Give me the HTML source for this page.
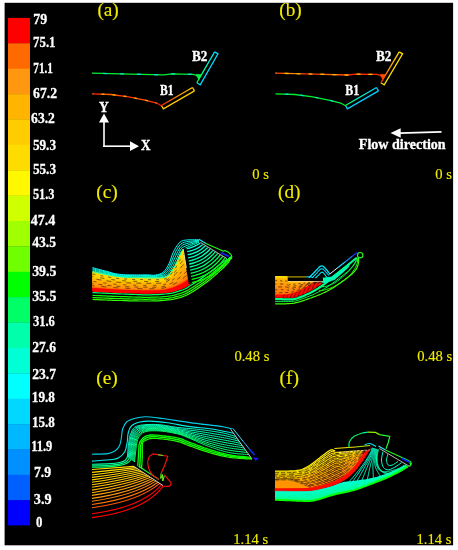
<!DOCTYPE html>
<html><head><meta charset="utf-8"><title>Figure</title>
<style>
html,body{margin:0;padding:0;background:#fff;}
body{width:458px;height:550px;overflow:hidden;}
svg{display:block;}
text{font-family:"Liberation Serif",serif;}
.w{fill:#fff;font-weight:bold;stroke:#fff;stroke-width:0.3px;}
.y{fill:#f0ec00;stroke:#f0ec00;stroke-width:0.15px;}
</style></head><body>
<svg width="458" height="550" viewBox="0 0 458 550">
<rect x="0" y="0" width="458" height="550" fill="#fff"/>
<rect x="4.6" y="2.8" width="448.5" height="542.5" fill="#000"/>

<g id="colorbar">
<rect x="8" y="17.9" width="22" height="25.7" fill="#ff0000"/>
<rect x="8" y="43.3" width="22" height="25.7" fill="#ff6a00"/>
<rect x="8" y="68.7" width="22" height="25.7" fill="#ff9810"/>
<rect x="8" y="94.1" width="22" height="25.7" fill="#ffb400"/>
<rect x="8" y="119.4" width="22" height="25.7" fill="#ffcc00"/>
<rect x="8" y="144.8" width="22" height="25.7" fill="#ffdc00"/>
<rect x="8" y="170.2" width="22" height="25.7" fill="#fff800"/>
<rect x="8" y="195.6" width="22" height="25.7" fill="#d0ff00"/>
<rect x="8" y="221.0" width="22" height="25.7" fill="#a0ff00"/>
<rect x="8" y="246.4" width="22" height="25.7" fill="#70ff00"/>
<rect x="8" y="271.8" width="22" height="25.7" fill="#00ff00"/>
<rect x="8" y="297.1" width="22" height="25.7" fill="#00ff66"/>
<rect x="8" y="322.5" width="22" height="25.7" fill="#00ffaa"/>
<rect x="8" y="347.9" width="22" height="25.7" fill="#00ffd5"/>
<rect x="8" y="373.3" width="22" height="25.7" fill="#00ffff"/>
<rect x="8" y="398.7" width="22" height="25.7" fill="#00d8ff"/>
<rect x="8" y="424.1" width="22" height="25.7" fill="#00b8ff"/>
<rect x="8" y="449.4" width="22" height="25.7" fill="#0090ff"/>
<rect x="8" y="474.8" width="22" height="25.7" fill="#0060ff"/>
<rect x="8" y="500.2" width="22" height="25.2" fill="#0000ff"/>
</g>
<g id="cblabels">
<text class="w" font-size="15" x="33.3" y="24.2" textLength="13.9" lengthAdjust="spacingAndGlyphs">79</text>
<text class="w" font-size="15" x="33.1" y="46.9" textLength="22.4" lengthAdjust="spacingAndGlyphs">75.1</text>
<text class="w" font-size="15" x="33.3" y="73.3" textLength="19.6" lengthAdjust="spacingAndGlyphs">71.1</text>
<text class="w" font-size="15" x="33.1" y="98.4" textLength="24.0" lengthAdjust="spacingAndGlyphs">67.2</text>
<text class="w" font-size="15" x="31.1" y="123.1" textLength="23.8" lengthAdjust="spacingAndGlyphs">63.2</text>
<text class="w" font-size="15" x="32.9" y="150.1" textLength="23.1" lengthAdjust="spacingAndGlyphs">59.3</text>
<text class="w" font-size="15" x="32.9" y="174.3" textLength="23.1" lengthAdjust="spacingAndGlyphs">55.3</text>
<text class="w" font-size="15" x="32.9" y="199.4" textLength="21.5" lengthAdjust="spacingAndGlyphs">51.3</text>
<text class="w" font-size="15" x="30.7" y="225.4" textLength="24.6" lengthAdjust="spacingAndGlyphs">47.4</text>
<text class="w" font-size="15" x="32.2" y="246.8" textLength="23.8" lengthAdjust="spacingAndGlyphs">43.5</text>
<text class="w" font-size="15" x="32.2" y="275.8" textLength="24.2" lengthAdjust="spacingAndGlyphs">39.5</text>
<text class="w" font-size="15" x="32.2" y="300.7" textLength="24.2" lengthAdjust="spacingAndGlyphs">35.5</text>
<text class="w" font-size="15" x="32.9" y="325.8" textLength="22.0" lengthAdjust="spacingAndGlyphs">31.6</text>
<text class="w" font-size="15" x="32.2" y="352.2" textLength="23.8" lengthAdjust="spacingAndGlyphs">27.6</text>
<text class="w" font-size="15" x="32.2" y="379.2" textLength="23.8" lengthAdjust="spacingAndGlyphs">23.7</text>
<text class="w" font-size="15" x="31.8" y="402.1" textLength="23.1" lengthAdjust="spacingAndGlyphs">19.8</text>
<text class="w" font-size="15" x="32.0" y="427.2" textLength="22.9" lengthAdjust="spacingAndGlyphs">15.8</text>
<text class="w" font-size="15" x="31.2" y="451.3" textLength="21.1" lengthAdjust="spacingAndGlyphs">11.9</text>
<text class="w" font-size="15" x="33.9" y="477.2" textLength="17.3" lengthAdjust="spacingAndGlyphs">7.9</text>
<text class="w" font-size="15" x="33.8" y="504.2" textLength="17.8" lengthAdjust="spacingAndGlyphs">3.9</text>
<text class="w" font-size="15" x="36.0" y="527.2" textLength="6.4" lengthAdjust="spacingAndGlyphs">0</text>
</g>
<g id="panel-labels">
<text class="y" font-size="18.5" x="97.4" y="15.7" textLength="21.4" lengthAdjust="spacingAndGlyphs">(a)</text>
<text class="y" font-size="18.5" x="279.3" y="16.4" textLength="22.4" lengthAdjust="spacingAndGlyphs">(b)</text>
<text class="y" font-size="18.5" x="96.3" y="197.7" textLength="21.5" lengthAdjust="spacingAndGlyphs">(c)</text>
<text class="y" font-size="18.5" x="278.0" y="197.7" textLength="22.4" lengthAdjust="spacingAndGlyphs">(d)</text>
<text class="y" font-size="18.5" x="96.3" y="384" textLength="21.5" lengthAdjust="spacingAndGlyphs">(e)</text>
<text class="y" font-size="18.5" x="279.6" y="384" textLength="19.5" lengthAdjust="spacingAndGlyphs">(f)</text>
</g><g id="times">
<text class="y" font-size="15.5" transform="translate(252.3,179) scale(0.945,1)">0 s</text>
<text class="y" font-size="15.5" transform="translate(435.2,179) scale(0.945,1)">0 s</text>
<text class="y" font-size="15.5" transform="translate(234.4,361) scale(0.945,1)">0.48 s</text>
<text class="y" font-size="15.5" transform="translate(417.3,360.8) scale(0.945,1)">0.48 s</text>
<text class="y" font-size="15.5" transform="translate(233.2,544.3) scale(0.945,1)">1.14 s</text>
<text class="y" font-size="15.5" transform="translate(416.5,544.3) scale(0.945,1)">1.14 s</text>
</g><g id="annot">
<text class="w" font-size="14" x="98.9" y="112.4" textLength="9.8" lengthAdjust="spacingAndGlyphs">Y</text>
<text class="w" font-size="14" x="141.1" y="150.3" textLength="9.5" lengthAdjust="spacingAndGlyphs">X</text>
<text class="w" font-size="14" x="358.8" y="148.9" textLength="86.9" lengthAdjust="spacingAndGlyphs">Flow direction</text>
<text class="w" font-size="14" x="160.1" y="95.4" textLength="13.6" lengthAdjust="spacingAndGlyphs">B1</text>
<text class="w" font-size="14" x="192.0" y="61.4" textLength="15.4" lengthAdjust="spacingAndGlyphs">B2</text>
<text class="w" font-size="14" x="345.2" y="94.8" textLength="13.9" lengthAdjust="spacingAndGlyphs">B1</text>
<text class="w" font-size="14" x="376.0" y="61.4" textLength="15.4" lengthAdjust="spacingAndGlyphs">B2</text>
</g>
<g id="axes" fill="#fff" stroke="none">
<rect x="103.2" y="120" width="1.6" height="27"/>
<rect x="103.2" y="145.4" width="30" height="1.6"/>
<polygon points="104,113.5 99,122.5 109,122.5"/>
<polygon points="139,146.2 130,141.3 130,151.1"/>
</g>
<g id="flow" fill="#fff">
<polygon points="400,132.3 441.5,131.1 441.5,132.7 400,133.9"/>
<polygon points="390.5,133 400.7,128.3 400.7,137.7"/>
</g>

<defs>
<linearGradient id="gA1" gradientUnits="userSpaceOnUse" x1="161" y1="106" x2="193" y2="88"><stop offset="0" stop-color="#ff2000"/><stop offset="0.5" stop-color="#ff9000"/><stop offset="1" stop-color="#ffcc00"/></linearGradient>
<linearGradient id="gA2" gradientUnits="userSpaceOnUse" x1="197" y1="83" x2="215" y2="52"><stop offset="0" stop-color="#00ff40"/><stop offset="0.45" stop-color="#00ffaa"/><stop offset="1" stop-color="#00e0ff"/></linearGradient>
<linearGradient id="gA3" gradientUnits="userSpaceOnUse" x1="92" y1="0" x2="162" y2="0"><stop offset="0" stop-color="#ff1000"/><stop offset="0.3" stop-color="#ff7000"/><stop offset="0.45" stop-color="#ff2000"/><stop offset="0.7" stop-color="#ff5000"/><stop offset="1" stop-color="#ff1000"/></linearGradient>
<linearGradient id="gB1" gradientUnits="userSpaceOnUse" x1="345" y1="106" x2="377" y2="88"><stop offset="0" stop-color="#00ff40"/><stop offset="0.4" stop-color="#00ffcc"/><stop offset="1" stop-color="#00ccff"/></linearGradient>
<linearGradient id="gB2" gradientUnits="userSpaceOnUse" x1="381" y1="83" x2="399" y2="52"><stop offset="0" stop-color="#ff2000"/><stop offset="0.4" stop-color="#ff9000"/><stop offset="1" stop-color="#ffdd00"/></linearGradient>
<linearGradient id="gB3" gradientUnits="userSpaceOnUse" x1="275" y1="0" x2="384" y2="0"><stop offset="0" stop-color="#ff2000"/><stop offset="0.15" stop-color="#ff9000"/><stop offset="0.3" stop-color="#ff2000"/><stop offset="0.55" stop-color="#ff7000"/><stop offset="0.7" stop-color="#ff2000"/><stop offset="1" stop-color="#ff3000"/></linearGradient>
</defs>
<g id="pa" fill="none" stroke-width="1.3" stroke-linejoin="miter">
<path d="M92,73.2 L130,74.1 L164,74.9 L172,73.9 L193,74.3 Q196.5,74.8 198.4,77" stroke="#00f030"/>
<path d="M196.3,74.3 L201.3,74.6 L198.7,79.6 Z" fill="#00f040" stroke="#00f040" stroke-width="0.6"/>
<path d="M92.5,93.8 L111,94.5 L128.7,96.8 L146,100.3 L156.6,103 L161.5,105.8" stroke="url(#gA3)"/>
<path d="M194.5,90.9 L163.4,108.9 L161.4,105.5" stroke="#ffcc00"/>
<path d="M161.4,105.5 L192.5,87.5" stroke="url(#gA1)"/>
<path d="M192.5,87.5 L194.5,90.9" stroke="#ffcc00"/>
<path d="M214.6,51.9 L218,53.85 L200.2,84.75 L196.8,82.8" stroke="#00d8ff"/>
<path d="M196.8,82.8 L214.6,51.9" stroke="url(#gA2)"/>
<path d="M92,73.2 L130,74.1 L164,74.9 L172,73.9 L193,74.3" stroke="#00e8c8" stroke-dasharray="4,13" stroke-dashoffset="6"/>
<path d="M92.5,93.8 L111,94.5 L128.7,96.8 L146,100.3 L156.6,103" stroke="#ffa800" stroke-dasharray="3,8" stroke-dashoffset="2"/>
</g>
<g id="pb" fill="none" stroke-width="1.3" stroke-linejoin="miter">
<path d="M275.5,73.2 L314,74.1 L348,75 L356,74.2 L377,74.4 Q380.5,74.9 382.4,77" stroke="url(#gB3)"/>
<path d="M380.3,74.3 L385.3,74.6 L382.7,79.6 Z" fill="#ff4800" stroke="#ff4800" stroke-width="0.6"/>
<path d="M275.5,93.8 L295,94.5 L312.7,96.8 L330,100.3 L340.6,103 L345.5,105.8" stroke="#00f030"/>
<path d="M378.5,90.9 L347.4,108.9 L345.4,105.5" stroke="#00d0ff"/>
<path d="M345.4,105.5 L376.5,87.5" stroke="url(#gB1)"/>
<path d="M376.5,87.5 L378.5,90.9" stroke="#00d0ff"/>
<path d="M399.2,51.9 L402.6,53.85 L384.2,84.75 L380.8,82.8" stroke="#ffe000"/>
<path d="M380.8,82.8 L399.2,51.9" stroke="url(#gB2)"/>
<path d="M275.5,73.2 L314,74.1 L348,75 L356,74.2 L377,74.4" stroke="#ffc000" stroke-dasharray="4,8" stroke-dashoffset="3"/>
<path d="M275.5,93.8 L295,94.5 L312.7,96.8 L330,100.3 L340.6,103" stroke="#00e8c8" stroke-dasharray="3,12" stroke-dashoffset="5"/>
</g>

<g id="pc" fill="none" stroke-linecap="butt" stroke-linejoin="round">
<path d="M92.5,271.8 L94.3,272.1 L96.1,272.5 L97.8,272.9 L99.6,273.2 L101.4,273.6 L103.2,274.0 L105.0,274.3 L106.8,274.7 L108.5,275.0 L110.3,275.3 L112.1,275.7 L113.9,275.9 L115.7,276.2 L117.5,276.5 L119.3,276.7 L121.1,276.9 L122.9,277.1 L124.8,277.2 L126.6,277.3 L128.4,277.4 L130.2,277.5 L132.0,277.5 L133.8,277.6 L135.7,277.6 L137.5,277.7 L139.3,277.7 L141.1,277.7 L142.9,277.7 L144.8,277.8 L146.6,277.8 L148.4,277.8 L150.2,277.8 L152.0,277.9 L153.8,277.9 L155.7,277.9 L157.5,277.9 L159.3,277.9 L161.1,277.8 L162.9,277.6 L164.7,277.3 L166.4,276.7 L168.0,275.8 L169.4,274.6 L170.6,273.3 L171.6,271.7 L172.5,270.2 L173.5,268.6 L174.4,267.1 L175.3,265.5 L176.1,263.9 L176.9,262.2 L177.7,260.6 L178.4,258.9 L179.0,257.2 L179.7,255.5 L180.6,253.9 L181.5,252.4 L182.5,250.8 L183.5,249.3" stroke="#ffe400" stroke-width="1.4" />
<path d="M92.5,272.2 L94.3,272.6 L96.1,272.9 L97.8,273.3 L99.6,273.7 L101.4,274.0 L103.2,274.4 L105.0,274.7 L106.7,275.1 L108.5,275.4 L110.3,275.7 L112.1,276.0 L113.9,276.3 L115.7,276.6 L117.5,276.8 L119.3,277.1 L121.1,277.3 L122.9,277.4 L124.7,277.5 L126.5,277.7 L128.3,277.8 L130.2,277.8 L132.0,277.9 L133.8,277.9 L135.6,278.0 L137.4,278.0 L139.2,278.0 L141.0,278.1 L142.9,278.1 L144.7,278.1 L146.5,278.1 L148.3,278.2 L150.1,278.2 L151.9,278.2 L153.8,278.2 L155.6,278.3 L157.4,278.3 L159.2,278.2 L161.0,278.1 L162.8,278.0 L164.6,277.6 L166.3,277.0 L167.9,276.1 L169.3,275.1 L170.5,273.7 L171.5,272.2 L172.5,270.7 L173.4,269.2 L174.4,267.6 L175.3,266.0 L176.1,264.5 L177.0,262.9 L177.7,261.2 L178.4,259.6 L179.1,257.9 L179.8,256.2 L180.7,254.7 L181.7,253.1 L182.7,251.6 L183.6,250.1" stroke="#ffe200" stroke-width="1.4" />
<path d="M92.5,272.7 L94.3,273.0 L96.1,273.4 L97.8,273.7 L99.6,274.1 L101.4,274.4 L103.2,274.8 L104.9,275.1 L106.7,275.4 L108.5,275.8 L110.3,276.1 L112.1,276.4 L113.9,276.7 L115.7,277.0 L117.5,277.2 L119.3,277.4 L121.1,277.6 L122.9,277.8 L124.7,277.9 L126.5,278.0 L128.3,278.1 L130.1,278.2 L131.9,278.2 L133.7,278.3 L135.5,278.3 L137.3,278.4 L139.2,278.4 L141.0,278.4 L142.8,278.4 L144.6,278.4 L146.4,278.5 L148.2,278.5 L150.0,278.5 L151.8,278.6 L153.7,278.6 L155.5,278.6 L157.3,278.6 L159.1,278.6 L160.9,278.5 L162.7,278.3 L164.5,278.0 L166.2,277.4 L167.8,276.5 L169.2,275.5 L170.4,274.1 L171.4,272.6 L172.4,271.2 L173.4,269.7 L174.3,268.2 L175.3,266.6 L176.1,265.1 L177.0,263.5 L177.8,261.9 L178.5,260.2 L179.2,258.6 L179.9,257.0 L180.8,255.4 L181.8,253.9 L182.8,252.4 L183.8,250.9" stroke="#ffdf00" stroke-width="1.4" />
<path d="M92.5,273.1 L94.3,273.4 L96.1,273.8 L97.8,274.1 L99.6,274.5 L101.4,274.8 L103.2,275.2 L104.9,275.5 L106.7,275.8 L108.5,276.2 L110.3,276.5 L112.1,276.8 L113.8,277.0 L115.6,277.3 L117.4,277.6 L119.2,277.8 L121.0,278.0 L122.8,278.1 L124.6,278.2 L126.4,278.3 L128.2,278.4 L130.0,278.5 L131.9,278.6 L133.7,278.6 L135.5,278.7 L137.3,278.7 L139.1,278.7 L140.9,278.8 L142.7,278.8 L144.5,278.8 L146.3,278.8 L148.1,278.8 L149.9,278.9 L151.8,278.9 L153.6,278.9 L155.4,278.9 L157.2,278.9 L159.0,278.9 L160.8,278.8 L162.6,278.6 L164.4,278.3 L166.1,277.8 L167.7,276.9 L169.1,275.9 L170.3,274.6 L171.3,273.1 L172.3,271.7 L173.3,270.2 L174.3,268.7 L175.2,267.2 L176.1,265.7 L177.0,264.1 L177.8,262.5 L178.5,260.9 L179.3,259.3 L180.0,257.7 L180.9,256.1 L181.9,254.6 L182.9,253.1 L183.9,251.6" stroke="#ffdd00" stroke-width="1.4" />
<path d="M92.5,273.5 L94.3,273.9 L96.0,274.2 L97.8,274.5 L99.6,274.9 L101.4,275.2 L103.1,275.6 L104.9,275.9 L106.7,276.2 L108.5,276.5 L110.2,276.8 L112.0,277.1 L113.8,277.4 L115.6,277.7 L117.4,277.9 L119.2,278.1 L121.0,278.3 L122.8,278.5 L124.6,278.6 L126.4,278.7 L128.2,278.8 L130.0,278.9 L131.8,278.9 L133.6,279.0 L135.4,279.0 L137.2,279.0 L139.0,279.1 L140.8,279.1 L142.6,279.1 L144.4,279.1 L146.2,279.2 L148.0,279.2 L149.9,279.2 L151.7,279.3 L153.5,279.3 L155.3,279.3 L157.1,279.3 L158.9,279.2 L160.7,279.2 L162.5,279.0 L164.3,278.7 L166.0,278.1 L167.5,277.3 L169.0,276.3 L170.2,275.0 L171.2,273.6 L172.3,272.1 L173.3,270.7 L174.3,269.2 L175.2,267.8 L176.1,266.3 L177.0,264.7 L177.8,263.2 L178.6,261.6 L179.4,260.0 L180.2,258.4 L181.1,256.9 L182.0,255.4 L183.1,253.9 L184.1,252.4" stroke="#ffdb00" stroke-width="1.4" />
<path d="M92.5,274.0 L94.3,274.3 L96.0,274.6 L97.8,275.0 L99.6,275.3 L101.4,275.6 L103.1,276.0 L104.9,276.3 L106.7,276.6 L108.4,276.9 L110.2,277.2 L112.0,277.5 L113.8,277.8 L115.6,278.0 L117.4,278.3 L119.1,278.5 L120.9,278.7 L122.7,278.8 L124.5,278.9 L126.3,279.0 L128.1,279.1 L129.9,279.2 L131.7,279.3 L133.5,279.3 L135.3,279.4 L137.1,279.4 L138.9,279.4 L140.7,279.4 L142.6,279.5 L144.4,279.5 L146.2,279.5 L148.0,279.5 L149.8,279.6 L151.6,279.6 L153.4,279.6 L155.2,279.6 L157.0,279.6 L158.8,279.6 L160.6,279.5 L162.4,279.3 L164.1,279.0 L165.9,278.5 L167.4,277.7 L168.9,276.7 L170.1,275.4 L171.2,274.0 L172.2,272.6 L173.3,271.2 L174.3,269.8 L175.2,268.3 L176.1,266.9 L177.0,265.3 L177.9,263.8 L178.7,262.3 L179.4,260.7 L180.3,259.1 L181.2,257.6 L182.2,256.1 L183.2,254.7 L184.2,253.2" stroke="#ffda00" stroke-width="1.4" />
<path d="M92.5,274.4 L94.3,274.7 L96.0,275.1 L97.8,275.4 L99.6,275.7 L101.3,276.0 L103.1,276.4 L104.9,276.7 L106.7,277.0 L108.4,277.3 L110.2,277.6 L112.0,277.9 L113.8,278.1 L115.5,278.4 L117.3,278.6 L119.1,278.8 L120.9,279.0 L122.7,279.2 L124.5,279.3 L126.3,279.4 L128.1,279.5 L129.9,279.5 L131.7,279.6 L133.5,279.7 L135.3,279.7 L137.1,279.7 L138.9,279.8 L140.7,279.8 L142.5,279.8 L144.3,279.8 L146.1,279.9 L147.9,279.9 L149.7,279.9 L151.5,279.9 L153.3,280.0 L155.1,280.0 L156.9,280.0 L158.7,279.9 L160.5,279.8 L162.3,279.7 L164.0,279.4 L165.7,278.9 L167.3,278.0 L168.8,277.1 L170.0,275.9 L171.1,274.5 L172.2,273.1 L173.2,271.7 L174.2,270.3 L175.2,268.9 L176.2,267.5 L177.1,266.0 L177.9,264.5 L178.7,262.9 L179.5,261.4 L180.4,259.9 L181.3,258.4 L182.3,256.9 L183.3,255.4 L184.4,254.0" stroke="#ffd800" stroke-width="1.4" />
<path d="M92.5,274.9 L94.3,275.2 L96.0,275.5 L97.8,275.8 L99.6,276.1 L101.3,276.4 L103.1,276.8 L104.9,277.1 L106.6,277.4 L108.4,277.7 L110.2,278.0 L111.9,278.2 L113.7,278.5 L115.5,278.8 L117.3,279.0 L119.1,279.2 L120.9,279.3 L122.6,279.5 L124.4,279.6 L126.2,279.7 L128.0,279.8 L129.8,279.9 L131.6,279.9 L133.4,280.0 L135.2,280.0 L137.0,280.1 L138.8,280.1 L140.6,280.1 L142.4,280.2 L144.2,280.2 L146.0,280.2 L147.8,280.2 L149.6,280.3 L151.4,280.3 L153.2,280.3 L155.0,280.3 L156.8,280.3 L158.6,280.3 L160.4,280.2 L162.2,280.0 L163.9,279.7 L165.6,279.2 L167.2,278.4 L168.7,277.5 L169.9,276.3 L171.0,274.9 L172.1,273.6 L173.2,272.3 L174.2,270.9 L175.2,269.5 L176.2,268.0 L177.1,266.6 L178.0,265.1 L178.8,263.6 L179.6,262.1 L180.5,260.6 L181.4,259.1 L182.4,257.7 L183.5,256.2 L184.5,254.8" stroke="#ffd700" stroke-width="1.4" />
<path d="M92.5,275.3 L94.3,275.6 L96.0,275.9 L97.8,276.2 L99.6,276.5 L101.3,276.9 L103.1,277.2 L104.8,277.5 L106.6,277.8 L108.4,278.1 L110.1,278.3 L111.9,278.6 L113.7,278.9 L115.5,279.1 L117.2,279.3 L119.0,279.5 L120.8,279.7 L122.6,279.8 L124.4,280.0 L126.2,280.1 L128.0,280.2 L129.8,280.2 L131.6,280.3 L133.4,280.3 L135.1,280.4 L136.9,280.4 L138.7,280.5 L140.5,280.5 L142.3,280.5 L144.1,280.5 L145.9,280.5 L147.7,280.6 L149.5,280.6 L151.3,280.6 L153.1,280.6 L154.9,280.7 L156.7,280.6 L158.5,280.6 L160.3,280.5 L162.0,280.4 L163.8,280.1 L165.5,279.6 L167.1,278.8 L168.6,277.9 L169.8,276.7 L170.9,275.4 L172.0,274.1 L173.1,272.8 L174.2,271.4 L175.2,270.1 L176.2,268.6 L177.1,267.2 L178.0,265.8 L178.9,264.3 L179.7,262.8 L180.6,261.3 L181.5,259.8 L182.6,258.4 L183.6,257.0 L184.6,255.5" stroke="#ffd500" stroke-width="1.4" />
<path d="M92.5,275.7 L94.3,276.0 L96.0,276.3 L97.8,276.6 L99.5,276.9 L101.3,277.3 L103.1,277.6 L104.8,277.9 L106.6,278.2 L108.4,278.4 L110.1,278.7 L111.9,279.0 L113.7,279.2 L115.4,279.5 L117.2,279.7 L119.0,279.9 L120.8,280.0 L122.6,280.2 L124.3,280.3 L126.1,280.4 L127.9,280.5 L129.7,280.6 L131.5,280.6 L133.3,280.7 L135.1,280.7 L136.9,280.8 L138.7,280.8 L140.5,280.8 L142.2,280.8 L144.0,280.9 L145.8,280.9 L147.6,280.9 L149.4,280.9 L151.2,281.0 L153.0,281.0 L154.8,281.0 L156.6,281.0 L158.4,281.0 L160.1,280.9 L161.9,280.7 L163.7,280.4 L165.4,280.0 L167.0,279.2 L168.5,278.3 L169.8,277.1 L170.8,275.9 L172.0,274.6 L173.1,273.3 L174.1,272.0 L175.2,270.6 L176.2,269.2 L177.1,267.8 L178.1,266.4 L178.9,265.0 L179.8,263.5 L180.7,262.0 L181.6,260.6 L182.7,259.2 L183.7,257.7 L184.8,256.3" stroke="#ffd400" stroke-width="1.4" />
<path d="M92.5,276.2 L94.3,276.5 L96.0,276.8 L97.8,277.1 L99.5,277.4 L101.3,277.7 L103.1,278.0 L104.8,278.3 L106.6,278.5 L108.3,278.8 L110.1,279.1 L111.9,279.4 L113.6,279.6 L115.4,279.8 L117.2,280.0 L119.0,280.2 L120.7,280.4 L122.5,280.5 L124.3,280.7 L126.1,280.8 L127.9,280.8 L129.7,280.9 L131.4,281.0 L133.2,281.0 L135.0,281.1 L136.8,281.1 L138.6,281.1 L140.4,281.2 L142.2,281.2 L144.0,281.2 L145.7,281.2 L147.5,281.3 L149.3,281.3 L151.1,281.3 L152.9,281.3 L154.7,281.3 L156.5,281.3 L158.3,281.3 L160.0,281.2 L161.8,281.1 L163.6,280.8 L165.3,280.3 L166.9,279.6 L168.4,278.7 L169.7,277.6 L170.8,276.3 L171.9,275.1 L173.0,273.8 L174.1,272.5 L175.2,271.2 L176.2,269.8 L177.2,268.5 L178.1,267.1 L179.0,265.6 L179.8,264.2 L180.8,262.7 L181.8,261.3 L182.8,259.9 L183.9,258.5 L184.9,257.1" stroke="#ffd300" stroke-width="1.4" />
<path d="M92.5,276.6 L94.3,276.9 L96.0,277.2 L97.8,277.5 L99.5,277.8 L101.3,278.1 L103.0,278.4 L104.8,278.6 L106.6,278.9 L108.3,279.2 L110.1,279.5 L111.8,279.7 L113.6,280.0 L115.4,280.2 L117.1,280.4 L118.9,280.6 L120.7,280.7 L122.5,280.9 L124.3,281.0 L126.0,281.1 L127.8,281.2 L129.6,281.3 L131.4,281.3 L133.2,281.4 L135.0,281.4 L136.7,281.5 L138.5,281.5 L140.3,281.5 L142.1,281.5 L143.9,281.6 L145.7,281.6 L147.4,281.6 L149.2,281.6 L151.0,281.7 L152.8,281.7 L154.6,281.7 L156.4,281.7 L158.1,281.6 L159.9,281.6 L161.7,281.4 L163.5,281.1 L165.2,280.7 L166.8,280.0 L168.3,279.1 L169.6,278.0 L170.7,276.8 L171.8,275.6 L173.0,274.3 L174.1,273.1 L175.1,271.8 L176.2,270.4 L177.2,269.1 L178.1,267.7 L179.0,266.3 L179.9,264.9 L180.9,263.5 L181.9,262.1 L182.9,260.7 L184.0,259.3 L185.1,257.9" stroke="#ffd100" stroke-width="1.4" />
<path d="M92.5,277.0 L94.3,277.3 L96.0,277.6 L97.8,277.9 L99.5,278.2 L101.3,278.5 L103.0,278.8 L104.8,279.0 L106.5,279.3 L108.3,279.6 L110.1,279.8 L111.8,280.1 L113.6,280.3 L115.3,280.6 L117.1,280.8 L118.9,280.9 L120.7,281.1 L122.4,281.2 L124.2,281.3 L126.0,281.4 L127.8,281.5 L129.5,281.6 L131.3,281.7 L133.1,281.7 L134.9,281.8 L136.7,281.8 L138.5,281.8 L140.2,281.9 L142.0,281.9 L143.8,281.9 L145.6,281.9 L147.4,282.0 L149.1,282.0 L150.9,282.0 L152.7,282.0 L154.5,282.0 L156.3,282.0 L158.0,282.0 L159.8,281.9 L161.6,281.8 L163.4,281.5 L165.1,281.0 L166.7,280.3 L168.2,279.5 L169.5,278.4 L170.6,277.3 L171.8,276.1 L172.9,274.9 L174.0,273.6 L175.1,272.3 L176.2,271.0 L177.2,269.7 L178.2,268.4 L179.1,267.0 L180.0,265.6 L181.0,264.2 L182.0,262.8 L183.1,261.4 L184.1,260.1 L185.2,258.7" stroke="#ffce00" stroke-width="1.4" />
<path d="M92.5,277.5 L94.3,277.7 L96.0,278.0 L97.8,278.3 L99.5,278.6 L101.3,278.9 L103.0,279.2 L104.8,279.4 L106.5,279.7 L108.3,280.0 L110.0,280.2 L111.8,280.5 L113.6,280.7 L115.3,280.9 L117.1,281.1 L118.8,281.3 L120.6,281.4 L122.4,281.6 L124.2,281.7 L125.9,281.8 L127.7,281.9 L129.5,281.9 L131.3,282.0 L133.0,282.1 L134.8,282.1 L136.6,282.1 L138.4,282.2 L140.2,282.2 L141.9,282.2 L143.7,282.2 L145.5,282.3 L147.3,282.3 L149.0,282.3 L150.8,282.3 L152.6,282.4 L154.4,282.4 L156.2,282.4 L157.9,282.3 L159.7,282.2 L161.5,282.1 L163.2,281.8 L164.9,281.4 L166.5,280.7 L168.1,279.9 L169.4,278.9 L170.5,277.7 L171.7,276.6 L172.9,275.4 L174.0,274.2 L175.1,272.9 L176.2,271.6 L177.2,270.3 L178.2,269.0 L179.2,267.6 L180.1,266.3 L181.1,264.9 L182.1,263.6 L183.2,262.2 L184.3,260.8 L185.4,259.4" stroke="#ffcb00" stroke-width="1.4" />
<path d="M92.5,277.9 L94.3,278.2 L96.0,278.4 L97.8,278.7 L99.5,279.0 L101.2,279.3 L103.0,279.6 L104.7,279.8 L106.5,280.1 L108.3,280.3 L110.0,280.6 L111.8,280.8 L113.5,281.1 L115.3,281.3 L117.0,281.5 L118.8,281.6 L120.6,281.8 L122.3,281.9 L124.1,282.0 L125.9,282.1 L127.7,282.2 L129.4,282.3 L131.2,282.4 L133.0,282.4 L134.8,282.4 L136.5,282.5 L138.3,282.5 L140.1,282.5 L141.9,282.6 L143.6,282.6 L145.4,282.6 L147.2,282.6 L149.0,282.7 L150.7,282.7 L152.5,282.7 L154.3,282.7 L156.1,282.7 L157.8,282.7 L159.6,282.6 L161.4,282.4 L163.1,282.2 L164.8,281.8 L166.4,281.1 L167.9,280.3 L169.3,279.3 L170.5,278.2 L171.7,277.0 L172.8,275.9 L174.0,274.7 L175.1,273.5 L176.2,272.2 L177.2,271.0 L178.3,269.7 L179.2,268.3 L180.2,267.0 L181.2,265.6 L182.2,264.3 L183.3,263.0 L184.4,261.6 L185.5,260.2" stroke="#ffc700" stroke-width="1.4" />
<path d="M92.5,278.3 L94.2,278.6 L96.0,278.9 L97.7,279.1 L99.5,279.4 L101.2,279.7 L103.0,280.0 L104.7,280.2 L106.5,280.5 L108.2,280.7 L110.0,281.0 L111.7,281.2 L113.5,281.4 L115.3,281.6 L117.0,281.8 L118.8,282.0 L120.5,282.1 L122.3,282.3 L124.1,282.4 L125.8,282.5 L127.6,282.6 L129.4,282.6 L131.2,282.7 L132.9,282.7 L134.7,282.8 L136.5,282.8 L138.2,282.9 L140.0,282.9 L141.8,282.9 L143.6,282.9 L145.3,283.0 L147.1,283.0 L148.9,283.0 L150.6,283.0 L152.4,283.0 L154.2,283.0 L156.0,283.0 L157.7,283.0 L159.5,282.9 L161.3,282.8 L163.0,282.5 L164.7,282.1 L166.3,281.5 L167.8,280.7 L169.2,279.7 L170.4,278.6 L171.6,277.5 L172.8,276.4 L173.9,275.3 L175.1,274.1 L176.2,272.8 L177.3,271.6 L178.3,270.3 L179.3,269.0 L180.3,267.7 L181.3,266.4 L182.3,265.0 L183.4,263.7 L184.5,262.4 L185.6,261.0" stroke="#ffc200" stroke-width="1.4" />
<path d="M92.5,278.8 L94.2,279.0 L96.0,279.3 L97.7,279.6 L99.5,279.8 L101.2,280.1 L103.0,280.4 L104.7,280.6 L106.5,280.9 L108.2,281.1 L110.0,281.3 L111.7,281.6 L113.5,281.8 L115.2,282.0 L117.0,282.2 L118.7,282.3 L120.5,282.5 L122.3,282.6 L124.0,282.7 L125.8,282.8 L127.6,282.9 L129.3,283.0 L131.1,283.0 L132.9,283.1 L134.6,283.1 L136.4,283.2 L138.2,283.2 L139.9,283.2 L141.7,283.3 L143.5,283.3 L145.2,283.3 L147.0,283.3 L148.8,283.4 L150.6,283.4 L152.3,283.4 L154.1,283.4 L155.9,283.4 L157.6,283.3 L159.4,283.3 L161.2,283.1 L162.9,282.9 L164.6,282.5 L166.2,281.9 L167.7,281.1 L169.1,280.2 L170.3,279.1 L171.5,278.0 L172.7,276.9 L173.9,275.8 L175.1,274.6 L176.2,273.4 L177.3,272.2 L178.3,271.0 L179.3,269.7 L180.3,268.4 L181.4,267.1 L182.5,265.8 L183.6,264.5 L184.7,263.1 L185.8,261.8" stroke="#ffbe00" stroke-width="1.4" />
<path d="M92.5,279.2 L94.2,279.5 L96.0,279.7 L97.7,280.0 L99.5,280.2 L101.2,280.5 L103.0,280.7 L104.7,281.0 L106.4,281.2 L108.2,281.5 L109.9,281.7 L111.7,281.9 L113.4,282.1 L115.2,282.4 L116.9,282.5 L118.7,282.7 L120.5,282.8 L122.2,283.0 L124.0,283.1 L125.7,283.2 L127.5,283.2 L129.3,283.3 L131.0,283.4 L132.8,283.4 L134.6,283.5 L136.3,283.5 L138.1,283.6 L139.9,283.6 L141.6,283.6 L143.4,283.6 L145.2,283.7 L146.9,283.7 L148.7,283.7 L150.5,283.7 L152.2,283.7 L154.0,283.7 L155.8,283.7 L157.5,283.7 L159.3,283.6 L161.0,283.5 L162.8,283.3 L164.5,282.9 L166.1,282.2 L167.6,281.5 L169.0,280.6 L170.2,279.6 L171.5,278.5 L172.7,277.5 L173.9,276.3 L175.1,275.2 L176.2,274.0 L177.3,272.8 L178.4,271.6 L179.4,270.3 L180.4,269.1 L181.5,267.8 L182.6,266.5 L183.7,265.2 L184.8,263.9 L185.9,262.6" stroke="#ffba00" stroke-width="1.4" />
<path d="M92.5,279.7 L94.2,279.9 L96.0,280.1 L97.7,280.4 L99.5,280.6 L101.2,280.9 L102.9,281.1 L104.7,281.4 L106.4,281.6 L108.2,281.9 L109.9,282.1 L111.7,282.3 L113.4,282.5 L115.2,282.7 L116.9,282.9 L118.7,283.1 L120.4,283.2 L122.2,283.3 L123.9,283.4 L125.7,283.5 L127.5,283.6 L129.2,283.7 L131.0,283.7 L132.7,283.8 L134.5,283.8 L136.3,283.9 L138.0,283.9 L139.8,283.9 L141.6,284.0 L143.3,284.0 L145.1,284.0 L146.8,284.0 L148.6,284.0 L150.4,284.1 L152.1,284.1 L153.9,284.1 L155.7,284.1 L157.4,284.0 L159.2,284.0 L160.9,283.8 L162.7,283.6 L164.4,283.2 L166.0,282.6 L167.5,281.9 L168.9,281.0 L170.1,280.0 L171.4,279.0 L172.6,278.0 L173.9,276.9 L175.0,275.8 L176.2,274.6 L177.3,273.5 L178.4,272.2 L179.5,271.0 L180.5,269.8 L181.6,268.5 L182.7,267.3 L183.8,266.0 L185.0,264.7 L186.1,263.3" stroke="#ffb600" stroke-width="1.4" />
<path d="M92.5,280.1 L94.2,280.3 L96.0,280.6 L97.7,280.8 L99.5,281.1 L101.2,281.3 L102.9,281.5 L104.7,281.8 L106.4,282.0 L108.1,282.2 L109.9,282.5 L111.6,282.7 L113.4,282.9 L115.1,283.1 L116.9,283.2 L118.6,283.4 L120.4,283.5 L122.1,283.7 L123.9,283.8 L125.6,283.9 L127.4,283.9 L129.2,284.0 L130.9,284.1 L132.7,284.1 L134.4,284.2 L136.2,284.2 L138.0,284.2 L139.7,284.3 L141.5,284.3 L143.2,284.3 L145.0,284.3 L146.8,284.4 L148.5,284.4 L150.3,284.4 L152.0,284.4 L153.8,284.4 L155.6,284.4 L157.3,284.4 L159.1,284.3 L160.8,284.2 L162.6,284.0 L164.3,283.6 L165.9,283.0 L167.4,282.3 L168.8,281.5 L170.1,280.5 L171.3,279.5 L172.6,278.5 L173.8,277.4 L175.0,276.3 L176.2,275.2 L177.4,274.1 L178.5,272.9 L179.5,271.7 L180.6,270.5 L181.7,269.2 L182.8,268.0 L184.0,266.7 L185.1,265.4 L186.2,264.1" stroke="#ffb400" stroke-width="1.4" />
<path d="M92.5,280.5 L94.2,280.8 L96.0,281.0 L97.7,281.2 L99.4,281.5 L101.2,281.7 L102.9,281.9 L104.7,282.2 L106.4,282.4 L108.1,282.6 L109.9,282.8 L111.6,283.0 L113.3,283.2 L115.1,283.4 L116.8,283.6 L118.6,283.8 L120.3,283.9 L122.1,284.0 L123.8,284.1 L125.6,284.2 L127.4,284.3 L129.1,284.3 L130.9,284.4 L132.6,284.5 L134.4,284.5 L136.1,284.5 L137.9,284.6 L139.6,284.6 L141.4,284.6 L143.2,284.7 L144.9,284.7 L146.7,284.7 L148.4,284.7 L150.2,284.8 L151.9,284.8 L153.7,284.8 L155.5,284.7 L157.2,284.7 L159.0,284.6 L160.7,284.5 L162.5,284.3 L164.2,283.9 L165.8,283.4 L167.3,282.7 L168.7,281.9 L170.0,280.9 L171.3,280.0 L172.6,279.0 L173.8,278.0 L175.0,276.9 L176.2,275.8 L177.4,274.7 L178.5,273.5 L179.6,272.4 L180.7,271.2 L181.8,270.0 L182.9,268.7 L184.1,267.5 L185.2,266.2 L186.4,264.9" stroke="#ffb201" stroke-width="1.4" />
<path d="M92.5,281.0 L94.2,281.2 L96.0,281.4 L97.7,281.6 L99.4,281.9 L101.2,282.1 L102.9,282.3 L104.6,282.6 L106.4,282.8 L108.1,283.0 L109.8,283.2 L111.6,283.4 L113.3,283.6 L115.1,283.8 L116.8,284.0 L118.6,284.1 L120.3,284.2 L122.0,284.4 L123.8,284.5 L125.5,284.5 L127.3,284.6 L129.1,284.7 L130.8,284.8 L132.6,284.8 L134.3,284.9 L136.1,284.9 L137.8,284.9 L139.6,285.0 L141.3,285.0 L143.1,285.0 L144.8,285.0 L146.6,285.1 L148.3,285.1 L150.1,285.1 L151.8,285.1 L153.6,285.1 L155.3,285.1 L157.1,285.1 L158.9,285.0 L160.6,284.9 L162.3,284.7 L164.0,284.3 L165.7,283.8 L167.2,283.1 L168.6,282.3 L169.9,281.4 L171.2,280.5 L172.5,279.5 L173.8,278.5 L175.0,277.5 L176.2,276.4 L177.4,275.3 L178.5,274.2 L179.7,273.0 L180.8,271.9 L181.9,270.7 L183.0,269.5 L184.2,268.3 L185.4,267.0 L186.5,265.7" stroke="#ffaf03" stroke-width="1.4" />
<path d="M92.5,281.4 L94.2,281.6 L96.0,281.8 L97.7,282.1 L99.4,282.3 L101.2,282.5 L102.9,282.7 L104.6,283.0 L106.4,283.2 L108.1,283.4 L109.8,283.6 L111.6,283.8 L113.3,284.0 L115.0,284.2 L116.8,284.3 L118.5,284.5 L120.3,284.6 L122.0,284.7 L123.8,284.8 L125.5,284.9 L127.2,285.0 L129.0,285.0 L130.7,285.1 L132.5,285.1 L134.2,285.2 L136.0,285.2 L137.7,285.3 L139.5,285.3 L141.2,285.3 L143.0,285.4 L144.7,285.4 L146.5,285.4 L148.2,285.4 L150.0,285.4 L151.7,285.4 L153.5,285.4 L155.2,285.4 L157.0,285.4 L158.7,285.3 L160.5,285.2 L162.2,285.0 L163.9,284.7 L165.5,284.1 L167.1,283.5 L168.5,282.8 L169.8,281.9 L171.2,281.0 L172.5,280.0 L173.7,279.1 L175.0,278.1 L176.2,277.0 L177.4,275.9 L178.6,274.8 L179.7,273.7 L180.8,272.6 L182.0,271.4 L183.2,270.2 L184.3,269.0 L185.5,267.7 L186.7,266.5" stroke="#ffad04" stroke-width="1.4" />
<path d="M92.5,281.8 L94.2,282.0 L96.0,282.3 L97.7,282.5 L99.4,282.7 L101.1,282.9 L102.9,283.1 L104.6,283.4 L106.3,283.6 L108.1,283.8 L109.8,284.0 L111.5,284.2 L113.3,284.3 L115.0,284.5 L116.7,284.7 L118.5,284.8 L120.2,284.9 L122.0,285.1 L123.7,285.1 L125.5,285.2 L127.2,285.3 L128.9,285.4 L130.7,285.4 L132.4,285.5 L134.2,285.5 L135.9,285.6 L137.7,285.6 L139.4,285.7 L141.2,285.7 L142.9,285.7 L144.7,285.7 L146.4,285.7 L148.2,285.8 L149.9,285.8 L151.7,285.8 L153.4,285.8 L155.1,285.8 L156.9,285.7 L158.6,285.7 L160.4,285.6 L162.1,285.4 L163.8,285.0 L165.4,284.5 L167.0,283.9 L168.4,283.2 L169.8,282.3 L171.1,281.5 L172.4,280.6 L173.7,279.6 L175.0,278.6 L176.2,277.6 L177.4,276.6 L178.6,275.5 L179.8,274.4 L180.9,273.3 L182.1,272.1 L183.3,271.0 L184.5,269.8 L185.6,268.5 L186.8,267.2" stroke="#ffaa05" stroke-width="1.4" />
<path d="M92.5,282.3 L94.2,282.5 L96.0,282.7 L97.7,282.9 L99.4,283.1 L101.1,283.3 L102.9,283.5 L104.6,283.7 L106.3,283.9 L108.0,284.1 L109.8,284.3 L111.5,284.5 L113.2,284.7 L115.0,284.9 L116.7,285.0 L118.4,285.2 L120.2,285.3 L121.9,285.4 L123.7,285.5 L125.4,285.6 L127.1,285.7 L128.9,285.7 L130.6,285.8 L132.4,285.8 L134.1,285.9 L135.9,285.9 L137.6,286.0 L139.3,286.0 L141.1,286.0 L142.8,286.0 L144.6,286.1 L146.3,286.1 L148.1,286.1 L149.8,286.1 L151.6,286.1 L153.3,286.1 L155.0,286.1 L156.8,286.1 L158.5,286.0 L160.3,285.9 L162.0,285.7 L163.7,285.4 L165.3,284.9 L166.9,284.3 L168.3,283.6 L169.7,282.8 L171.0,282.0 L172.4,281.1 L173.7,280.2 L175.0,279.2 L176.2,278.2 L177.5,277.2 L178.7,276.1 L179.8,275.1 L181.0,274.0 L182.2,272.8 L183.4,271.7 L184.6,270.5 L185.8,269.3 L186.9,268.0" stroke="#ffa807" stroke-width="1.4" />
<path d="M92.5,282.7 L94.2,282.9 L95.9,283.1 L97.7,283.3 L99.4,283.5 L101.1,283.7 L102.8,283.9 L104.6,284.1 L106.3,284.3 L108.0,284.5 L109.7,284.7 L111.5,284.9 L113.2,285.1 L114.9,285.2 L116.7,285.4 L118.4,285.5 L120.1,285.6 L121.9,285.7 L123.6,285.8 L125.4,285.9 L127.1,286.0 L128.8,286.1 L130.6,286.1 L132.3,286.2 L134.1,286.2 L135.8,286.3 L137.5,286.3 L139.3,286.3 L141.0,286.4 L142.8,286.4 L144.5,286.4 L146.2,286.4 L148.0,286.5 L149.7,286.5 L151.5,286.5 L153.2,286.5 L154.9,286.5 L156.7,286.4 L158.4,286.4 L160.2,286.2 L161.9,286.1 L163.6,285.8 L165.2,285.3 L166.8,284.7 L168.2,284.0 L169.6,283.3 L171.0,282.4 L172.3,281.6 L173.6,280.7 L174.9,279.8 L176.2,278.8 L177.5,277.8 L178.7,276.8 L179.9,275.7 L181.1,274.7 L182.3,273.6 L183.5,272.5 L184.7,271.3 L185.9,270.0 L187.1,268.8" stroke="#ffa608" stroke-width="1.4" />
<path d="M92.5,283.1 L94.2,283.3 L95.9,283.5 L97.7,283.7 L99.4,283.9 L101.1,284.1 L102.8,284.3 L104.6,284.5 L106.3,284.7 L108.0,284.9 L109.7,285.1 L111.4,285.3 L113.2,285.4 L114.9,285.6 L116.6,285.7 L118.4,285.9 L120.1,286.0 L121.8,286.1 L123.6,286.2 L125.3,286.3 L127.0,286.3 L128.8,286.4 L130.5,286.5 L132.3,286.5 L134.0,286.6 L135.7,286.6 L137.5,286.7 L139.2,286.7 L140.9,286.7 L142.7,286.7 L144.4,286.8 L146.2,286.8 L147.9,286.8 L149.6,286.8 L151.4,286.8 L153.1,286.8 L154.8,286.8 L156.6,286.8 L158.3,286.7 L160.0,286.6 L161.8,286.4 L163.5,286.1 L165.1,285.7 L166.7,285.1 L168.1,284.5 L169.5,283.7 L170.9,282.9 L172.3,282.1 L173.6,281.3 L174.9,280.3 L176.2,279.4 L177.5,278.4 L178.8,277.4 L180.0,276.4 L181.2,275.3 L182.4,274.3 L183.6,273.2 L184.8,272.0 L186.0,270.8 L187.2,269.6" stroke="#ffa30a" stroke-width="1.4" />
<path d="M92.5,283.6 L94.2,283.8 L95.9,284.0 L97.7,284.2 L99.4,284.3 L101.1,284.5 L102.8,284.7 L104.5,284.9 L106.3,285.1 L108.0,285.3 L109.7,285.5 L111.4,285.6 L113.1,285.8 L114.9,286.0 L116.6,286.1 L118.3,286.2 L120.1,286.3 L121.8,286.4 L123.5,286.5 L125.3,286.6 L127.0,286.7 L128.7,286.7 L130.5,286.8 L132.2,286.9 L133.9,286.9 L135.7,287.0 L137.4,287.0 L139.1,287.0 L140.9,287.1 L142.6,287.1 L144.3,287.1 L146.1,287.1 L147.8,287.1 L149.5,287.2 L151.3,287.2 L153.0,287.2 L154.7,287.1 L156.5,287.1 L158.2,287.0 L159.9,286.9 L161.7,286.8 L163.4,286.5 L165.0,286.1 L166.6,285.5 L168.1,284.9 L169.4,284.2 L170.8,283.4 L172.2,282.6 L173.6,281.8 L174.9,280.9 L176.2,280.0 L177.5,279.1 L178.8,278.1 L180.0,277.1 L181.2,276.0 L182.5,275.0 L183.7,273.9 L185.0,272.8 L186.2,271.6 L187.4,270.3" stroke="#ffa10b" stroke-width="1.4" />
<path d="M92.5,284.0 L94.2,284.2 L95.9,284.4 L97.7,284.6 L99.4,284.8 L101.1,284.9 L102.8,285.1 L104.5,285.3 L106.2,285.5 L108.0,285.7 L109.7,285.8 L111.4,286.0 L113.1,286.2 L114.8,286.3 L116.6,286.4 L118.3,286.6 L120.0,286.7 L121.7,286.8 L123.5,286.9 L125.2,287.0 L126.9,287.0 L128.7,287.1 L130.4,287.2 L132.1,287.2 L133.9,287.3 L135.6,287.3 L137.3,287.3 L139.1,287.4 L140.8,287.4 L142.5,287.4 L144.2,287.5 L146.0,287.5 L147.7,287.5 L149.4,287.5 L151.2,287.5 L152.9,287.5 L154.6,287.5 L156.4,287.4 L158.1,287.4 L159.8,287.3 L161.5,287.1 L163.2,286.8 L164.9,286.4 L166.5,285.9 L168.0,285.3 L169.4,284.6 L170.8,283.9 L172.2,283.2 L173.6,282.3 L174.9,281.5 L176.2,280.6 L177.6,279.7 L178.8,278.7 L180.1,277.7 L181.3,276.7 L182.6,275.7 L183.8,274.7 L185.1,273.5 L186.3,272.3 L187.5,271.1" stroke="#ff9e0c" stroke-width="1.4" />
<path d="M92.5,284.5 L94.2,284.6 L95.9,284.8 L97.6,285.0 L99.4,285.2 L101.1,285.4 L102.8,285.5 L104.5,285.7 L106.2,285.9 L107.9,286.1 L109.7,286.2 L111.4,286.4 L113.1,286.5 L114.8,286.7 L116.5,286.8 L118.3,286.9 L120.0,287.0 L121.7,287.1 L123.4,287.2 L125.2,287.3 L126.9,287.4 L128.6,287.4 L130.3,287.5 L132.1,287.6 L133.8,287.6 L135.5,287.6 L137.3,287.7 L139.0,287.7 L140.7,287.7 L142.4,287.8 L144.2,287.8 L145.9,287.8 L147.6,287.8 L149.4,287.8 L151.1,287.8 L152.8,287.8 L154.5,287.8 L156.3,287.8 L158.0,287.7 L159.7,287.6 L161.4,287.5 L163.1,287.2 L164.8,286.8 L166.4,286.4 L167.9,285.8 L169.3,285.1 L170.7,284.4 L172.1,283.7 L173.5,282.9 L174.9,282.1 L176.2,281.2 L177.6,280.3 L178.9,279.4 L180.2,278.4 L181.4,277.4 L182.7,276.5 L184.0,275.4 L185.2,274.3 L186.4,273.1 L187.7,271.9" stroke="#ff9c0e" stroke-width="1.4" />
<path d="M92.5,284.9 L94.2,285.1 L95.9,285.2 L97.6,285.4 L99.3,285.6 L101.1,285.8 L102.8,285.9 L104.5,286.1 L106.2,286.3 L107.9,286.4 L109.6,286.6 L111.3,286.7 L113.1,286.9 L114.8,287.0 L116.5,287.2 L118.2,287.3 L119.9,287.4 L121.7,287.5 L123.4,287.6 L125.1,287.6 L126.8,287.7 L128.6,287.8 L130.3,287.8 L132.0,287.9 L133.7,287.9 L135.5,288.0 L137.2,288.0 L138.9,288.1 L140.6,288.1 L142.4,288.1 L144.1,288.1 L145.8,288.2 L147.5,288.2 L149.3,288.2 L151.0,288.2 L152.7,288.2 L154.4,288.2 L156.2,288.1 L157.9,288.1 L159.6,288.0 L161.3,287.8 L163.0,287.6 L164.7,287.2 L166.3,286.8 L167.8,286.2 L169.2,285.6 L170.7,284.9 L172.1,284.2 L173.5,283.4 L174.9,282.6 L176.3,281.8 L177.6,280.9 L178.9,280.0 L180.2,279.1 L181.5,278.1 L182.8,277.2 L184.1,276.2 L185.4,275.1 L186.6,273.9 L187.8,272.7" stroke="#ff9a0f" stroke-width="1.4" />
<path d="M92.5,285.3 L94.2,285.5 L95.9,285.7 L97.6,285.8 L99.3,286.0 L101.1,286.2 L102.8,286.3 L104.5,286.5 L106.2,286.7 L107.9,286.8 L109.6,287.0 L111.3,287.1 L113.0,287.3 L114.7,287.4 L116.5,287.5 L118.2,287.6 L119.9,287.7 L121.6,287.8 L123.3,287.9 L125.1,288.0 L126.8,288.1 L128.5,288.1 L130.2,288.2 L131.9,288.2 L133.7,288.3 L135.4,288.3 L137.1,288.4 L138.8,288.4 L140.6,288.4 L142.3,288.5 L144.0,288.5 L145.7,288.5 L147.4,288.5 L149.2,288.5 L150.9,288.5 L152.6,288.5 L154.3,288.5 L156.1,288.5 L157.8,288.4 L159.5,288.3 L161.2,288.2 L162.9,287.9 L164.5,287.6 L166.1,287.2 L167.7,286.6 L169.1,286.0 L170.6,285.4 L172.0,284.7 L173.5,284.0 L174.9,283.2 L176.3,282.4 L177.6,281.6 L179.0,280.7 L180.3,279.8 L181.6,278.8 L182.9,277.9 L184.2,276.9 L185.5,275.8 L186.7,274.6 L187.9,273.5" stroke="#ff9710" stroke-width="1.4" />
<path d="M92.5,285.8 L94.2,285.9 L95.9,286.1 L97.6,286.2 L99.3,286.4 L101.0,286.6 L102.7,286.7 L104.5,286.9 L106.2,287.0 L107.9,287.2 L109.6,287.3 L111.3,287.5 L113.0,287.6 L114.7,287.8 L116.4,287.9 L118.1,288.0 L119.9,288.1 L121.6,288.2 L123.3,288.3 L125.0,288.3 L126.7,288.4 L128.4,288.5 L130.2,288.5 L131.9,288.6 L133.6,288.6 L135.3,288.7 L137.0,288.7 L138.8,288.8 L140.5,288.8 L142.2,288.8 L143.9,288.8 L145.6,288.9 L147.4,288.9 L149.1,288.9 L150.8,288.9 L152.5,288.9 L154.2,288.8 L156.0,288.8 L157.7,288.8 L159.4,288.7 L161.1,288.5 L162.8,288.3 L164.4,288.0 L166.0,287.6 L167.6,287.1 L169.1,286.5 L170.5,285.9 L172.0,285.2 L173.4,284.5 L174.9,283.8 L176.3,283.0 L177.6,282.2 L179.0,281.3 L180.3,280.4 L181.7,279.5 L183.0,278.6 L184.3,277.6 L185.6,276.6 L186.9,275.4 L188.1,274.2" stroke="#ff930e" stroke-width="1.4" />
<path d="M92.5,286.2 L94.2,286.3 L95.9,286.5 L97.6,286.7 L99.3,286.8 L101.0,287.0 L102.7,287.1 L104.4,287.3 L106.1,287.4 L107.9,287.6 L109.6,287.7 L111.3,287.9 L113.0,288.0 L114.7,288.1 L116.4,288.2 L118.1,288.3 L119.8,288.4 L121.5,288.5 L123.2,288.6 L125.0,288.7 L126.7,288.7 L128.4,288.8 L130.1,288.9 L131.8,288.9 L133.5,289.0 L135.3,289.0 L137.0,289.1 L138.7,289.1 L140.4,289.1 L142.1,289.2 L143.8,289.2 L145.5,289.2 L147.3,289.2 L149.0,289.2 L150.7,289.2 L152.4,289.2 L154.1,289.2 L155.8,289.2 L157.6,289.1 L159.3,289.0 L161.0,288.9 L162.7,288.7 L164.3,288.3 L165.9,288.0 L167.5,287.5 L169.0,286.9 L170.5,286.4 L171.9,285.7 L173.4,285.1 L174.8,284.4 L176.3,283.6 L177.7,282.8 L179.0,282.0 L180.4,281.1 L181.7,280.2 L183.1,279.3 L184.4,278.4 L185.7,277.3 L187.0,276.2 L188.2,275.0" stroke="#ff8f0d" stroke-width="1.4" />
<path d="M92.5,286.6 L94.2,286.8 L95.9,286.9 L97.6,287.1 L99.3,287.2 L101.0,287.4 L102.7,287.5 L104.4,287.7 L106.1,287.8 L107.8,288.0 L109.5,288.1 L111.2,288.2 L112.9,288.3 L114.7,288.5 L116.4,288.6 L118.1,288.7 L119.8,288.8 L121.5,288.9 L123.2,288.9 L124.9,289.0 L126.6,289.1 L128.3,289.2 L130.0,289.2 L131.8,289.3 L133.5,289.3 L135.2,289.4 L136.9,289.4 L138.6,289.4 L140.3,289.5 L142.0,289.5 L143.7,289.5 L145.5,289.5 L147.2,289.6 L148.9,289.6 L150.6,289.6 L152.3,289.5 L154.0,289.5 L155.7,289.5 L157.5,289.4 L159.2,289.4 L160.9,289.2 L162.6,289.0 L164.2,288.7 L165.8,288.4 L167.4,287.9 L168.9,287.4 L170.4,286.9 L171.9,286.3 L173.4,285.6 L174.8,284.9 L176.3,284.2 L177.7,283.4 L179.1,282.6 L180.5,281.8 L181.8,280.9 L183.2,280.1 L184.5,279.1 L185.9,278.1 L187.1,277.0 L188.4,275.8" stroke="#ff8b0b" stroke-width="1.4" />
<path d="M92.5,287.1 L94.2,287.2 L95.9,287.4 L97.6,287.5 L99.3,287.6 L101.0,287.8 L102.7,287.9 L104.4,288.1 L106.1,288.2 L107.8,288.3 L109.5,288.5 L111.2,288.6 L112.9,288.7 L114.6,288.8 L116.3,288.9 L118.0,289.0 L119.7,289.1 L121.4,289.2 L123.2,289.3 L124.9,289.4 L126.6,289.4 L128.3,289.5 L130.0,289.6 L131.7,289.6 L133.4,289.7 L135.1,289.7 L136.8,289.7 L138.5,289.8 L140.2,289.8 L142.0,289.9 L143.7,289.9 L145.4,289.9 L147.1,289.9 L148.8,289.9 L150.5,289.9 L152.2,289.9 L153.9,289.9 L155.6,289.8 L157.3,289.8 L159.1,289.7 L160.8,289.6 L162.4,289.4 L164.1,289.1 L165.7,288.8 L167.3,288.4 L168.8,287.9 L170.3,287.3 L171.8,286.8 L173.3,286.2 L174.8,285.5 L176.3,284.8 L177.7,284.1 L179.1,283.3 L180.5,282.5 L181.9,281.6 L183.3,280.8 L184.7,279.9 L186.0,278.8 L187.3,277.7 L188.5,276.6" stroke="#ff8108" stroke-width="1.4" />
<path d="M92.5,287.5 L94.2,287.6 L95.9,287.8 L97.6,287.9 L99.3,288.0 L101.0,288.2 L102.7,288.3 L104.4,288.5 L106.1,288.6 L107.8,288.7 L109.5,288.8 L111.2,289.0 L112.9,289.1 L114.6,289.2 L116.3,289.3 L118.0,289.4 L119.7,289.5 L121.4,289.6 L123.1,289.6 L124.8,289.7 L126.5,289.8 L128.2,289.8 L129.9,289.9 L131.6,290.0 L133.3,290.0 L135.1,290.1 L136.8,290.1 L138.5,290.1 L140.2,290.2 L141.9,290.2 L143.6,290.2 L145.3,290.2 L147.0,290.2 L148.7,290.3 L150.4,290.2 L152.1,290.2 L153.8,290.2 L155.5,290.2 L157.2,290.1 L158.9,290.0 L160.6,289.9 L162.3,289.8 L164.0,289.5 L165.6,289.2 L167.2,288.8 L168.7,288.3 L170.3,287.8 L171.8,287.3 L173.3,286.7 L174.8,286.1 L176.3,285.4 L177.7,284.7 L179.2,283.9 L180.6,283.1 L182.0,282.3 L183.4,281.5 L184.8,280.6 L186.1,279.6 L187.4,278.5 L188.7,277.4" stroke="#ff7404" stroke-width="1.4" />
<path d="M92.5,287.9 L94.2,288.1 L95.9,288.2 L97.6,288.3 L99.3,288.5 L101.0,288.6 L102.7,288.7 L104.4,288.8 L106.1,289.0 L107.8,289.1 L109.5,289.2 L111.2,289.3 L112.9,289.4 L114.6,289.5 L116.3,289.7 L118.0,289.7 L119.7,289.8 L121.4,289.9 L123.1,290.0 L124.8,290.1 L126.5,290.1 L128.2,290.2 L129.9,290.2 L131.6,290.3 L133.3,290.3 L135.0,290.4 L136.7,290.4 L138.4,290.5 L140.1,290.5 L141.8,290.5 L143.5,290.6 L145.2,290.6 L146.9,290.6 L148.6,290.6 L150.3,290.6 L152.0,290.6 L153.7,290.6 L155.4,290.5 L157.1,290.5 L158.8,290.4 L160.5,290.3 L162.2,290.1 L163.9,289.9 L165.5,289.6 L167.1,289.2 L168.7,288.8 L170.2,288.3 L171.8,287.8 L173.3,287.3 L174.8,286.6 L176.3,286.0 L177.8,285.3 L179.2,284.6 L180.6,283.8 L182.1,283.0 L183.5,282.2 L184.9,281.3 L186.2,280.4 L187.5,279.3 L188.8,278.1" stroke="#ff6400" stroke-width="1.4" />
<path d="M92.5,288.4 L94.2,288.5 L95.9,288.6 L97.6,288.7 L99.3,288.9 L101.0,289.0 L102.7,289.1 L104.4,289.2 L106.1,289.4 L107.7,289.5 L109.4,289.6 L111.1,289.7 L112.8,289.8 L114.5,289.9 L116.2,290.0 L117.9,290.1 L119.6,290.2 L121.3,290.3 L123.0,290.3 L124.7,290.4 L126.4,290.5 L128.1,290.5 L129.8,290.6 L131.5,290.6 L133.2,290.7 L134.9,290.7 L136.6,290.8 L138.3,290.8 L140.0,290.9 L141.7,290.9 L143.4,290.9 L145.1,290.9 L146.8,290.9 L148.5,290.9 L150.2,290.9 L151.9,290.9 L153.6,290.9 L155.3,290.9 L157.0,290.8 L158.7,290.7 L160.4,290.6 L162.1,290.5 L163.8,290.3 L165.4,290.0 L167.0,289.6 L168.6,289.3 L170.1,288.8 L171.7,288.3 L173.2,287.8 L174.8,287.2 L176.3,286.6 L177.8,285.9 L179.3,285.2 L180.7,284.5 L182.1,283.7 L183.6,282.9 L185.0,282.1 L186.4,281.1 L187.7,280.0 L188.9,278.9" stroke="#ff2a00" stroke-width="1.4" />
<path d="M92.5,288.8 L94.2,288.9 L95.9,289.0 L97.6,289.2 L99.3,289.3 L101.0,289.4 L102.6,289.5 L104.3,289.6 L106.0,289.7 L107.7,289.9 L109.4,290.0 L111.1,290.1 L112.8,290.2 L114.5,290.3 L116.2,290.4 L117.9,290.4 L119.6,290.5 L121.3,290.6 L123.0,290.7 L124.7,290.7 L126.4,290.8 L128.1,290.9 L129.8,290.9 L131.5,291.0 L133.2,291.0 L134.8,291.1 L136.5,291.1 L138.2,291.2 L139.9,291.2 L141.6,291.2 L143.3,291.3 L145.0,291.3 L146.7,291.3 L148.4,291.3 L150.1,291.3 L151.8,291.3 L153.5,291.2 L155.2,291.2 L156.9,291.2 L158.6,291.1 L160.3,291.0 L162.0,290.8 L163.7,290.6 L165.3,290.4 L166.9,290.1 L168.5,289.7 L170.1,289.3 L171.7,288.9 L173.2,288.3 L174.8,287.8 L176.3,287.2 L177.8,286.5 L179.3,285.9 L180.8,285.2 L182.2,284.4 L183.7,283.7 L185.1,282.8 L186.5,281.9 L187.8,280.8 L189.1,279.7" stroke="#ff0000" stroke-width="1.4" />
<path d="M92.5,289.3 L94.2,289.4 L95.9,289.5 L97.6,289.6 L99.3,289.7 L100.9,289.8 L102.6,289.9 L104.3,290.0 L106.0,290.1 L107.7,290.2 L109.4,290.3 L111.1,290.4 L112.8,290.5 L114.5,290.6 L116.2,290.7 L117.8,290.8 L119.5,290.9 L121.2,291.0 L122.9,291.0 L124.6,291.1 L126.3,291.1 L128.0,291.2 L129.7,291.3 L131.4,291.3 L133.1,291.4 L134.8,291.4 L136.5,291.5 L138.2,291.5 L139.9,291.5 L141.6,291.6 L143.3,291.6 L144.9,291.6 L146.6,291.6 L148.3,291.6 L150.0,291.6 L151.7,291.6 L153.4,291.6 L155.1,291.5 L156.8,291.5 L158.5,291.4 L160.2,291.3 L161.9,291.2 L163.5,291.0 L165.2,290.8 L166.8,290.5 L168.4,290.2 L170.0,289.8 L171.6,289.4 L173.2,288.9 L174.7,288.4 L176.3,287.8 L177.8,287.2 L179.3,286.5 L180.8,285.8 L182.3,285.1 L183.8,284.4 L185.2,283.6 L186.6,282.6 L187.9,281.6 L189.2,280.5" stroke="#ff0000" stroke-width="1.4" />
<path d="M92.5,289.7 L94.2,289.8 L95.9,289.9 L97.6,290.0 L99.2,290.1 L100.9,290.2 L102.6,290.3 L104.3,290.4 L106.0,290.5 L107.7,290.6 L109.4,290.7 L111.1,290.8 L112.7,290.9 L114.4,291.0 L116.1,291.1 L117.8,291.2 L119.5,291.2 L121.2,291.3 L122.9,291.4 L124.6,291.4 L126.3,291.5 L128.0,291.6 L129.6,291.6 L131.3,291.7 L133.0,291.7 L134.7,291.8 L136.4,291.8 L138.1,291.9 L139.8,291.9 L141.5,291.9 L143.2,291.9 L144.9,292.0 L146.6,292.0 L148.2,292.0 L149.9,292.0 L151.6,291.9 L153.3,291.9 L155.0,291.9 L156.7,291.8 L158.4,291.8 L160.1,291.7 L161.8,291.6 L163.4,291.4 L165.1,291.2 L166.7,290.9 L168.3,290.6 L170.0,290.3 L171.6,289.9 L173.2,289.4 L174.7,288.9 L176.3,288.4 L177.8,287.8 L179.4,287.2 L180.9,286.5 L182.4,285.8 L183.9,285.1 L185.4,284.3 L186.8,283.4 L188.1,282.3 L189.4,281.3" stroke="#ff0000" stroke-width="1.4" />
<path d="M92.5,290.1 L94.2,290.2 L95.9,290.3 L97.6,290.4 L99.2,290.5 L100.9,290.6 L102.6,290.7 L104.3,290.8 L106.0,290.9 L107.7,291.0 L109.3,291.1 L111.0,291.2 L112.7,291.3 L114.4,291.3 L116.1,291.4 L117.8,291.5 L119.5,291.6 L121.1,291.6 L122.8,291.7 L124.5,291.8 L126.2,291.8 L127.9,291.9 L129.6,292.0 L131.3,292.0 L133.0,292.1 L134.6,292.1 L136.3,292.2 L138.0,292.2 L139.7,292.2 L141.4,292.3 L143.1,292.3 L144.8,292.3 L146.5,292.3 L148.2,292.3 L149.8,292.3 L151.5,292.3 L153.2,292.3 L154.9,292.2 L156.6,292.2 L158.3,292.1 L160.0,292.0 L161.6,291.9 L163.3,291.8 L165.0,291.6 L166.6,291.4 L168.3,291.1 L169.9,290.8 L171.5,290.4 L173.1,290.0 L174.7,289.5 L176.3,289.0 L177.9,288.4 L179.4,287.8 L181.0,287.2 L182.5,286.5 L184.0,285.8 L185.5,285.1 L186.9,284.1 L188.2,283.1 L189.5,282.0" stroke="#ff0000" stroke-width="1.4" />
<path d="M92.5,290.6 L94.2,290.7 L95.9,290.7 L97.5,290.8 L99.2,290.9 L100.9,291.0 L102.6,291.1 L104.3,291.2 L106.0,291.3 L107.6,291.4 L109.3,291.5 L111.0,291.5 L112.7,291.6 L114.4,291.7 L116.1,291.8 L117.7,291.9 L119.4,291.9 L121.1,292.0 L122.8,292.1 L124.5,292.1 L126.2,292.2 L127.8,292.2 L129.5,292.3 L131.2,292.4 L132.9,292.4 L134.6,292.5 L136.3,292.5 L137.9,292.5 L139.6,292.6 L141.3,292.6 L143.0,292.6 L144.7,292.7 L146.4,292.7 L148.1,292.7 L149.7,292.6 L151.4,292.6 L153.1,292.6 L154.8,292.6 L156.5,292.5 L158.2,292.5 L159.9,292.4 L161.5,292.3 L163.2,292.2 L164.9,292.0 L166.5,291.8 L168.2,291.6 L169.8,291.3 L171.5,290.9 L173.1,290.5 L174.7,290.1 L176.3,289.6 L177.9,289.0 L179.5,288.5 L181.0,287.9 L182.6,287.2 L184.1,286.6 L185.6,285.8 L187.0,284.9 L188.3,283.9 L189.7,282.8" stroke="#ff0000" stroke-width="1.4" />
<path d="M92.5,291.0 L94.2,291.1 L95.9,291.2 L97.5,291.3 L99.2,291.3 L100.9,291.4 L102.6,291.5 L104.3,291.6 L105.9,291.7 L107.6,291.8 L109.3,291.8 L111.0,291.9 L112.7,292.0 L114.3,292.1 L116.0,292.1 L117.7,292.2 L119.4,292.3 L121.1,292.3 L122.7,292.4 L124.4,292.5 L126.1,292.5 L127.8,292.6 L129.5,292.6 L131.1,292.7 L132.8,292.8 L134.5,292.8 L136.2,292.8 L137.9,292.9 L139.6,292.9 L141.2,293.0 L142.9,293.0 L144.6,293.0 L146.3,293.0 L148.0,293.0 L149.6,293.0 L151.3,293.0 L153.0,292.9 L154.7,292.9 L156.4,292.9 L158.1,292.8 L159.7,292.7 L161.4,292.7 L163.1,292.5 L164.8,292.4 L166.4,292.2 L168.1,292.0 L169.8,291.8 L171.4,291.5 L173.1,291.1 L174.7,290.6 L176.3,290.2 L177.9,289.7 L179.5,289.1 L181.1,288.5 L182.6,287.9 L184.2,287.3 L185.7,286.5 L187.1,285.7 L188.5,284.6 L189.8,283.6" stroke="#ff0000" stroke-width="1.4" />
<path d="M92.5,274.1 L94.3,274.4 L96.0,274.8 L97.8,275.1 L99.6,275.4 L101.3,275.8 L103.1,276.1 L104.9,276.4 L106.7,276.7 L108.4,277.0 L110.2,277.3 L112.0,277.6 L113.8,277.9 L115.6,278.1 L117.3,278.4 L119.1,278.6 L120.9,278.7 L122.7,278.9 L124.5,279.0 L126.3,279.1 L128.1,279.2 L129.9,279.3 L131.7,279.4 L133.5,279.4 L135.3,279.5 L137.1,279.5 L138.9,279.5 L140.7,279.5 L142.5,279.6 L144.3,279.6 L146.1,279.6 L147.9,279.6 L149.7,279.7 L151.5,279.7 L153.3,279.7 L155.1,279.7 L156.9,279.7 L158.7,279.7 L160.5,279.6 L162.3,279.4 L164.1,279.1 L165.8,278.6 L167.4,277.8 L168.9,276.8 L170.1,275.5 L171.1,274.2 L172.2,272.8 L173.2,271.4 L174.2,269.9 L175.2,268.5 L176.2,267.0 L177.0,265.5 L177.9,264.0 L178.7,262.4 L179.5,260.9 L180.3,259.3 L181.2,257.8 L182.2,256.4 L183.2,254.9 L184.3,253.4" stroke="#201000" stroke-opacity="0.75" stroke-width="0.8" stroke-dasharray="3,5" stroke-dashoffset="0"/>
<path d="M92.5,276.4 L94.3,276.7 L96.0,277.0 L97.8,277.3 L99.5,277.6 L101.3,277.9 L103.0,278.2 L104.8,278.5 L106.6,278.8 L108.3,279.0 L110.1,279.3 L111.9,279.6 L113.6,279.8 L115.4,280.0 L117.2,280.2 L118.9,280.4 L120.7,280.6 L122.5,280.7 L124.3,280.8 L126.1,281.0 L127.8,281.0 L129.6,281.1 L131.4,281.2 L133.2,281.2 L135.0,281.3 L136.8,281.3 L138.6,281.3 L140.3,281.4 L142.1,281.4 L143.9,281.4 L145.7,281.4 L147.5,281.5 L149.3,281.5 L151.1,281.5 L152.8,281.5 L154.6,281.5 L156.4,281.5 L158.2,281.5 L160.0,281.4 L161.8,281.3 L163.5,281.0 L165.2,280.5 L166.8,279.8 L168.3,278.9 L169.6,277.8 L170.7,276.6 L171.9,275.4 L173.0,274.1 L174.1,272.8 L175.1,271.5 L176.2,270.2 L177.2,268.8 L178.1,267.4 L179.0,266.0 L179.9,264.6 L180.8,263.1 L181.8,261.7 L182.9,260.4 L183.9,258.9 L185.0,257.5" stroke="#201000" stroke-opacity="0.75" stroke-width="0.8" stroke-dasharray="4,7" stroke-dashoffset="3"/>
<path d="M92.5,278.7 L94.2,279.0 L96.0,279.2 L97.7,279.5 L99.5,279.8 L101.2,280.0 L103.0,280.3 L104.7,280.5 L106.5,280.8 L108.2,281.0 L110.0,281.3 L111.7,281.5 L113.5,281.7 L115.2,281.9 L117.0,282.1 L118.7,282.3 L120.5,282.4 L122.3,282.6 L124.0,282.7 L125.8,282.8 L127.6,282.8 L129.3,282.9 L131.1,283.0 L132.9,283.0 L134.6,283.1 L136.4,283.1 L138.2,283.2 L139.9,283.2 L141.7,283.2 L143.5,283.2 L145.3,283.3 L147.0,283.3 L148.8,283.3 L150.6,283.3 L152.3,283.3 L154.1,283.3 L155.9,283.3 L157.6,283.3 L159.4,283.2 L161.2,283.1 L162.9,282.8 L164.6,282.4 L166.2,281.8 L167.8,281.0 L169.1,280.1 L170.3,279.0 L171.5,278.0 L172.7,276.8 L173.9,275.7 L175.1,274.5 L176.2,273.3 L177.3,272.1 L178.3,270.8 L179.3,269.6 L180.3,268.3 L181.3,267.0 L182.4,265.7 L183.6,264.3 L184.7,263.0 L185.8,261.6" stroke="#201000" stroke-opacity="0.75" stroke-width="0.8" stroke-dasharray="5,5" stroke-dashoffset="6"/>
<path d="M92.5,281.4 L94.2,281.6 L96.0,281.8 L97.7,282.1 L99.4,282.3 L101.2,282.5 L102.9,282.7 L104.6,283.0 L106.4,283.2 L108.1,283.4 L109.8,283.6 L111.6,283.8 L113.3,284.0 L115.0,284.2 L116.8,284.3 L118.5,284.5 L120.3,284.6 L122.0,284.7 L123.8,284.8 L125.5,284.9 L127.2,285.0 L129.0,285.0 L130.7,285.1 L132.5,285.1 L134.2,285.2 L136.0,285.2 L137.7,285.3 L139.5,285.3 L141.2,285.3 L143.0,285.4 L144.7,285.4 L146.5,285.4 L148.2,285.4 L150.0,285.4 L151.7,285.4 L153.5,285.4 L155.2,285.4 L157.0,285.4 L158.7,285.3 L160.5,285.2 L162.2,285.0 L163.9,284.7 L165.5,284.1 L167.1,283.5 L168.5,282.8 L169.8,281.9 L171.2,281.0 L172.5,280.0 L173.7,279.1 L175.0,278.1 L176.2,277.0 L177.4,275.9 L178.6,274.8 L179.7,273.7 L180.8,272.6 L182.0,271.4 L183.2,270.2 L184.3,269.0 L185.5,267.7 L186.7,266.5" stroke="#201000" stroke-opacity="0.75" stroke-width="0.8" stroke-dasharray="3,7" stroke-dashoffset="9"/>
<path d="M92.5,283.7 L94.2,283.9 L95.9,284.1 L97.7,284.3 L99.4,284.5 L101.1,284.7 L102.8,284.8 L104.5,285.0 L106.3,285.2 L108.0,285.4 L109.7,285.6 L111.4,285.7 L113.1,285.9 L114.9,286.1 L116.6,286.2 L118.3,286.3 L120.0,286.4 L121.8,286.5 L123.5,286.6 L125.2,286.7 L127.0,286.8 L128.7,286.8 L130.4,286.9 L132.2,287.0 L133.9,287.0 L135.6,287.1 L137.4,287.1 L139.1,287.1 L140.8,287.2 L142.6,287.2 L144.3,287.2 L146.0,287.2 L147.8,287.2 L149.5,287.3 L151.2,287.3 L153.0,287.2 L154.7,287.2 L156.4,287.2 L158.2,287.1 L159.9,287.0 L161.6,286.9 L163.3,286.6 L165.0,286.2 L166.5,285.7 L168.0,285.0 L169.4,284.3 L170.8,283.6 L172.2,282.8 L173.6,282.0 L174.9,281.1 L176.2,280.2 L177.5,279.2 L178.8,278.3 L180.0,277.3 L181.3,276.2 L182.5,275.2 L183.8,274.1 L185.0,273.0 L186.2,271.8 L187.4,270.6" stroke="#201000" stroke-opacity="0.75" stroke-width="0.8" stroke-dasharray="4,5" stroke-dashoffset="12"/>
<path d="M92.5,285.6 L94.2,285.8 L95.9,285.9 L97.6,286.1 L99.3,286.3 L101.0,286.4 L102.8,286.6 L104.5,286.8 L106.2,286.9 L107.9,287.1 L109.6,287.2 L111.3,287.4 L113.0,287.5 L114.7,287.6 L116.4,287.8 L118.2,287.9 L119.9,288.0 L121.6,288.1 L123.3,288.1 L125.0,288.2 L126.7,288.3 L128.5,288.4 L130.2,288.4 L131.9,288.5 L133.6,288.5 L135.3,288.6 L137.1,288.6 L138.8,288.6 L140.5,288.7 L142.2,288.7 L143.9,288.7 L145.7,288.7 L147.4,288.8 L149.1,288.8 L150.8,288.8 L152.5,288.8 L154.3,288.7 L156.0,288.7 L157.7,288.6 L159.4,288.6 L161.1,288.4 L162.8,288.2 L164.5,287.8 L166.1,287.4 L167.6,286.9 L169.1,286.3 L170.5,285.7 L172.0,285.1 L173.4,284.4 L174.9,283.6 L176.3,282.8 L177.6,282.0 L179.0,281.1 L180.3,280.2 L181.6,279.3 L183.0,278.4 L184.3,277.4 L185.6,276.3 L186.8,275.2 L188.0,274.0" stroke="#201000" stroke-opacity="0.75" stroke-width="0.8" stroke-dasharray="5,7" stroke-dashoffset="15"/>
<path d="M92.5,267.6 L94.6,268.2 L96.6,268.7 L98.7,269.3 L100.7,269.8 L102.8,270.4 L104.9,270.9 L107.0,271.4 L109.0,272.0 L111.1,272.6 L113.1,273.2 L115.2,273.7 L117.3,274.0 L119.4,274.3 L121.5,274.5 L123.7,274.7 L125.8,274.8 L127.9,274.8 L130.1,274.9 L132.2,274.9 L134.3,274.9 L136.5,274.9 L138.6,274.9 L140.7,274.9 L142.9,274.9 L145.0,274.9 L147.1,274.9 L149.3,274.9 L151.4,275.1 L153.5,275.3 L155.6,275.0 L157.7,274.6 L159.8,274.0 L161.8,273.2 L163.5,272.0 L165.0,270.4 L166.2,268.7 L167.3,266.9 L168.3,265.0 L169.3,263.1 L170.1,261.1 L170.8,259.1 L171.4,257.0 L172.1,255.0 L172.9,253.1 L173.9,251.1 L174.8,249.2 L175.9,247.4 L177.1,245.6 L178.4,243.9 L179.8,242.3 L181.6,241.1 L183.6,240.4 L185.7,240.1 L187.8,239.9 L190.0,239.8 L192.1,239.8 L194.2,239.8 L196.4,239.7 L198.5,239.7" stroke="#00fffb" stroke-width="1.0" />
<path d="M92.5,268.7 L94.6,269.2 L96.6,269.7 L98.7,270.2 L100.8,270.7 L102.8,271.2 L104.9,271.7 L107.0,272.2 L109.0,272.8 L111.1,273.3 L113.2,273.8 L115.2,274.3 L117.3,274.6 L119.5,274.9 L121.6,275.2 L123.7,275.3 L125.8,275.4 L128.0,275.5 L130.1,275.5 L132.2,275.6 L134.4,275.6 L136.5,275.6 L138.6,275.6 L140.8,275.6 L142.9,275.6 L145.0,275.6 L147.1,275.6 L149.3,275.7 L151.4,275.8 L153.5,275.9 L155.6,275.7 L157.7,275.4 L159.8,275.0 L161.8,274.3 L163.7,273.3 L165.3,272.0 L166.7,270.5 L167.9,268.8 L169.0,266.9 L170.0,265.1 L170.9,263.1 L171.6,261.2 L172.4,259.2 L173.1,257.2 L174.0,255.2 L174.9,253.3 L175.8,251.4 L176.8,249.5 L177.9,247.7 L179.1,245.9 L180.5,244.3 L182.2,243.1 L184.2,242.3 L186.2,241.8 L188.3,241.5 L190.4,241.2 L192.5,241.0 L194.6,240.7 L196.7,240.5 L198.8,240.3" stroke="#00ffef" stroke-width="1.0" />
<path d="M92.5,269.7 L94.6,270.2 L96.6,270.7 L98.7,271.2 L100.8,271.7 L102.9,272.1 L104.9,272.6 L107.0,273.1 L109.1,273.6 L111.1,274.1 L113.2,274.5 L115.3,274.9 L117.4,275.3 L119.5,275.5 L121.6,275.8 L123.7,275.9 L125.9,276.0 L128.0,276.1 L130.1,276.2 L132.3,276.2 L134.4,276.3 L136.5,276.3 L138.6,276.3 L140.8,276.3 L142.9,276.3 L145.0,276.3 L147.1,276.3 L149.3,276.4 L151.4,276.5 L153.5,276.6 L155.6,276.5 L157.7,276.2 L159.8,275.9 L161.9,275.5 L163.8,274.7 L165.6,273.6 L167.1,272.2 L168.5,270.7 L169.6,268.9 L170.6,267.0 L171.6,265.2 L172.5,263.2 L173.3,261.3 L174.2,259.3 L175.0,257.4 L175.9,255.5 L176.8,253.5 L177.8,251.6 L178.8,249.8 L179.8,247.9 L181.1,246.3 L182.8,245.0 L184.8,244.2 L186.8,243.6 L188.8,243.0 L190.8,242.6 L192.9,242.1 L194.9,241.7 L197.0,241.3 L199.0,240.8" stroke="#00ffe2" stroke-width="1.0" />
<path d="M92.5,270.8 L94.6,271.2 L96.6,271.7 L98.7,272.1 L100.8,272.6 L102.9,273.0 L104.9,273.5 L107.0,273.9 L109.1,274.3 L111.2,274.8 L113.3,275.2 L115.4,275.5 L117.5,275.9 L119.6,276.1 L121.7,276.4 L123.8,276.5 L125.9,276.7 L128.0,276.8 L130.2,276.8 L132.3,276.9 L134.4,276.9 L136.5,277.0 L138.6,277.0 L140.8,277.0 L142.9,277.0 L145.0,277.0 L147.1,277.1 L149.3,277.1 L151.4,277.2 L153.5,277.2 L155.6,277.2 L157.7,277.1 L159.8,276.9 L161.9,276.6 L163.9,276.1 L165.8,275.2 L167.5,274.0 L169.0,272.6 L170.3,270.8 L171.3,269.0 L172.4,267.2 L173.4,265.3 L174.3,263.4 L175.2,261.5 L176.1,259.6 L177.0,257.6 L177.8,255.7 L178.7,253.7 L179.6,251.8 L180.4,249.9 L181.7,248.2 L183.4,247.0 L185.3,246.1 L187.3,245.3 L189.3,244.6 L191.3,243.9 L193.3,243.3 L195.3,242.7 L197.3,242.1 L199.2,241.4" stroke="#00ffd5" stroke-width="1.0" />
<path d="M92.5,271.8 L94.6,272.2 L96.7,272.6 L98.7,273.1 L100.8,273.5 L102.9,273.9 L105.0,274.3 L107.1,274.7 L109.1,275.1 L111.2,275.5 L113.3,275.9 L115.4,276.2 L117.5,276.5 L119.6,276.7 L121.7,277.0 L123.8,277.1 L125.9,277.3 L128.1,277.4 L130.2,277.5 L132.3,277.6 L134.4,277.6 L136.5,277.7 L138.7,277.7 L140.8,277.7 L142.9,277.7 L145.0,277.8 L147.1,277.8 L149.3,277.8 L151.4,277.9 L153.5,277.9 L155.6,277.9 L157.7,277.9 L159.9,277.9 L162.0,277.7 L164.1,277.4 L166.1,276.8 L168.0,275.8 L169.6,274.5 L170.9,272.8 L172.0,271.0 L173.1,269.2 L174.2,267.4 L175.3,265.5 L176.2,263.6 L177.2,261.7 L178.0,259.8 L178.8,257.8 L179.6,255.9 L180.4,253.9 L181.1,251.9 L182.3,250.2 L184.0,249.0 L185.9,248.0 L187.8,247.0 L189.7,246.2 L191.7,245.3 L193.6,244.5 L195.6,243.7 L197.6,242.8 L199.5,242.0" stroke="#00ffc8" stroke-width="1.0" />
<path d="M92.5,292.6 L95.0,292.7 L97.6,292.8 L100.1,293.0 L102.6,293.1 L105.1,293.2 L107.7,293.3 L110.2,293.5 L112.7,293.6 L115.3,293.7 L117.8,293.8 L120.3,293.9 L122.8,294.0 L125.4,294.1 L127.9,294.2 L130.4,294.3 L133.0,294.4 L135.5,294.5 L138.0,294.6 L140.6,294.7 L143.1,294.8 L145.6,294.8 L148.2,294.8 L150.7,294.8 L153.2,294.7 L155.7,294.7 L158.3,294.6 L160.8,294.4 L163.3,294.2 L165.8,294.0 L168.4,293.7 L170.9,293.3 L173.3,292.8 L175.8,292.1 L178.2,291.4 L180.6,290.6 L183.0,289.8 L185.3,288.8 L187.6,287.6 L189.6,286.1 L191.8,284.8 L193.9,283.5 L196.1,282.1 L198.2,280.7 L200.3,279.3 L202.3,277.8 L204.4,276.3 L206.4,274.8 L208.4,273.2 L210.4,271.7 L212.4,270.2 L214.5,268.7 L216.5,267.1 L218.5,265.6 L220.5,264.1 L222.5,262.6 L224.6,261.1 L226.7,259.7 L228.8,258.3 L231.0,257.0" stroke="#00ff68" stroke-width="1.2" />
<path d="M92.5,295.4 L95.1,295.5 L97.6,295.6 L100.2,295.7 L102.8,295.8 L105.3,295.9 L107.9,296.1 L110.5,296.2 L113.0,296.3 L115.6,296.4 L118.2,296.5 L120.7,296.6 L123.3,296.7 L125.9,296.7 L128.4,296.8 L131.0,296.9 L133.6,297.0 L136.1,297.1 L138.7,297.2 L141.3,297.2 L143.9,297.3 L146.4,297.3 L149.0,297.3 L151.6,297.2 L154.1,297.2 L156.7,297.1 L159.3,297.0 L161.8,296.8 L164.4,296.6 L167.0,296.4 L169.5,296.0 L172.0,295.6 L174.5,295.1 L177.0,294.4 L179.5,293.7 L181.9,292.9 L184.3,291.9 L186.7,290.9 L188.9,289.7 L191.1,288.2 L193.2,286.9 L195.4,285.5 L197.6,284.1 L199.7,282.7 L201.8,281.2 L203.9,279.7 L205.9,278.1 L208.0,276.6 L210.0,275.0 L212.0,273.4 L214.0,271.8 L216.0,270.2 L218.0,268.5 L220.0,266.9 L221.9,265.3 L223.9,263.6 L225.8,262.0 L227.7,260.3 L229.5,258.5 L231.3,256.8" stroke="#11ff00" stroke-width="1.2" />
<path d="M92.5,297.6 L95.1,297.7 L97.7,297.8 L100.3,297.9 L102.9,298.0 L105.5,298.1 L108.1,298.2 L110.7,298.3 L113.3,298.4 L115.9,298.5 L118.5,298.6 L121.1,298.7 L123.7,298.8 L126.3,298.8 L128.9,298.9 L131.5,299.0 L134.1,299.1 L136.7,299.1 L139.3,299.2 L141.9,299.2 L144.5,299.3 L147.1,299.3 L149.7,299.2 L152.3,299.2 L154.9,299.1 L157.5,299.0 L160.1,298.9 L162.7,298.8 L165.2,298.6 L167.8,298.3 L170.4,297.9 L173.0,297.5 L175.5,296.9 L178.0,296.3 L180.5,295.5 L183.0,294.7 L185.4,293.7 L187.7,292.6 L190.0,291.3 L192.2,289.9 L194.4,288.5 L196.6,287.1 L198.7,285.7 L200.9,284.2 L203.0,282.7 L205.1,281.2 L207.2,279.6 L209.2,278.0 L211.3,276.4 L213.3,274.7 L215.2,273.1 L217.2,271.4 L219.2,269.6 L221.1,267.9 L223.1,266.2 L225.0,264.5 L226.8,262.7 L228.5,260.7 L230.0,258.7 L231.5,256.6" stroke="#22ff00" stroke-width="1.2" />
<path d="M92.5,299.5 L95.1,299.6 L97.7,299.7 L100.4,299.8 L103.0,299.9 L105.6,300.0 L108.2,300.1 L110.9,300.2 L113.5,300.3 L116.1,300.4 L118.7,300.5 L121.4,300.5 L124.0,300.6 L126.6,300.7 L129.3,300.8 L131.9,300.8 L134.5,300.9 L137.1,300.9 L139.8,301.0 L142.4,301.0 L145.0,301.0 L147.6,301.0 L150.3,301.0 L152.9,300.9 L155.5,300.8 L158.1,300.8 L160.8,300.6 L163.4,300.5 L166.0,300.2 L168.6,299.9 L171.2,299.6 L173.8,299.1 L176.4,298.5 L178.9,297.9 L181.4,297.1 L183.9,296.2 L186.3,295.2 L188.7,294.1 L191.0,292.8 L193.2,291.4 L195.4,290.0 L197.6,288.5 L199.8,287.1 L201.9,285.6 L204.1,284.1 L206.2,282.5 L208.3,280.9 L210.4,279.3 L212.4,277.6 L214.4,275.9 L216.3,274.2 L218.3,272.4 L220.2,270.6 L222.2,268.9 L224.1,267.1 L225.9,265.2 L227.7,263.3 L229.2,261.1 L230.5,258.8 L231.7,256.5" stroke="#31ff00" stroke-width="1.2" />
<path d="M184.8,249.0 Q194.6,247.6 200.6,242.8" stroke="#00ffdd" stroke-width="1.3"/>
<path d="M185.3,252.1 Q196.3,250.5 203.1,244.3" stroke="#00ffd7" stroke-width="1.3"/>
<path d="M185.8,255.2 Q198.0,253.4 205.5,245.8" stroke="#00ffcd" stroke-width="1.3"/>
<path d="M186.3,258.3 Q199.8,256.3 208.0,247.3" stroke="#00ffc2" stroke-width="1.3"/>
<path d="M186.8,261.4 Q201.5,259.1 210.5,248.8" stroke="#00ffb6" stroke-width="1.3"/>
<path d="M187.3,264.5 Q203.2,262.0 213.0,250.3" stroke="#00ffa9" stroke-width="1.3"/>
<path d="M187.8,267.5 Q204.9,264.9 215.4,251.7" stroke="#00ff93" stroke-width="1.3"/>
<path d="M188.3,270.6 Q206.7,267.8 217.9,253.2" stroke="#00ff7c" stroke-width="1.3"/>
<path d="M188.8,273.7 Q208.4,270.6 220.4,254.7" stroke="#00ff62" stroke-width="1.3"/>
<path d="M189.3,276.8 Q210.1,273.5 222.9,256.2" stroke="#00ff3d" stroke-width="1.3"/>
<path d="M189.8,279.9 Q211.8,276.4 225.3,257.7" stroke="#00ff16" stroke-width="1.3"/>
<path d="M190.3,283.0 Q213.6,279.3 227.8,259.2" stroke="#0eff00" stroke-width="1.3"/>
<path d="M184.8,248.2 L190.5,283.6" stroke="#000" stroke-width="3.6"/>
<path d="M183.2,249 L186.3,268" stroke="#f8f0c0" stroke-width="0.9"/>
<path d="M199.6,240.8 L228.2,257.7" stroke="#000" stroke-width="3.4"/>
<path d="M198.9,239.3 L206,243.4" stroke="#30e8ff" stroke-width="1.1"/>
<path d="M206,243.4 L223.5,251.3 L224.8,250.5 L228.4,252.2 Q232.6,255.2 231.6,258.2 L229.4,259.9" stroke="#20f820" stroke-width="1.1"/>
<path d="M200.4,242.4 L226.9,258.6" stroke="#f4ecec" stroke-opacity="0.85" stroke-width="0.9"/>
<path d="M220.8,252.6 L228.9,256.4" stroke="#1020ff" stroke-width="1.7"/>
</g>
<g id="pd" fill="none" stroke-linecap="butt" stroke-linejoin="round">
<path d="M275.2,276.6 L276.1,276.6 L276.9,276.7 L277.8,276.7 L278.7,276.7 L279.5,276.8 L280.4,276.8 L281.2,276.8 L282.1,276.8 L283.0,276.9 L283.8,276.9 L284.7,276.9 L285.6,277.0 L286.4,277.0 L286.8,277.7 L287.1,278.5 L287.5,279.3 L287.8,280.1 L288.1,280.9 L288.5,281.7 L289.3,281.8 L290.1,281.8 L291.0,281.8 L291.9,281.8 L292.7,281.8 L293.6,281.8 L294.5,281.8 L295.3,281.8 L296.2,281.8 L297.1,281.8 L297.9,281.8 L298.8,281.8 L299.7,281.8 L300.5,281.8 L301.4,281.8 L302.3,281.8 L303.1,281.8 L304.0,281.8 L304.8,281.8 L305.7,281.8 L306.6,281.8 L307.4,281.8 L308.3,281.8 L309.2,281.8 L310.0,281.8 L310.9,281.8 L311.8,281.8 L312.6,281.8 L313.5,281.8 L314.4,281.8 L315.2,281.8 L316.1,281.8 L316.9,281.8 L317.8,281.8 L318.7,281.8 L319.5,281.8 L320.4,281.8 L321.3,281.8 L322.1,281.8 L323.0,281.8" stroke="#ffd100" stroke-width="1.3"/>
<path d="M275.2,277.2 L276.1,277.3 L276.9,277.3 L277.8,277.3 L278.7,277.3 L279.5,277.4 L280.4,277.4 L281.2,277.4 L282.1,277.5 L283.0,277.5 L283.8,277.5 L284.7,277.5 L285.6,277.6 L286.4,277.6 L286.8,278.3 L287.2,279.1 L287.5,279.8 L287.9,280.6 L288.2,281.4 L288.6,282.1 L289.4,282.2 L290.2,282.2 L291.1,282.2 L292.0,282.2 L292.8,282.2 L293.7,282.2 L294.5,282.1 L295.4,282.1 L296.3,282.1 L297.1,282.1 L298.0,282.1 L298.9,282.1 L299.7,282.1 L300.6,282.1 L301.4,282.1 L302.3,282.0 L303.2,282.0 L304.0,282.0 L304.9,282.0 L305.7,282.0 L306.6,282.0 L307.5,282.0 L308.3,281.9 L309.2,281.9 L310.0,281.9 L310.9,281.9 L311.8,281.9 L312.6,281.9 L313.5,281.9 L314.4,281.9 L315.2,281.8 L316.1,281.8 L316.9,281.8 L317.8,281.8 L318.7,281.8 L319.5,281.8 L320.4,281.8 L321.3,281.8 L322.1,281.8 L323.0,281.8" stroke="#ffcd00" stroke-width="1.3"/>
<path d="M275.2,277.9 L276.1,277.9 L276.9,277.9 L277.8,277.9 L278.7,278.0 L279.5,278.0 L280.4,278.0 L281.2,278.1 L282.1,278.1 L283.0,278.1 L283.8,278.1 L284.7,278.2 L285.6,278.2 L286.4,278.2 L286.8,278.9 L287.2,279.6 L287.6,280.4 L287.9,281.1 L288.3,281.8 L288.7,282.6 L289.5,282.6 L290.3,282.6 L291.2,282.6 L292.1,282.6 L292.9,282.5 L293.8,282.5 L294.6,282.5 L295.5,282.5 L296.3,282.5 L297.2,282.4 L298.1,282.4 L298.9,282.4 L299.8,282.4 L300.6,282.3 L301.5,282.3 L302.3,282.3 L303.2,282.2 L304.1,282.2 L304.9,282.2 L305.8,282.2 L306.6,282.1 L307.5,282.1 L308.3,282.1 L309.2,282.1 L310.1,282.0 L310.9,282.0 L311.8,282.0 L312.6,282.0 L313.5,281.9 L314.3,281.9 L315.2,281.9 L316.1,281.9 L316.9,281.9 L317.8,281.8 L318.7,281.8 L319.5,281.8 L320.4,281.8 L321.2,281.8 L322.1,281.8 L323.0,281.8" stroke="#ffc700" stroke-width="1.3"/>
<path d="M275.2,278.5 L276.1,278.5 L276.9,278.5 L277.8,278.6 L278.6,278.6 L279.5,278.6 L280.4,278.6 L281.2,278.7 L282.1,278.7 L283.0,278.7 L283.8,278.7 L284.7,278.8 L285.5,278.8 L286.4,278.8 L286.8,279.5 L287.2,280.2 L287.6,280.9 L288.0,281.6 L288.4,282.3 L288.7,283.0 L289.6,283.0 L290.4,283.0 L291.3,283.0 L292.1,282.9 L293.0,282.9 L293.9,282.9 L294.7,282.8 L295.6,282.8 L296.4,282.8 L297.3,282.7 L298.1,282.7 L299.0,282.7 L299.8,282.6 L300.7,282.6 L301.5,282.6 L302.4,282.5 L303.2,282.5 L304.1,282.4 L305.0,282.4 L305.8,282.3 L306.7,282.3 L307.5,282.3 L308.4,282.2 L309.2,282.2 L310.1,282.1 L310.9,282.1 L311.8,282.1 L312.6,282.0 L313.5,282.0 L314.3,282.0 L315.2,281.9 L316.1,281.9 L316.9,281.9 L317.8,281.9 L318.6,281.9 L319.5,281.8 L320.4,281.8 L321.2,281.8 L322.1,281.8 L322.9,281.8" stroke="#ffc000" stroke-width="1.3"/>
<path d="M275.2,279.1 L276.1,279.1 L276.9,279.2 L277.8,279.2 L278.6,279.2 L279.5,279.2 L280.4,279.3 L281.2,279.3 L282.1,279.3 L283.0,279.3 L283.8,279.4 L284.7,279.4 L285.5,279.4 L286.4,279.4 L286.8,280.0 L287.2,280.7 L287.6,281.4 L288.0,282.1 L288.4,282.7 L288.8,283.4 L289.7,283.4 L290.5,283.4 L291.4,283.4 L292.2,283.3 L293.1,283.3 L293.9,283.2 L294.8,283.2 L295.6,283.2 L296.5,283.1 L297.3,283.1 L298.2,283.0 L299.0,283.0 L299.9,282.9 L300.7,282.9 L301.6,282.8 L302.4,282.7 L303.3,282.7 L304.1,282.6 L305.0,282.6 L305.8,282.5 L306.7,282.5 L307.5,282.4 L308.4,282.4 L309.2,282.3 L310.1,282.3 L310.9,282.2 L311.8,282.2 L312.6,282.1 L313.5,282.1 L314.3,282.0 L315.2,282.0 L316.0,281.9 L316.9,281.9 L317.8,281.9 L318.6,281.9 L319.5,281.9 L320.3,281.8 L321.2,281.8 L322.1,281.8 L322.9,281.8" stroke="#ffb900" stroke-width="1.3"/>
<path d="M275.2,279.8 L276.1,279.8 L276.9,279.8 L277.8,279.8 L278.6,279.8 L279.5,279.9 L280.4,279.9 L281.2,279.9 L282.1,279.9 L282.9,280.0 L283.8,280.0 L284.7,280.0 L285.5,280.0 L286.4,280.0 L286.8,280.6 L287.3,281.3 L287.7,281.9 L288.1,282.5 L288.5,283.2 L288.9,283.8 L289.7,283.8 L290.6,283.8 L291.5,283.7 L292.3,283.7 L293.2,283.6 L294.0,283.6 L294.9,283.5 L295.7,283.5 L296.6,283.4 L297.4,283.4 L298.3,283.3 L299.1,283.2 L300.0,283.2 L300.8,283.1 L301.6,283.1 L302.5,283.0 L303.3,282.9 L304.2,282.8 L305.0,282.8 L305.9,282.7 L306.7,282.6 L307.6,282.6 L308.4,282.5 L309.2,282.4 L310.1,282.4 L310.9,282.3 L311.8,282.3 L312.6,282.2 L313.5,282.1 L314.3,282.1 L315.2,282.0 L316.0,282.0 L316.9,281.9 L317.8,281.9 L318.6,281.9 L319.5,281.9 L320.3,281.9 L321.2,281.8 L322.1,281.8 L322.9,281.8" stroke="#ffb500" stroke-width="1.3"/>
<path d="M275.2,280.4 L276.1,280.4 L276.9,280.4 L277.8,280.4 L278.6,280.5 L279.5,280.5 L280.4,280.5 L281.2,280.5 L282.1,280.6 L282.9,280.6 L283.8,280.6 L284.7,280.6 L285.5,280.6 L286.4,280.6 L286.8,281.2 L287.3,281.8 L287.7,282.4 L288.2,283.0 L288.6,283.6 L289.0,284.2 L289.8,284.2 L290.7,284.2 L291.5,284.1 L292.4,284.1 L293.2,284.0 L294.1,284.0 L294.9,283.9 L295.8,283.8 L296.6,283.8 L297.5,283.7 L298.3,283.6 L299.2,283.5 L300.0,283.5 L300.9,283.4 L301.7,283.3 L302.5,283.2 L303.4,283.1 L304.2,283.1 L305.1,283.0 L305.9,282.9 L306.7,282.8 L307.6,282.7 L308.4,282.7 L309.3,282.6 L310.1,282.5 L310.9,282.4 L311.8,282.3 L312.6,282.3 L313.5,282.2 L314.3,282.1 L315.2,282.1 L316.0,282.0 L316.9,282.0 L317.7,281.9 L318.6,281.9 L319.5,281.9 L320.3,281.9 L321.2,281.9 L322.0,281.8 L322.9,281.8" stroke="#ffb101" stroke-width="1.3"/>
<path d="M275.2,281.0 L276.1,281.0 L276.9,281.1 L277.8,281.1 L278.6,281.1 L279.5,281.1 L280.4,281.1 L281.2,281.2 L282.1,281.2 L282.9,281.2 L283.8,281.2 L284.7,281.2 L285.5,281.2 L286.4,281.2 L286.9,281.8 L287.3,282.4 L287.8,282.9 L288.2,283.5 L288.7,284.1 L289.1,284.6 L289.9,284.6 L290.8,284.6 L291.6,284.5 L292.5,284.5 L293.3,284.4 L294.2,284.3 L295.0,284.2 L295.9,284.2 L296.7,284.1 L297.6,284.0 L298.4,283.9 L299.2,283.8 L300.1,283.7 L300.9,283.6 L301.8,283.6 L302.6,283.5 L303.4,283.4 L304.3,283.3 L305.1,283.2 L305.9,283.1 L306.8,283.0 L307.6,282.9 L308.4,282.8 L309.3,282.7 L310.1,282.6 L311.0,282.5 L311.8,282.4 L312.6,282.4 L313.5,282.3 L314.3,282.2 L315.2,282.1 L316.0,282.1 L316.9,282.0 L317.7,282.0 L318.6,281.9 L319.4,281.9 L320.3,281.9 L321.2,281.9 L322.0,281.8 L322.9,281.8" stroke="#ffae04" stroke-width="1.3"/>
<path d="M275.2,281.6 L276.1,281.7 L276.9,281.7 L277.8,281.7 L278.6,281.7 L279.5,281.7 L280.4,281.8 L281.2,281.8 L282.1,281.8 L282.9,281.8 L283.8,281.8 L284.6,281.8 L285.5,281.8 L286.4,281.8 L286.9,282.4 L287.3,282.9 L287.8,283.5 L288.3,284.0 L288.7,284.5 L289.2,285.1 L290.0,285.0 L290.9,285.0 L291.7,284.9 L292.6,284.8 L293.4,284.8 L294.3,284.7 L295.1,284.6 L295.9,284.5 L296.8,284.4 L297.6,284.3 L298.5,284.2 L299.3,284.1 L300.1,284.0 L301.0,283.9 L301.8,283.8 L302.6,283.7 L303.5,283.6 L304.3,283.5 L305.1,283.4 L306.0,283.3 L306.8,283.1 L307.6,283.0 L308.5,282.9 L309.3,282.8 L310.1,282.7 L311.0,282.6 L311.8,282.5 L312.6,282.4 L313.5,282.3 L314.3,282.2 L315.2,282.2 L316.0,282.1 L316.9,282.0 L317.7,282.0 L318.6,281.9 L319.4,281.9 L320.3,281.9 L321.1,281.9 L322.0,281.9 L322.9,281.8" stroke="#ffaa06" stroke-width="1.3"/>
<path d="M275.2,282.3 L276.1,282.3 L276.9,282.3 L277.8,282.3 L278.6,282.3 L279.5,282.4 L280.3,282.4 L281.2,282.4 L282.1,282.4 L282.9,282.4 L283.8,282.4 L284.6,282.4 L285.5,282.4 L286.4,282.5 L286.9,282.9 L287.4,283.5 L287.8,284.0 L288.3,284.5 L288.8,285.0 L289.3,285.5 L290.1,285.5 L291.0,285.4 L291.8,285.3 L292.7,285.2 L293.5,285.1 L294.3,285.0 L295.2,284.9 L296.0,284.8 L296.9,284.7 L297.7,284.6 L298.5,284.5 L299.4,284.4 L300.2,284.3 L301.0,284.2 L301.9,284.1 L302.7,283.9 L303.5,283.8 L304.3,283.7 L305.2,283.6 L306.0,283.4 L306.8,283.3 L307.6,283.2 L308.5,283.1 L309.3,283.0 L310.1,282.8 L311.0,282.7 L311.8,282.6 L312.6,282.5 L313.5,282.4 L314.3,282.3 L315.2,282.2 L316.0,282.1 L316.9,282.1 L317.7,282.0 L318.6,282.0 L319.4,281.9 L320.3,281.9 L321.1,281.9 L322.0,281.9 L322.8,281.8" stroke="#ffa608" stroke-width="1.3"/>
<path d="M275.2,282.9 L276.1,282.9 L276.9,282.9 L277.8,283.0 L278.6,283.0 L279.5,283.0 L280.3,283.0 L281.2,283.0 L282.1,283.0 L282.9,283.0 L283.8,283.0 L284.6,283.1 L285.5,283.1 L286.3,283.1 L286.9,283.5 L287.4,284.0 L287.9,284.5 L288.4,285.0 L288.9,285.4 L289.4,285.9 L290.2,285.9 L291.1,285.8 L291.9,285.7 L292.7,285.6 L293.6,285.5 L294.4,285.4 L295.3,285.3 L296.1,285.2 L296.9,285.1 L297.8,284.9 L298.6,284.8 L299.4,284.7 L300.3,284.6 L301.1,284.4 L301.9,284.3 L302.7,284.2 L303.6,284.0 L304.4,283.9 L305.2,283.8 L306.0,283.6 L306.8,283.5 L307.7,283.3 L308.5,283.2 L309.3,283.1 L310.2,283.0 L311.0,282.8 L311.8,282.7 L312.6,282.6 L313.5,282.5 L314.3,282.4 L315.2,282.3 L316.0,282.2 L316.8,282.1 L317.7,282.0 L318.5,282.0 L319.4,281.9 L320.3,281.9 L321.1,281.9 L322.0,281.9 L322.8,281.8" stroke="#ffa30a" stroke-width="1.3"/>
<path d="M275.2,283.5 L276.1,283.6 L276.9,283.6 L277.8,283.6 L278.6,283.6 L279.5,283.6 L280.3,283.6 L281.2,283.6 L282.1,283.6 L282.9,283.7 L283.8,283.7 L284.6,283.7 L285.5,283.7 L286.3,283.7 L286.9,284.1 L287.4,284.6 L287.9,285.0 L288.5,285.5 L289.0,285.9 L289.5,286.3 L290.3,286.3 L291.2,286.2 L292.0,286.1 L292.8,286.0 L293.7,285.9 L294.5,285.7 L295.3,285.6 L296.2,285.5 L297.0,285.4 L297.8,285.3 L298.7,285.1 L299.5,285.0 L300.3,284.8 L301.1,284.7 L302.0,284.6 L302.8,284.4 L303.6,284.3 L304.4,284.1 L305.2,284.0 L306.1,283.8 L306.9,283.7 L307.7,283.5 L308.5,283.4 L309.3,283.2 L310.2,283.1 L311.0,282.9 L311.8,282.8 L312.6,282.7 L313.5,282.5 L314.3,282.4 L315.1,282.3 L316.0,282.2 L316.8,282.1 L317.7,282.1 L318.5,282.0 L319.4,282.0 L320.2,281.9 L321.1,281.9 L322.0,281.9 L322.8,281.8" stroke="#ff9f0c" stroke-width="1.3"/>
<path d="M275.2,284.2 L276.1,284.2 L276.9,284.2 L277.8,284.2 L278.6,284.2 L279.5,284.2 L280.3,284.2 L281.2,284.3 L282.0,284.3 L282.9,284.3 L283.8,284.3 L284.6,284.3 L285.5,284.3 L286.3,284.3 L286.9,284.7 L287.4,285.1 L288.0,285.5 L288.5,285.9 L289.1,286.3 L289.6,286.7 L290.4,286.7 L291.2,286.6 L292.1,286.5 L292.9,286.3 L293.8,286.2 L294.6,286.1 L295.4,286.0 L296.3,285.9 L297.1,285.7 L297.9,285.6 L298.7,285.4 L299.5,285.3 L300.4,285.1 L301.2,285.0 L302.0,284.8 L302.8,284.6 L303.6,284.5 L304.5,284.3 L305.3,284.2 L306.1,284.0 L306.9,283.8 L307.7,283.7 L308.5,283.5 L309.4,283.3 L310.2,283.2 L311.0,283.0 L311.8,282.9 L312.6,282.7 L313.5,282.6 L314.3,282.5 L315.1,282.3 L316.0,282.2 L316.8,282.1 L317.7,282.1 L318.5,282.0 L319.4,282.0 L320.2,281.9 L321.1,281.9 L321.9,281.9 L322.8,281.8" stroke="#ff9c0e" stroke-width="1.3"/>
<path d="M275.2,284.8 L276.1,284.8 L276.9,284.8 L277.8,284.8 L278.6,284.8 L279.5,284.9 L280.3,284.9 L281.2,284.9 L282.0,284.9 L282.9,284.9 L283.8,284.9 L284.6,284.9 L285.5,284.9 L286.3,284.9 L286.9,285.3 L287.5,285.7 L288.0,286.0 L288.6,286.4 L289.1,286.8 L289.7,287.1 L290.5,287.1 L291.3,287.0 L292.2,286.8 L293.0,286.7 L293.8,286.6 L294.7,286.5 L295.5,286.3 L296.3,286.2 L297.2,286.0 L298.0,285.9 L298.8,285.7 L299.6,285.6 L300.4,285.4 L301.2,285.2 L302.1,285.1 L302.9,284.9 L303.7,284.7 L304.5,284.5 L305.3,284.3 L306.1,284.2 L306.9,284.0 L307.7,283.8 L308.6,283.6 L309.4,283.5 L310.2,283.3 L311.0,283.1 L311.8,283.0 L312.6,282.8 L313.5,282.7 L314.3,282.5 L315.1,282.4 L316.0,282.3 L316.8,282.2 L317.7,282.1 L318.5,282.0 L319.4,282.0 L320.2,282.0 L321.1,281.9 L321.9,281.9 L322.8,281.8" stroke="#ff9a0f" stroke-width="1.3"/>
<path d="M275.2,285.4 L276.1,285.4 L276.9,285.4 L277.8,285.5 L278.6,285.5 L279.5,285.5 L280.3,285.5 L281.2,285.5 L282.0,285.5 L282.9,285.5 L283.7,285.5 L284.6,285.5 L285.5,285.5 L286.3,285.5 L286.9,285.8 L287.5,286.2 L288.1,286.6 L288.6,286.9 L289.2,287.2 L289.8,287.6 L290.6,287.5 L291.4,287.4 L292.3,287.2 L293.1,287.1 L293.9,287.0 L294.8,286.8 L295.6,286.7 L296.4,286.5 L297.2,286.4 L298.0,286.2 L298.9,286.0 L299.7,285.8 L300.5,285.7 L301.3,285.5 L302.1,285.3 L302.9,285.1 L303.7,284.9 L304.5,284.7 L305.3,284.5 L306.2,284.4 L307.0,284.2 L307.8,284.0 L308.6,283.8 L309.4,283.6 L310.2,283.4 L311.0,283.3 L311.8,283.1 L312.7,282.9 L313.5,282.7 L314.3,282.6 L315.1,282.4 L316.0,282.3 L316.8,282.2 L317.6,282.1 L318.5,282.1 L319.3,282.0 L320.2,282.0 L321.1,281.9 L321.9,281.9 L322.8,281.8" stroke="#ff990f" stroke-width="1.3"/>
<path d="M275.2,286.1 L276.1,286.1 L276.9,286.1 L277.8,286.1 L278.6,286.1 L279.5,286.1 L280.3,286.1 L281.2,286.1 L282.0,286.1 L282.9,286.1 L283.7,286.1 L284.6,286.1 L285.4,286.1 L286.3,286.1 L286.9,286.4 L287.5,286.7 L288.1,287.1 L288.7,287.4 L289.3,287.7 L289.9,288.0 L290.7,287.9 L291.5,287.8 L292.3,287.6 L293.2,287.5 L294.0,287.3 L294.8,287.2 L295.7,287.0 L296.5,286.9 L297.3,286.7 L298.1,286.5 L298.9,286.3 L299.7,286.1 L300.5,285.9 L301.4,285.7 L302.2,285.6 L303.0,285.4 L303.8,285.2 L304.6,284.9 L305.4,284.7 L306.2,284.5 L307.0,284.3 L307.8,284.1 L308.6,283.9 L309.4,283.7 L310.2,283.5 L311.0,283.4 L311.8,283.2 L312.7,283.0 L313.5,282.8 L314.3,282.6 L315.1,282.5 L315.9,282.3 L316.8,282.2 L317.6,282.1 L318.5,282.1 L319.3,282.0 L320.2,282.0 L321.0,281.9 L321.9,281.9 L322.7,281.9" stroke="#ff9710" stroke-width="1.3"/>
<path d="M275.2,286.7 L276.1,286.7 L276.9,286.7 L277.8,286.7 L278.6,286.7 L279.5,286.7 L280.3,286.7 L281.2,286.7 L282.0,286.7 L282.9,286.7 L283.7,286.7 L284.6,286.7 L285.4,286.7 L286.3,286.7 L286.9,287.0 L287.5,287.3 L288.1,287.6 L288.8,287.9 L289.4,288.1 L290.0,288.4 L290.8,288.3 L291.6,288.2 L292.4,288.0 L293.3,287.9 L294.1,287.7 L294.9,287.5 L295.7,287.4 L296.6,287.2 L297.4,287.0 L298.2,286.8 L299.0,286.6 L299.8,286.4 L300.6,286.2 L301.4,286.0 L302.2,285.8 L303.0,285.6 L303.8,285.4 L304.6,285.2 L305.4,284.9 L306.2,284.7 L307.0,284.5 L307.8,284.3 L308.6,284.1 L309.4,283.9 L310.2,283.7 L311.0,283.5 L311.8,283.3 L312.7,283.1 L313.5,282.9 L314.3,282.7 L315.1,282.5 L315.9,282.4 L316.8,282.3 L317.6,282.2 L318.5,282.1 L319.3,282.0 L320.2,282.0 L321.0,281.9 L321.9,281.9 L322.7,281.9" stroke="#ff940f" stroke-width="1.3"/>
<path d="M275.2,287.3 L276.1,287.3 L276.9,287.3 L277.8,287.3 L278.6,287.3 L279.5,287.3 L280.3,287.3 L281.2,287.4 L282.0,287.3 L282.9,287.3 L283.7,287.3 L284.6,287.3 L285.4,287.3 L286.3,287.3 L286.9,287.6 L287.6,287.8 L288.2,288.1 L288.8,288.4 L289.4,288.6 L290.1,288.8 L290.9,288.7 L291.7,288.6 L292.5,288.4 L293.4,288.2 L294.2,288.1 L295.0,287.9 L295.8,287.7 L296.6,287.5 L297.4,287.3 L298.3,287.1 L299.1,286.9 L299.9,286.7 L300.7,286.5 L301.5,286.3 L302.3,286.1 L303.1,285.8 L303.9,285.6 L304.7,285.4 L305.5,285.1 L306.2,284.9 L307.0,284.7 L307.8,284.4 L308.6,284.2 L309.4,284.0 L310.2,283.8 L311.0,283.6 L311.9,283.3 L312.7,283.1 L313.5,282.9 L314.3,282.7 L315.1,282.6 L315.9,282.4 L316.8,282.3 L317.6,282.2 L318.5,282.1 L319.3,282.1 L320.2,282.0 L321.0,282.0 L321.9,281.9 L322.7,281.9" stroke="#ff920e" stroke-width="1.3"/>
<path d="M275.2,288.0 L276.1,288.0 L276.9,288.0 L277.8,288.0 L278.6,288.0 L279.5,288.0 L280.3,288.0 L281.2,288.0 L282.0,288.0 L282.9,288.0 L283.7,288.0 L284.6,287.9 L285.4,287.9 L286.3,287.9 L286.9,288.1 L287.6,288.4 L288.2,288.6 L288.9,288.8 L289.5,289.0 L290.1,289.2 L291.0,289.1 L291.8,289.0 L292.6,288.8 L293.4,288.6 L294.3,288.4 L295.1,288.3 L295.9,288.1 L296.7,287.9 L297.5,287.7 L298.3,287.5 L299.1,287.2 L299.9,287.0 L300.7,286.8 L301.5,286.5 L302.3,286.3 L303.1,286.1 L303.9,285.8 L304.7,285.6 L305.5,285.3 L306.3,285.1 L307.1,284.8 L307.9,284.6 L308.7,284.4 L309.5,284.1 L310.3,283.9 L311.1,283.7 L311.9,283.4 L312.7,283.2 L313.5,283.0 L314.3,282.8 L315.1,282.6 L315.9,282.5 L316.8,282.3 L317.6,282.2 L318.4,282.1 L319.3,282.1 L320.1,282.0 L321.0,282.0 L321.8,281.9 L322.7,281.9" stroke="#ff8f0d" stroke-width="1.3"/>
<path d="M275.2,288.6 L276.1,288.6 L276.9,288.6 L277.8,288.6 L278.6,288.6 L279.5,288.6 L280.3,288.6 L281.2,288.6 L282.0,288.6 L282.9,288.6 L283.7,288.6 L284.6,288.6 L285.4,288.5 L286.3,288.5 L286.9,288.7 L287.6,288.9 L288.3,289.1 L288.9,289.3 L289.6,289.5 L290.2,289.6 L291.1,289.5 L291.9,289.4 L292.7,289.2 L293.5,289.0 L294.3,288.8 L295.2,288.6 L296.0,288.4 L296.8,288.2 L297.6,288.0 L298.4,287.8 L299.2,287.5 L300.0,287.3 L300.8,287.0 L301.6,286.8 L302.4,286.6 L303.2,286.3 L304.0,286.0 L304.7,285.8 L305.5,285.5 L306.3,285.3 L307.1,285.0 L307.9,284.7 L308.7,284.5 L309.5,284.3 L310.3,284.0 L311.1,283.8 L311.9,283.5 L312.7,283.3 L313.5,283.1 L314.3,282.9 L315.1,282.7 L315.9,282.5 L316.7,282.4 L317.6,282.2 L318.4,282.2 L319.3,282.1 L320.1,282.0 L321.0,282.0 L321.8,281.9 L322.7,281.9" stroke="#ff8d0c" stroke-width="1.3"/>
<path d="M275.2,289.2 L276.1,289.2 L276.9,289.2 L277.8,289.2 L278.6,289.2 L279.5,289.2 L280.3,289.2 L281.2,289.2 L282.0,289.2 L282.9,289.2 L283.7,289.2 L284.6,289.2 L285.4,289.1 L286.3,289.1 L286.9,289.3 L287.6,289.5 L288.3,289.7 L289.0,289.8 L289.7,289.9 L290.3,290.1 L291.1,289.9 L292.0,289.8 L292.8,289.6 L293.6,289.4 L294.4,289.2 L295.2,289.0 L296.1,288.8 L296.9,288.6 L297.7,288.3 L298.5,288.1 L299.3,287.8 L300.1,287.6 L300.8,287.3 L301.6,287.1 L302.4,286.8 L303.2,286.5 L304.0,286.3 L304.8,286.0 L305.6,285.7 L306.3,285.4 L307.1,285.2 L307.9,284.9 L308.7,284.6 L309.5,284.4 L310.3,284.1 L311.1,283.9 L311.9,283.6 L312.7,283.4 L313.5,283.1 L314.3,282.9 L315.1,282.7 L315.9,282.5 L316.7,282.4 L317.6,282.3 L318.4,282.2 L319.3,282.1 L320.1,282.0 L321.0,282.0 L321.8,281.9 L322.7,281.9" stroke="#ff8a0b" stroke-width="1.3"/>
<path d="M275.2,289.9 L276.0,289.8 L276.9,289.8 L277.7,289.8 L278.6,289.8 L279.4,289.8 L280.3,289.8 L281.1,289.8 L282.0,289.8 L282.8,289.8 L283.7,289.8 L284.5,289.8 L285.4,289.8 L286.2,289.7 L287.0,289.9 L287.7,290.0 L288.4,290.2 L289.0,290.3 L289.7,290.4 L290.4,290.5 L291.2,290.3 L292.1,290.1 L292.9,290.0 L293.7,289.8 L294.5,289.5 L295.3,289.3 L296.1,289.1 L296.9,288.9 L297.7,288.6 L298.5,288.4 L299.3,288.1 L300.1,287.9 L300.9,287.6 L301.7,287.3 L302.5,287.1 L303.3,286.8 L304.0,286.5 L304.8,286.2 L305.6,285.9 L306.4,285.6 L307.2,285.3 L307.9,285.1 L308.7,284.8 L309.5,284.5 L310.3,284.2 L311.1,284.0 L311.9,283.7 L312.7,283.5 L313.5,283.2 L314.3,283.0 L315.1,282.8 L315.9,282.6 L316.7,282.4 L317.6,282.3 L318.4,282.2 L319.2,282.1 L320.1,282.0 L320.9,282.0 L321.8,281.9 L322.6,281.9" stroke="#ff880a" stroke-width="1.3"/>
<path d="M275.2,290.5 L276.0,290.5 L276.9,290.5 L277.7,290.5 L278.6,290.5 L279.4,290.5 L280.3,290.5 L281.1,290.4 L282.0,290.4 L282.8,290.4 L283.7,290.4 L284.5,290.4 L285.4,290.4 L286.2,290.3 L287.0,290.5 L287.7,290.6 L288.4,290.7 L289.1,290.8 L289.8,290.8 L290.5,290.9 L291.3,290.7 L292.2,290.5 L293.0,290.3 L293.8,290.1 L294.6,289.9 L295.4,289.7 L296.2,289.5 L297.0,289.2 L297.8,289.0 L298.6,288.7 L299.4,288.4 L300.2,288.2 L301.0,287.9 L301.7,287.6 L302.5,287.3 L303.3,287.0 L304.1,286.7 L304.9,286.4 L305.6,286.1 L306.4,285.8 L307.2,285.5 L308.0,285.2 L308.7,284.9 L309.5,284.6 L310.3,284.4 L311.1,284.1 L311.9,283.8 L312.7,283.5 L313.5,283.3 L314.3,283.0 L315.1,282.8 L315.9,282.6 L316.7,282.4 L317.6,282.3 L318.4,282.2 L319.2,282.1 L320.1,282.1 L320.9,282.0 L321.8,281.9 L322.6,281.9" stroke="#ff8509" stroke-width="1.3"/>
<path d="M275.2,291.1 L276.0,291.1 L276.9,291.1 L277.7,291.1 L278.6,291.1 L279.4,291.1 L280.3,291.1 L281.1,291.1 L282.0,291.1 L282.8,291.0 L283.7,291.0 L284.5,291.0 L285.4,291.0 L286.2,290.9 L287.0,291.0 L287.7,291.1 L288.4,291.2 L289.2,291.3 L289.9,291.3 L290.6,291.3 L291.4,291.1 L292.2,290.9 L293.1,290.7 L293.9,290.5 L294.7,290.3 L295.5,290.1 L296.3,289.8 L297.1,289.6 L297.9,289.3 L298.7,289.0 L299.5,288.7 L300.2,288.4 L301.0,288.1 L301.8,287.8 L302.6,287.6 L303.4,287.3 L304.1,286.9 L304.9,286.6 L305.7,286.3 L306.4,286.0 L307.2,285.7 L308.0,285.4 L308.8,285.1 L309.5,284.8 L310.3,284.5 L311.1,284.2 L311.9,283.9 L312.7,283.6 L313.5,283.3 L314.3,283.1 L315.1,282.8 L315.9,282.6 L316.7,282.5 L317.5,282.3 L318.4,282.2 L319.2,282.1 L320.1,282.1 L320.9,282.0 L321.8,281.9 L322.6,281.9" stroke="#ff8309" stroke-width="1.3"/>
<path d="M275.2,291.7 L276.0,291.7 L276.9,291.7 L277.7,291.7 L278.6,291.7 L279.4,291.7 L280.3,291.7 L281.1,291.7 L282.0,291.7 L282.8,291.7 L283.7,291.6 L284.5,291.6 L285.4,291.6 L286.2,291.5 L287.0,291.6 L287.7,291.7 L288.5,291.7 L289.2,291.7 L290.0,291.7 L290.7,291.7 L291.5,291.5 L292.3,291.3 L293.2,291.1 L294.0,290.9 L294.8,290.7 L295.6,290.4 L296.4,290.2 L297.2,289.9 L298.0,289.6 L298.7,289.3 L299.5,289.0 L300.3,288.7 L301.1,288.4 L301.9,288.1 L302.6,287.8 L303.4,287.5 L304.2,287.2 L304.9,286.8 L305.7,286.5 L306.5,286.2 L307.2,285.8 L308.0,285.5 L308.8,285.2 L309.6,284.9 L310.3,284.6 L311.1,284.3 L311.9,284.0 L312.7,283.7 L313.5,283.4 L314.3,283.1 L315.1,282.9 L315.9,282.7 L316.7,282.5 L317.5,282.4 L318.4,282.2 L319.2,282.2 L320.1,282.1 L320.9,282.0 L321.7,282.0 L322.6,281.9" stroke="#ff8008" stroke-width="1.3"/>
<path d="M275.2,292.4 L276.0,292.4 L276.9,292.4 L277.7,292.3 L278.6,292.3 L279.4,292.3 L280.3,292.3 L281.1,292.3 L282.0,292.3 L282.8,292.3 L283.7,292.3 L284.5,292.2 L285.4,292.2 L286.2,292.1 L287.0,292.2 L287.8,292.2 L288.5,292.2 L289.3,292.2 L290.0,292.2 L290.8,292.1 L291.6,292.0 L292.4,291.7 L293.2,291.5 L294.0,291.3 L294.9,291.0 L295.7,290.8 L296.5,290.5 L297.2,290.2 L298.0,290.0 L298.8,289.6 L299.6,289.3 L300.4,289.0 L301.1,288.7 L301.9,288.4 L302.7,288.1 L303.5,287.7 L304.2,287.4 L305.0,287.0 L305.7,286.7 L306.5,286.4 L307.3,286.0 L308.0,285.7 L308.8,285.3 L309.6,285.0 L310.3,284.7 L311.1,284.4 L311.9,284.1 L312.7,283.8 L313.5,283.5 L314.2,283.2 L315.0,282.9 L315.9,282.7 L316.7,282.5 L317.5,282.4 L318.4,282.3 L319.2,282.2 L320.0,282.1 L320.9,282.0 L321.7,282.0 L322.6,281.9" stroke="#ff7d07" stroke-width="1.3"/>
<path d="M275.2,293.0 L276.0,293.0 L276.9,293.0 L277.7,293.0 L278.6,293.0 L279.4,293.0 L280.3,292.9 L281.1,292.9 L282.0,292.9 L282.8,292.9 L283.7,292.9 L284.5,292.8 L285.4,292.8 L286.2,292.8 L287.0,292.8 L287.8,292.8 L288.6,292.7 L289.3,292.7 L290.1,292.6 L290.9,292.5 L291.7,292.4 L292.5,292.1 L293.3,291.9 L294.1,291.6 L294.9,291.4 L295.7,291.1 L296.5,290.9 L297.3,290.6 L298.1,290.3 L298.9,290.0 L299.7,289.6 L300.4,289.3 L301.2,289.0 L302.0,288.6 L302.7,288.3 L303.5,288.0 L304.3,287.6 L305.0,287.3 L305.8,286.9 L306.5,286.5 L307.3,286.2 L308.0,285.8 L308.8,285.5 L309.6,285.2 L310.4,284.8 L311.1,284.5 L311.9,284.2 L312.7,283.8 L313.5,283.5 L314.2,283.2 L315.0,283.0 L315.9,282.7 L316.7,282.6 L317.5,282.4 L318.3,282.3 L319.2,282.2 L320.0,282.1 L320.9,282.0 L321.7,282.0 L322.6,281.9" stroke="#ff7b06" stroke-width="1.3"/>
<path d="M275.2,293.6 L276.0,293.6 L276.9,293.6 L277.7,293.6 L278.6,293.6 L279.4,293.6 L280.3,293.6 L281.1,293.5 L282.0,293.5 L282.8,293.5 L283.7,293.5 L284.5,293.4 L285.3,293.4 L286.2,293.4 L287.0,293.3 L287.8,293.3 L288.6,293.3 L289.4,293.2 L290.2,293.1 L291.0,293.0 L291.8,292.8 L292.6,292.5 L293.4,292.3 L294.2,292.0 L295.0,291.8 L295.8,291.5 L296.6,291.2 L297.4,290.9 L298.2,290.6 L299.0,290.3 L299.7,289.9 L300.5,289.6 L301.3,289.3 L302.0,288.9 L302.8,288.6 L303.6,288.2 L304.3,287.8 L305.1,287.5 L305.8,287.1 L306.6,286.7 L307.3,286.3 L308.1,286.0 L308.8,285.6 L309.6,285.3 L310.4,284.9 L311.1,284.6 L311.9,284.3 L312.7,283.9 L313.5,283.6 L314.2,283.3 L315.0,283.0 L315.8,282.8 L316.7,282.6 L317.5,282.4 L318.3,282.3 L319.2,282.2 L320.0,282.1 L320.8,282.0 L321.7,282.0 L322.5,281.9" stroke="#ff7805" stroke-width="1.3"/>
<path d="M275.2,294.3 L276.0,294.2 L276.9,294.2 L277.7,294.2 L278.6,294.2 L279.4,294.2 L280.3,294.2 L281.1,294.2 L282.0,294.1 L282.8,294.1 L283.6,294.1 L284.5,294.1 L285.3,294.0 L286.2,294.0 L287.0,293.9 L287.8,293.9 L288.6,293.8 L289.5,293.7 L290.3,293.5 L291.1,293.4 L291.9,293.2 L292.7,292.9 L293.5,292.7 L294.3,292.4 L295.1,292.1 L295.9,291.8 L296.7,291.6 L297.5,291.3 L298.3,290.9 L299.0,290.6 L299.8,290.2 L300.6,289.9 L301.3,289.5 L302.1,289.2 L302.8,288.8 L303.6,288.4 L304.4,288.1 L305.1,287.7 L305.8,287.3 L306.6,286.9 L307.3,286.5 L308.1,286.1 L308.9,285.8 L309.6,285.4 L310.4,285.1 L311.1,284.7 L311.9,284.3 L312.7,284.0 L313.5,283.7 L314.2,283.4 L315.0,283.1 L315.8,282.8 L316.7,282.6 L317.5,282.5 L318.3,282.3 L319.2,282.2 L320.0,282.1 L320.8,282.1 L321.7,282.0 L322.5,281.9" stroke="#ff7604" stroke-width="1.3"/>
<path d="M275.2,294.9 L276.0,294.9 L276.9,294.9 L277.7,294.8 L278.6,294.8 L279.4,294.8 L280.3,294.8 L281.1,294.8 L282.0,294.8 L282.8,294.7 L283.6,294.7 L284.5,294.7 L285.3,294.6 L286.2,294.6 L287.0,294.5 L287.9,294.4 L288.7,294.3 L289.5,294.2 L290.4,294.0 L291.2,293.8 L292.0,293.6 L292.8,293.3 L293.6,293.1 L294.4,292.8 L295.2,292.5 L296.0,292.2 L296.8,291.9 L297.6,291.6 L298.3,291.3 L299.1,290.9 L299.9,290.5 L300.6,290.2 L301.4,289.8 L302.1,289.4 L302.9,289.1 L303.6,288.7 L304.4,288.3 L305.1,287.9 L305.9,287.5 L306.6,287.1 L307.4,286.7 L308.1,286.3 L308.9,285.9 L309.6,285.5 L310.4,285.2 L311.2,284.8 L311.9,284.4 L312.7,284.1 L313.5,283.7 L314.2,283.4 L315.0,283.1 L315.8,282.9 L316.6,282.6 L317.5,282.5 L318.3,282.3 L319.1,282.2 L320.0,282.1 L320.8,282.1 L321.7,282.0 L322.5,281.9" stroke="#ff7303" stroke-width="1.3"/>
<path d="M275.2,294.9 L276.5,294.9 L277.8,294.8 L279.0,294.8 L280.3,294.8 L281.6,294.8 L282.9,294.7 L284.1,294.7 L285.4,294.6 L286.7,294.5 L288.0,294.4 L289.2,294.2 L290.5,294.0 L291.7,293.7 L292.9,293.3 L294.1,292.9 L295.4,292.4 L296.5,292.0 L297.7,291.5 L298.9,291.0 L300.1,290.5 L301.2,289.9 L302.3,289.3 L303.5,288.8 L304.6,288.2 L305.8,287.6 L306.9,286.9 L308.0,286.3 L309.1,285.8 L310.3,285.2 L311.4,284.7 L312.6,284.1 L313.8,283.6 L315.0,283.1 L316.2,282.8 L317.4,282.5 L318.7,282.3 L320.0,282.1 L321.2,282.0 L322.5,281.9 L323.5,282.2 L322.4,283.0 L321.4,283.8 L320.3,284.6 L319.2,285.4 L318.1,286.1 L316.9,286.8 L315.8,287.5 L314.7,288.2 L313.5,288.9 L312.3,289.6 L311.2,290.2 L310.0,290.8 L308.8,291.4 L307.6,292.0 L306.4,292.6 L305.2,293.2 L303.9,293.7 L302.7,294.3 L301.5,294.8 L300.3,295.3 L299.0,295.8 L297.8,296.3 L296.5,296.7 L295.2,297.1 L293.9,297.4 L292.6,297.7 L291.3,297.8 L289.9,297.8 L288.6,297.8 L287.2,297.8 L285.9,297.8 L284.6,297.8 L283.2,297.8 L281.9,297.7 L280.6,297.7 L279.2,297.6 L277.9,297.6 L276.5,297.5 L275.2,297.5Z" fill="#ff0800" stroke="#ff0800" stroke-width="0.6"/>
<path d="M275.2,280.6 L276.1,280.6 L276.9,280.7 L277.8,280.7 L278.6,280.7 L279.5,280.7 L280.4,280.7 L281.2,280.8 L282.1,280.8 L282.9,280.8 L283.8,280.8 L284.7,280.8 L285.5,280.9 L286.4,280.9 L286.9,281.4 L287.3,282.0 L287.7,282.6 L288.2,283.2 L288.6,283.8 L289.1,284.4 L289.9,284.4 L290.7,284.3 L291.6,284.3 L292.4,284.2 L293.3,284.2 L294.1,284.1 L295.0,284.0 L295.8,284.0 L296.7,283.9 L297.5,283.8 L298.4,283.7 L299.2,283.6 L300.0,283.6 L300.9,283.5 L301.7,283.4 L302.6,283.3 L303.4,283.2 L304.2,283.1 L305.1,283.1 L305.9,283.0 L306.7,282.9 L307.6,282.8 L308.4,282.7 L309.3,282.6 L310.1,282.5 L311.0,282.5 L311.8,282.4 L312.6,282.3 L313.5,282.2 L314.3,282.2 L315.2,282.1 L316.0,282.0 L316.9,282.0 L317.7,281.9 L318.6,281.9 L319.5,281.9 L320.3,281.9 L321.2,281.9 L322.0,281.8 L322.9,281.8" stroke="#180800" stroke-opacity="0.8" stroke-width="0.8" stroke-dasharray="2,3" stroke-dashoffset="0"/>
<path d="M275.2,283.9 L276.1,283.9 L276.9,283.9 L277.8,284.0 L278.6,284.0 L279.5,284.0 L280.3,284.0 L281.2,284.0 L282.0,284.0 L282.9,284.0 L283.8,284.0 L284.6,284.0 L285.5,284.0 L286.3,284.0 L286.9,284.4 L287.4,284.9 L288.0,285.3 L288.5,285.7 L289.0,286.2 L289.6,286.6 L290.4,286.5 L291.2,286.4 L292.0,286.3 L292.9,286.2 L293.7,286.1 L294.6,286.0 L295.4,285.8 L296.2,285.7 L297.1,285.6 L297.9,285.4 L298.7,285.3 L299.5,285.2 L300.3,285.0 L301.2,284.9 L302.0,284.7 L302.8,284.6 L303.6,284.4 L304.4,284.2 L305.3,284.1 L306.1,283.9 L306.9,283.8 L307.7,283.6 L308.5,283.4 L309.4,283.3 L310.2,283.1 L311.0,283.0 L311.8,282.9 L312.6,282.7 L313.5,282.6 L314.3,282.4 L315.1,282.3 L316.0,282.2 L316.8,282.1 L317.7,282.1 L318.5,282.0 L319.4,282.0 L320.2,281.9 L321.1,281.9 L321.9,281.9 L322.8,281.8" stroke="#180800" stroke-opacity="0.8" stroke-width="0.8" stroke-dasharray="3,4" stroke-dashoffset="2"/>
<path d="M275.2,286.8 L276.1,286.8 L276.9,286.9 L277.8,286.9 L278.6,286.9 L279.5,286.9 L280.3,286.9 L281.2,286.9 L282.0,286.9 L282.9,286.9 L283.7,286.9 L284.6,286.9 L285.4,286.9 L286.3,286.8 L286.9,287.1 L287.5,287.4 L288.2,287.7 L288.8,288.0 L289.4,288.2 L290.0,288.5 L290.8,288.4 L291.6,288.3 L292.5,288.1 L293.3,288.0 L294.1,287.8 L294.9,287.6 L295.8,287.5 L296.6,287.3 L297.4,287.1 L298.2,286.9 L299.0,286.7 L299.8,286.5 L300.6,286.3 L301.4,286.1 L302.2,285.9 L303.0,285.7 L303.8,285.4 L304.6,285.2 L305.4,285.0 L306.2,284.8 L307.0,284.5 L307.8,284.3 L308.6,284.1 L309.4,283.9 L310.2,283.7 L311.0,283.5 L311.8,283.3 L312.7,283.1 L313.5,282.9 L314.3,282.7 L315.1,282.5 L315.9,282.4 L316.8,282.3 L317.6,282.2 L318.5,282.1 L319.3,282.0 L320.2,282.0 L321.0,281.9 L321.9,281.9 L322.7,281.9" stroke="#180800" stroke-opacity="0.8" stroke-width="0.8" stroke-dasharray="4,3" stroke-dashoffset="4"/>
<path d="M275.2,289.8 L276.0,289.8 L276.9,289.8 L277.7,289.8 L278.6,289.8 L279.4,289.8 L280.3,289.8 L281.1,289.8 L282.0,289.7 L282.8,289.7 L283.7,289.7 L284.5,289.7 L285.4,289.7 L286.2,289.7 L287.0,289.8 L287.7,290.0 L288.3,290.1 L289.0,290.2 L289.7,290.3 L290.4,290.4 L291.2,290.3 L292.1,290.1 L292.9,289.9 L293.7,289.7 L294.5,289.5 L295.3,289.3 L296.1,289.1 L296.9,288.8 L297.7,288.6 L298.5,288.4 L299.3,288.1 L300.1,287.8 L300.9,287.6 L301.7,287.3 L302.5,287.0 L303.3,286.8 L304.0,286.5 L304.8,286.2 L305.6,285.9 L306.4,285.6 L307.1,285.3 L307.9,285.0 L308.7,284.8 L309.5,284.5 L310.3,284.2 L311.1,284.0 L311.9,283.7 L312.7,283.4 L313.5,283.2 L314.3,283.0 L315.1,282.7 L315.9,282.6 L316.7,282.4 L317.6,282.3 L318.4,282.2 L319.3,282.1 L320.1,282.0 L320.9,282.0 L321.8,281.9 L322.6,281.9" stroke="#180800" stroke-opacity="0.8" stroke-width="0.8" stroke-dasharray="2,4" stroke-dashoffset="6"/>
<path d="M275.2,292.7 L276.0,292.7 L276.9,292.7 L277.7,292.7 L278.6,292.7 L279.4,292.7 L280.3,292.6 L281.1,292.6 L282.0,292.6 L282.8,292.6 L283.7,292.6 L284.5,292.5 L285.4,292.5 L286.2,292.5 L287.0,292.5 L287.8,292.5 L288.5,292.5 L289.3,292.5 L290.1,292.4 L290.8,292.3 L291.7,292.2 L292.5,291.9 L293.3,291.7 L294.1,291.5 L294.9,291.2 L295.7,291.0 L296.5,290.7 L297.3,290.4 L298.1,290.1 L298.9,289.8 L299.6,289.5 L300.4,289.2 L301.2,288.8 L301.9,288.5 L302.7,288.2 L303.5,287.9 L304.2,287.5 L305.0,287.2 L305.8,286.8 L306.5,286.4 L307.3,286.1 L308.0,285.8 L308.8,285.4 L309.6,285.1 L310.3,284.8 L311.1,284.4 L311.9,284.1 L312.7,283.8 L313.5,283.5 L314.2,283.2 L315.0,283.0 L315.9,282.7 L316.7,282.5 L317.5,282.4 L318.3,282.3 L319.2,282.2 L320.0,282.1 L320.9,282.0 L321.7,282.0 L322.6,281.9" stroke="#180800" stroke-opacity="0.8" stroke-width="0.8" stroke-dasharray="3,3" stroke-dashoffset="8"/>
<clipPath id="clipRd"><path d="M275.2,294.9 L276.5,294.9 L277.8,294.8 L279.0,294.8 L280.3,294.8 L281.6,294.8 L282.9,294.7 L284.1,294.7 L285.4,294.6 L286.7,294.5 L288.0,294.4 L289.2,294.2 L290.5,294.0 L291.7,293.7 L292.9,293.3 L294.1,292.9 L295.4,292.4 L296.5,292.0 L297.7,291.5 L298.9,291.0 L300.1,290.5 L301.2,289.9 L302.3,289.3 L303.5,288.8 L304.6,288.2 L305.8,287.6 L306.9,286.9 L308.0,286.3 L309.1,285.8 L310.3,285.2 L311.4,284.7 L312.6,284.1 L313.8,283.6 L315.0,283.1 L316.2,282.8 L317.4,282.5 L318.7,282.3 L320.0,282.1 L321.2,282.0 L322.5,281.9 L323.5,282.2 L322.4,283.0 L321.4,283.8 L320.3,284.6 L319.2,285.4 L318.1,286.1 L316.9,286.8 L315.8,287.5 L314.7,288.2 L313.5,288.9 L312.3,289.6 L311.2,290.2 L310.0,290.8 L308.8,291.4 L307.6,292.0 L306.4,292.6 L305.2,293.2 L303.9,293.7 L302.7,294.3 L301.5,294.8 L300.3,295.3 L299.0,295.8 L297.8,296.3 L296.5,296.7 L295.2,297.1 L293.9,297.4 L292.6,297.7 L291.3,297.8 L289.9,297.8 L288.6,297.8 L287.2,297.8 L285.9,297.8 L284.6,297.8 L283.2,297.8 L281.9,297.7 L280.6,297.7 L279.2,297.6 L277.9,297.6 L276.5,297.5 L275.2,297.5Z"/></clipPath>
<path d="M282.0,300 L291.0,280 M285.6,300 L294.6,280 M289.2,300 L298.2,280 M292.8,300 L301.8,280 M296.4,300 L305.4,280 M300.0,300 L309.0,280 M303.6,300 L312.6,280 M307.2,300 L316.2,280 M310.8,300 L319.8,280 M314.4,300 L323.4,280 M318.0,300 L327.0,280 M321.6,300 L330.6,280" stroke="#200000" stroke-opacity="0.75" stroke-width="0.8" clip-path="url(#clipRd)"/>
<path d="M275.2,299.1 L276.8,299.1 L278.4,299.2 L280.0,299.2 L281.6,299.2 L283.2,299.3 L284.8,299.3 L286.5,299.3 L288.1,299.3 L289.7,299.3 L291.3,299.3 L292.9,299.3 L294.5,299.0 L296.0,298.7 L297.6,298.2 L299.1,297.6 L300.6,297.1 L302.1,296.5 L303.6,295.9 L305.1,295.2 L306.5,294.6 L308.0,293.9 L309.5,293.3 L310.9,292.6 L312.3,291.8 L313.7,291.1 L315.1,290.3 L316.5,289.4 L317.9,288.6 L319.2,287.7 L320.6,286.8 L321.9,285.9 L323.2,285.0 L324.5,284.0 L325.7,282.9 L326.9,281.9 L328.1,280.8 L329.3,279.8 L330.6,278.8 L331.8,277.8 L333.1,276.7 L334.3,275.7 L335.6,274.7 L336.8,273.7 L338.1,272.7 L339.4,271.7 L340.6,270.7 L341.9,269.7 L343.1,268.7 L344.4,267.7 L345.6,266.7 L346.9,265.7 L348.1,264.7 L349.4,263.7 L350.6,262.6 L351.8,261.6 L353.0,260.6 L354.3,259.6 L355.4,258.6 L356.6,257.5" stroke="#00ff88" stroke-width="2.2"/>
<path d="M275.2,301.6 L276.9,301.6 L278.6,301.6 L280.2,301.6 L281.9,301.6 L283.6,301.6 L285.3,301.6 L286.9,301.6 L288.6,301.5 L290.3,301.5 L291.9,301.4 L293.6,301.2 L295.3,301.0 L296.9,300.6 L298.5,300.1 L300.1,299.6 L301.7,299.0 L303.2,298.5 L304.8,297.9 L306.4,297.3 L307.9,296.7 L309.5,296.0 L311.0,295.4 L312.6,294.8 L314.1,294.1 L315.6,293.4 L317.1,292.7 L318.6,291.9 L320.1,291.1 L321.6,290.4 L323.0,289.6 L324.5,288.7 L325.9,287.8 L327.3,286.9 L328.7,286.0 L330.0,285.0 L331.4,284.0 L332.7,283.0 L334.1,282.0 L335.4,281.1 L336.8,280.1 L338.1,279.1 L339.4,278.0 L340.8,277.0 L342.1,276.0 L343.4,275.0 L344.7,273.9 L346.0,272.9 L347.3,271.8 L348.6,270.7 L349.8,269.6 L351.0,268.4 L352.2,267.2 L353.3,266.0 L354.2,264.7 L355.0,263.3 L355.8,261.9 L356.6,260.6 L357.2,259.2 L357.6,257.8" stroke="#00ff50" stroke-width="1.0"/>
<path d="M275.2,303.8 L276.9,303.8 L278.7,303.8 L280.4,303.8 L282.1,303.8 L283.9,303.8 L285.6,303.8 L287.4,303.7 L289.1,303.6 L290.8,303.5 L292.5,303.3 L294.3,303.1 L296.0,302.7 L297.7,302.3 L299.3,301.9 L301.0,301.4 L302.6,300.8 L304.3,300.3 L305.9,299.7 L307.6,299.1 L309.2,298.5 L310.8,298.0 L312.5,297.4 L314.1,296.8 L315.7,296.2 L317.3,295.5 L319.0,294.9 L320.6,294.2 L322.1,293.5 L323.7,292.8 L325.3,292.1 L326.9,291.3 L328.4,290.5 L329.9,289.7 L331.4,288.8 L332.9,287.9 L334.4,287.0 L335.8,286.0 L337.3,285.1 L338.7,284.1 L340.2,283.1 L341.6,282.1 L343.0,281.1 L344.4,280.1 L345.8,279.0 L347.1,278.0 L348.5,276.9 L349.8,275.8 L351.2,274.6 L352.4,273.5 L353.7,272.2 L354.8,271.0 L355.9,269.6 L356.8,268.1 L357.5,266.5 L358.0,264.9 L358.4,263.2 L358.7,261.5 L358.7,259.7 L358.5,258.0" stroke="#43ff00" stroke-width="1.2"/>
<path d="M322.6,277.8 L330.3,276.7 L336.8,273.5 L346.7,266.4 L352,261 L348.5,267.5 L342.3,273.2 L334.7,279.8 L325.9,283.2 L321.6,282.5 Z" fill="#00f8b0"/>
<path d="M320.6,286.4 L321.8,286.6 L323.0,286.7 L324.2,286.7 L325.4,286.5 L326.7,286.2 L327.9,285.8 L329.0,285.4 L330.2,285.0 L331.4,284.5 L332.5,284.0 L333.7,283.5 L334.8,282.9 L335.8,282.2 L336.9,281.5 L337.9,280.8 L338.9,280.0 L339.8,279.2 L340.8,278.4 L341.8,277.6 L342.7,276.8 L343.7,276.0 L344.6,275.2 L345.6,274.3 L346.5,273.5 L347.4,272.6 L348.2,271.7 L349.1,270.7 L349.9,269.8 L350.7,268.8 L351.4,267.8 L352.2,266.8 L352.9,265.8 L353.6,264.7 L354.2,263.7 L354.9,262.6 L355.5,261.6 L356.0,260.5 L356.4,259.5 L356.8,258.5" stroke="#00ff50" stroke-width="1.0"/>
<path d="M319.0,290.9 L320.4,290.7 L321.7,290.6 L323.1,290.3 L324.4,290.0 L325.8,289.6 L327.1,289.2 L328.5,288.8 L329.8,288.4 L331.1,287.8 L332.4,287.3 L333.7,286.7 L334.9,286.1 L336.2,285.4 L337.4,284.6 L338.5,283.9 L339.7,283.1 L340.9,282.3 L342.0,281.5 L343.2,280.7 L344.3,279.9 L345.4,279.0 L346.5,278.2 L347.6,277.3 L348.7,276.4 L349.7,275.4 L350.6,274.4 L351.5,273.3 L352.4,272.2 L353.2,271.0 L354.0,269.9 L354.7,268.7 L355.4,267.5 L356.1,266.2 L356.6,264.9 L357.1,263.6 L357.4,262.3 L357.5,261.0 L357.4,259.7 L357.2,258.5" stroke="#1fff00" stroke-width="1.0"/>
<path d="M275.2,276.7 L288,276.9" stroke="#ffe000" stroke-width="1.2"/>
<path d="M288,276.9 L306.5,276.9" stroke="#c8b000" stroke-width="1.1"/>
<path d="M306.5,276.9 L312,277" stroke="#00e8ff" stroke-width="1.2"/>
<path d="M309,277.5 Q314,273 317.5,269 Q321,264.5 323.5,266.5 Q327,270 329.8,274" stroke="#00e8ff" stroke-width="1.2"/>
<path d="M312,278 Q317,273 319.5,270 Q322,267.5 324,270 L329,275.5" stroke="#00e0ff" stroke-width="1.1"/>
<path d="M315,278.5 Q319,275 321,272.5 Q322.5,271.5 324,273.5 L327,277.5" stroke="#00e8f0" stroke-width="1.1"/>
<path d="M287.7,279.6 L323,279.6" stroke="#000" stroke-width="2.8"/>
<path d="M288,281.6 L322.5,281.6" stroke="#f4e0d8" stroke-opacity="0.75" stroke-width="0.8"/>
<path d="M330.2,275.6 L357.2,254.2" stroke="#000" stroke-width="2.8"/>
<path d="M329.5,274.2 L338,267.5" stroke="#f0f8ff" stroke-width="1"/>
<path d="M338,267.5 L345,262" stroke="#20d8ff" stroke-width="1.1"/>
<path d="M345,262 L352.5,256" stroke="#1090ff" stroke-width="1.1"/>
<path d="M352.5,256 L357,252.5" stroke="#1030ff" stroke-width="1.3"/>
<circle cx="360.2" cy="255.2" r="2.7" stroke="#30f020" stroke-width="1.2"/>
</g>
<g id="pe" fill="none" stroke-linecap="butt" stroke-linejoin="round">
<path d="M92.0,454.2 C94.7,454.1 104.1,454.2 108.0,453.6 C111.9,453.0 113.3,452.1 115.2,450.8 C117.1,449.5 118.6,447.8 119.6,445.6 C120.6,443.4 120.9,440.5 121.4,437.7 C121.9,434.9 121.7,431.6 122.6,429.0 C123.5,426.4 124.6,423.8 126.6,422.0 C128.6,420.2 131.4,419.4 134.5,418.5 C137.6,417.6 140.3,416.7 145.0,416.7 C149.7,416.7 154.9,417.5 162.4,418.5 C169.9,419.5 179.9,421.2 190.0,422.6 C200.1,424.0 215.9,425.6 223.0,426.7 C230.1,427.8 230.9,428.9 232.5,429.3" stroke="#00d0e8" stroke-width="1.1"/>
<path d="M92.0,461.1 C95.3,460.8 107.5,460.1 112.0,459.5 C116.5,458.9 116.6,459.1 118.7,457.8 C120.8,456.5 123.4,454.2 124.8,451.7 C126.2,449.2 126.5,446.1 127.1,442.9 C127.7,439.7 127.5,435.4 128.3,432.5 C129.1,429.6 129.9,427.2 131.8,425.5 C133.7,423.8 136.6,422.7 139.7,422.0 C142.8,421.3 145.5,421.0 150.2,421.1 C154.8,421.2 161.0,421.9 167.6,422.8 C174.2,423.7 182.6,425.6 190.0,426.6 C197.4,427.6 204.7,427.9 212.0,429.0 C219.3,430.1 230.3,432.6 234.0,433.3" stroke="#00f0e8" stroke-width="1.1"/>
<path d="M92.0,464.3 C95.0,464.2 105.4,463.9 110.0,463.6 C114.6,463.3 116.9,463.0 119.4,462.5 C121.9,462.0 123.7,461.5 125.0,460.5 C126.3,459.5 127.1,457.2 127.5,456.5" stroke="#00ffa9" stroke-width="1.1"/>
<path d="M92.0,465.9 C95.0,465.8 105.4,465.5 110.0,465.2 C114.6,464.9 116.7,464.7 119.4,464.1 C122.1,463.5 124.6,462.8 126.3,461.8 C128.0,460.8 128.9,458.7 129.4,458.1" stroke="#00ff88" stroke-width="1.1"/>
<path d="M92.0,467.3 C95.0,467.2 105.4,466.9 110.0,466.6 C114.6,466.3 116.5,466.1 119.4,465.5 C122.3,464.9 125.5,463.9 127.4,462.9 C129.3,461.9 130.5,460.1 131.1,459.5" stroke="#00ff68" stroke-width="1.1"/>
<path d="M127.5,457.0 L127.6,455.0 L127.7,453.1 L127.9,451.1 L128.0,449.2 L128.2,447.2 L128.4,445.3 L128.6,443.3 L128.9,441.4 L129.2,439.4 L129.5,437.5 L130.0,435.6 L130.7,433.8 L131.5,432.0 L132.2,430.2 L133.3,428.5 L134.7,427.2 L136.4,426.3 L138.3,425.7 L140.2,425.3 L142.1,425.0 L144.1,424.8 L146.0,424.6 L148.0,424.5 L149.9,424.5 L151.9,424.4 L153.9,424.4 L155.8,424.5 L157.8,424.6 L159.7,424.7 L161.7,424.9 L163.6,425.2 L165.6,425.5 L167.5,425.8 L169.4,426.2 L171.3,426.5 L173.3,426.8 L175.2,427.1 L177.2,427.4 L179.1,427.6 L181.1,427.8 L183.0,428.0 L185.0,428.2 L186.9,428.3 L188.9,428.5 L190.8,428.6 L192.8,428.8 L194.7,429.0 L196.7,429.2 L198.6,429.4 L200.6,429.6 L202.5,429.9 L204.5,430.1 L206.4,430.4 L208.4,430.6 L210.3,430.9 L212.2,431.2 L214.2,431.5 L216.1,431.8 L218.0,432.1 L220.0,432.4 L221.9,432.8 L223.8,433.2 L225.7,433.6 L227.6,434.1 L229.5,434.6 L231.4,435.2 L233.3,435.8 L235.1,436.4 L237.0,437.0" stroke="#00ffc3" stroke-width="1.0"/>
<path d="M128.4,457.6 L128.5,455.7 L128.6,453.7 L128.8,451.7 L128.9,449.8 L129.1,447.8 L129.3,445.8 L129.5,443.9 L129.8,441.9 L130.1,440.0 L130.5,438.0 L131.0,436.1 L131.6,434.3 L132.5,432.5 L133.3,430.7 L134.4,429.1 L135.8,427.8 L137.6,426.9 L139.5,426.3 L141.4,426.0 L143.4,425.7 L145.3,425.5 L147.3,425.4 L149.2,425.3 L151.2,425.3 L153.2,425.3 L155.2,425.3 L157.1,425.4 L159.1,425.5 L161.1,425.7 L163.0,425.9 L165.0,426.2 L166.9,426.5 L168.8,426.8 L170.8,427.2 L172.7,427.6 L174.6,428.0 L176.6,428.3 L178.5,428.7 L180.4,429.0 L182.4,429.2 L184.3,429.5 L186.3,429.8 L188.2,430.0 L190.2,430.2 L192.1,430.5 L194.0,430.7 L196.0,431.0 L197.9,431.2 L199.9,431.5 L201.8,431.8 L203.8,432.1 L205.7,432.4 L207.7,432.7 L209.6,433.0 L211.5,433.3 L213.5,433.7 L215.4,434.0 L217.4,434.3 L219.3,434.6 L221.3,435.0 L223.2,435.3 L225.1,435.7 L227.1,436.1 L229.0,436.6 L230.9,437.0 L232.8,437.6 L234.7,438.1 L236.5,438.7 L238.4,439.2" stroke="#00ffbc" stroke-width="1.0"/>
<path d="M129.2,458.2 L129.4,456.3 L129.5,454.3 L129.7,452.3 L129.9,450.3 L130.0,448.4 L130.2,446.4 L130.5,444.4 L130.7,442.5 L131.1,440.5 L131.4,438.6 L131.9,436.6 L132.6,434.8 L133.4,433.0 L134.4,431.3 L135.5,429.7 L137.0,428.4 L138.8,427.6 L140.7,427.0 L142.6,426.7 L144.6,426.4 L146.6,426.3 L148.5,426.2 L150.5,426.1 L152.5,426.1 L154.5,426.1 L156.5,426.2 L158.4,426.3 L160.4,426.4 L162.4,426.6 L164.3,426.9 L166.3,427.2 L168.3,427.5 L170.2,427.9 L172.1,428.3 L174.1,428.7 L176.0,429.1 L177.9,429.6 L179.8,429.9 L181.8,430.3 L183.7,430.7 L185.6,431.0 L187.6,431.3 L189.5,431.7 L191.4,432.0 L193.4,432.3 L195.3,432.6 L197.3,433.0 L199.2,433.3 L201.1,433.6 L203.1,434.0 L205.0,434.3 L207.0,434.7 L208.9,435.1 L210.8,435.4 L212.8,435.8 L214.7,436.1 L216.7,436.5 L218.6,436.8 L220.6,437.2 L222.5,437.5 L224.5,437.9 L226.4,438.2 L228.4,438.6 L230.3,439.0 L232.2,439.5 L234.1,439.9 L236.1,440.4 L238.0,440.9 L239.9,441.4" stroke="#00ffb4" stroke-width="1.0"/>
<path d="M130.1,458.9 L130.3,456.9 L130.4,454.9 L130.6,452.9 L130.8,450.9 L131.0,449.0 L131.2,447.0 L131.4,445.0 L131.7,443.0 L132.0,441.1 L132.4,439.1 L132.8,437.2 L133.5,435.3 L134.4,433.5 L135.4,431.8 L136.6,430.3 L138.2,429.0 L140.0,428.2 L141.9,427.7 L143.9,427.4 L145.8,427.2 L147.8,427.0 L149.8,426.9 L151.8,426.9 L153.8,426.9 L155.8,427.0 L157.8,427.1 L159.7,427.2 L161.7,427.4 L163.7,427.6 L165.7,427.9 L167.6,428.2 L169.6,428.5 L171.6,428.9 L173.5,429.3 L175.4,429.8 L177.4,430.3 L179.3,430.8 L181.2,431.2 L183.1,431.7 L185.0,432.1 L187.0,432.5 L188.9,432.9 L190.8,433.3 L192.7,433.7 L194.7,434.1 L196.6,434.5 L198.5,435.0 L200.4,435.4 L202.4,435.8 L204.3,436.2 L206.3,436.6 L208.2,437.0 L210.1,437.4 L212.1,437.8 L214.0,438.2 L216.0,438.6 L217.9,438.9 L219.9,439.3 L221.9,439.7 L223.8,440.0 L225.8,440.4 L227.7,440.7 L229.7,441.1 L231.6,441.5 L233.6,441.9 L235.5,442.3 L237.5,442.7 L239.4,443.2 L241.3,443.6" stroke="#00ffac" stroke-width="1.0"/>
<path d="M131.0,459.5 L131.2,457.5 L131.3,455.5 L131.5,453.5 L131.7,451.5 L131.9,449.5 L132.1,447.5 L132.3,445.5 L132.6,443.6 L132.9,441.6 L133.3,439.6 L133.8,437.7 L134.5,435.8 L135.4,434.0 L136.5,432.4 L137.8,430.9 L139.3,429.7 L141.2,428.9 L143.1,428.4 L145.1,428.1 L147.1,427.9 L149.1,427.8 L151.1,427.7 L153.1,427.7 L155.1,427.7 L157.1,427.8 L159.1,427.9 L161.1,428.1 L163.0,428.3 L165.0,428.6 L167.0,428.8 L169.0,429.2 L171.0,429.6 L172.9,430.0 L174.9,430.4 L176.8,430.9 L178.7,431.4 L180.6,432.0 L182.5,432.5 L184.5,433.0 L186.4,433.5 L188.3,434.0 L190.2,434.5 L192.1,435.0 L194.0,435.5 L195.9,436.0 L197.9,436.5 L199.8,436.9 L201.7,437.4 L203.6,437.9 L205.6,438.3 L207.5,438.8 L209.4,439.3 L211.4,439.7 L213.3,440.2 L215.3,440.6 L217.2,441.0 L219.2,441.4 L221.2,441.8 L223.1,442.2 L225.1,442.6 L227.1,442.9 L229.0,443.3 L231.0,443.6 L233.0,443.9 L234.9,444.3 L236.9,444.7 L238.8,445.0 L240.8,445.4 L242.8,445.8" stroke="#00ffa1" stroke-width="1.0"/>
<path d="M131.9,460.1 L132.1,458.1 L132.2,456.1 L132.4,454.1 L132.6,452.1 L132.8,450.1 L133.0,448.1 L133.3,446.1 L133.6,444.1 L133.9,442.1 L134.3,440.1 L134.7,438.2 L135.4,436.3 L136.4,434.6 L137.5,432.9 L138.9,431.4 L140.5,430.3 L142.4,429.5 L144.3,429.1 L146.3,428.8 L148.3,428.6 L150.3,428.5 L152.3,428.5 L154.3,428.5 L156.4,428.6 L158.4,428.7 L160.4,428.8 L162.4,429.0 L164.4,429.2 L166.4,429.5 L168.3,429.8 L170.3,430.2 L172.3,430.6 L174.3,431.0 L176.2,431.5 L178.2,432.0 L180.1,432.6 L182.0,433.2 L183.9,433.8 L185.8,434.4 L187.7,434.9 L189.6,435.5 L191.5,436.1 L193.4,436.7 L195.3,437.2 L197.2,437.8 L199.1,438.4 L201.0,438.9 L203.0,439.5 L204.9,440.0 L206.8,440.5 L208.8,441.0 L210.7,441.5 L212.6,442.0 L214.6,442.5 L216.5,443.0 L218.5,443.5 L220.4,443.9 L222.4,444.3 L224.4,444.7 L226.4,445.1 L228.3,445.5 L230.3,445.8 L232.3,446.1 L234.3,446.4 L236.3,446.7 L238.3,447.0 L240.2,447.3 L242.2,447.7 L244.2,448.0" stroke="#00ff95" stroke-width="1.0"/>
<path d="M132.8,460.8 L133.0,458.7 L133.1,456.7 L133.3,454.7 L133.5,452.7 L133.8,450.7 L134.0,448.7 L134.2,446.7 L134.5,444.7 L134.8,442.7 L135.2,440.7 L135.7,438.7 L136.4,436.8 L137.4,435.1 L138.6,433.5 L140.0,432.0 L141.7,430.9 L143.6,430.2 L145.5,429.8 L147.5,429.5 L149.6,429.3 L151.6,429.3 L153.6,429.2 L155.6,429.3 L157.6,429.4 L159.7,429.5 L161.7,429.7 L163.7,429.9 L165.7,430.2 L167.7,430.5 L169.7,430.8 L171.7,431.2 L173.6,431.6 L175.6,432.0 L177.6,432.5 L179.5,433.1 L181.4,433.7 L183.3,434.4 L185.2,435.1 L187.1,435.7 L189.0,436.4 L190.9,437.0 L192.8,437.7 L194.7,438.3 L196.6,439.0 L198.5,439.6 L200.4,440.3 L202.3,440.9 L204.2,441.5 L206.1,442.1 L208.1,442.7 L210.0,443.3 L211.9,443.8 L213.9,444.4 L215.8,444.9 L217.8,445.4 L219.7,445.9 L221.7,446.4 L223.7,446.9 L225.7,447.3 L227.6,447.6 L229.6,448.0 L231.6,448.3 L233.6,448.6 L235.6,448.9 L237.6,449.1 L239.6,449.4 L241.6,449.7 L243.6,449.9 L245.6,450.2" stroke="#00ff88" stroke-width="1.0"/>
<path d="M133.6,461.4 L133.8,459.4 L134.0,457.3 L134.3,455.3 L134.5,453.3 L134.7,451.3 L134.9,449.2 L135.2,447.2 L135.4,445.2 L135.8,443.2 L136.1,441.2 L136.6,439.2 L137.3,437.3 L138.4,435.6 L139.7,434.0 L141.1,432.6 L142.8,431.5 L144.8,430.9 L146.7,430.5 L148.8,430.2 L150.8,430.1 L152.8,430.0 L154.9,430.0 L156.9,430.1 L158.9,430.2 L160.9,430.4 L163.0,430.6 L165.0,430.8 L167.0,431.1 L169.0,431.4 L171.0,431.8 L173.0,432.2 L175.0,432.6 L177.0,433.1 L178.9,433.6 L180.9,434.2 L182.8,434.9 L184.7,435.6 L186.6,436.4 L188.5,437.1 L190.4,437.8 L192.2,438.5 L194.1,439.3 L196.0,440.0 L197.9,440.7 L199.8,441.5 L201.7,442.2 L203.6,442.9 L205.5,443.6 L207.4,444.2 L209.3,444.9 L211.3,445.5 L213.2,446.1 L215.1,446.7 L217.1,447.3 L219.0,447.8 L221.0,448.4 L223.0,448.9 L224.9,449.4 L226.9,449.8 L228.9,450.2 L230.9,450.5 L232.9,450.8 L235.0,451.1 L237.0,451.3 L239.0,451.5 L241.0,451.8 L243.0,452.0 L245.0,452.2 L247.1,452.4" stroke="#00ff7c" stroke-width="1.0"/>
<path d="M134.5,462.0 L134.7,460.0 L134.9,457.9 L135.2,455.9 L135.4,453.9 L135.6,451.8 L135.9,449.8 L136.1,447.8 L136.4,445.7 L136.7,443.7 L137.1,441.7 L137.6,439.7 L138.3,437.8 L139.4,436.1 L140.7,434.5 L142.2,433.2 L144.0,432.2 L145.9,431.5 L148.0,431.1 L150.0,430.9 L152.0,430.8 L154.1,430.8 L156.1,430.8 L158.2,430.9 L160.2,431.0 L162.2,431.2 L164.3,431.5 L166.3,431.7 L168.3,432.1 L170.3,432.4 L172.3,432.8 L174.3,433.2 L176.3,433.6 L178.3,434.1 L180.3,434.6 L182.2,435.3 L184.2,436.0 L186.0,436.8 L187.9,437.6 L189.8,438.4 L191.7,439.2 L193.6,440.0 L195.4,440.8 L197.3,441.7 L199.2,442.5 L201.1,443.3 L202.9,444.1 L204.8,444.9 L206.7,445.6 L208.6,446.4 L210.6,447.1 L212.5,447.7 L214.4,448.4 L216.4,449.0 L218.3,449.7 L220.3,450.3 L222.2,450.8 L224.2,451.4 L226.2,451.9 L228.2,452.3 L230.2,452.7 L232.2,453.0 L234.2,453.3 L236.3,453.6 L238.3,453.8 L240.3,454.0 L242.4,454.1 L244.4,454.3 L246.5,454.4 L248.5,454.6" stroke="#00ff70" stroke-width="1.0"/>
<path d="M137.7,467.5 L137.8,465.4 L137.9,463.4 L138.1,461.3 L138.2,459.3 L138.3,457.2 L138.4,455.2 L138.5,453.1 L138.7,451.0 L138.8,449.0 L138.9,446.9 L139.0,444.9 L139.6,442.9 L140.5,441.1 L141.7,439.4 L143.1,437.9 L144.8,436.7 L146.6,435.8 L148.6,435.3 L150.7,435.0 L152.7,435.0 L154.8,435.1 L156.9,435.2 L158.9,435.4 L161.0,435.6 L163.0,435.8 L165.1,436.0 L167.1,436.3 L169.2,436.5 L171.2,436.8 L173.2,437.1 L175.3,437.4 L177.3,437.9 L179.3,438.3 L181.3,438.9 L183.2,439.7 L185.1,440.5 L187.0,441.3 L188.9,442.1 L190.8,442.8 L192.7,443.5 L194.7,444.2 L196.6,445.0 L198.5,445.7 L200.5,446.4 L202.4,447.1 L204.4,447.8 L206.3,448.4 L208.3,449.1 L210.2,449.7 L212.2,450.3 L214.2,450.9 L216.1,451.5 L218.1,452.1 L220.1,452.7 L222.1,453.2 L224.1,453.7 L226.1,454.2 L228.1,454.6 L230.1,455.0 L232.2,455.3 L234.2,455.6 L236.2,455.9 L238.3,456.1 L240.3,456.3 L242.4,456.5 L244.4,456.7 L246.5,456.9 L248.5,457.1 L250.6,457.3" stroke="#00ff06" stroke-width="1.3"/>
<path d="M139.6,468.8 L139.7,466.7 L139.8,464.7 L140.0,462.6 L140.1,460.6 L140.2,458.5 L140.3,456.5 L140.4,454.4 L140.5,452.4 L140.6,450.3 L140.6,448.3 L140.6,446.2 L141.0,444.2 L141.5,442.3 L142.4,440.5 L144.0,439.3 L145.8,438.2 L147.6,437.4 L149.6,437.0 L151.7,436.8 L153.7,436.7 L155.8,436.8 L157.8,436.9 L159.9,437.1 L161.9,437.3 L164.0,437.5 L166.0,437.8 L168.0,438.0 L170.1,438.3 L172.1,438.6 L174.1,439.0 L176.1,439.4 L178.1,439.8 L180.1,440.3 L182.1,441.0 L184.0,441.8 L185.8,442.6 L187.7,443.4 L189.6,444.1 L191.6,444.8 L193.5,445.5 L195.4,446.2 L197.3,446.9 L199.3,447.6 L201.2,448.3 L203.1,449.0 L205.1,449.6 L207.0,450.3 L209.0,450.9 L211.0,451.5 L212.9,452.1 L214.9,452.6 L216.9,453.2 L218.9,453.7 L220.8,454.2 L222.8,454.7 L224.8,455.2 L226.8,455.6 L228.9,455.9 L230.9,456.3 L232.9,456.6 L235.0,456.8 L237.0,457.0 L239.0,457.2 L241.1,457.4 L243.1,457.6 L245.2,457.7 L247.2,457.9 L249.3,458.1 L251.3,458.2" stroke="#0eff00" stroke-width="1.4"/>
<path d="M141.4,470.0 L141.6,468.0 L141.7,465.9 L141.9,463.9 L142.0,461.9 L142.1,459.8 L142.3,457.8 L142.3,455.7 L142.3,453.7 L142.3,451.7 L142.3,449.6 L142.3,447.6 L142.3,445.5 L142.5,443.5 L143.1,441.6 L144.9,440.7 L146.7,439.8 L148.6,439.0 L150.7,438.7 L152.7,438.5 L154.7,438.5 L156.8,438.5 L158.8,438.6 L160.8,438.8 L162.9,439.0 L164.9,439.3 L166.9,439.5 L168.9,439.8 L171.0,440.1 L173.0,440.5 L175.0,440.9 L177.0,441.3 L179.0,441.8 L180.9,442.4 L182.8,443.1 L184.7,443.9 L186.6,444.7 L188.5,445.4 L190.4,446.1 L192.3,446.8 L194.2,447.5 L196.2,448.2 L198.1,448.9 L200.0,449.6 L201.9,450.3 L203.9,450.9 L205.8,451.5 L207.8,452.1 L209.7,452.7 L211.7,453.3 L213.7,453.8 L215.6,454.3 L217.6,454.8 L219.6,455.3 L221.6,455.8 L223.6,456.2 L225.6,456.6 L227.6,457.0 L229.6,457.3 L231.6,457.6 L233.7,457.8 L235.7,458.0 L237.7,458.2 L239.8,458.3 L241.8,458.5 L243.8,458.6 L245.9,458.8 L247.9,458.9 L250.0,459.0 L252.0,459.2" stroke="#1fff00" stroke-width="1.2"/>
<path d="M92.0,469.5 Q113.0,467.9 134.0,466.4" stroke="#ffe400" stroke-width="1.1"/>
<path d="M92.0,472.4 Q114.5,470.1 135.8,467.6" stroke="#ffdd00" stroke-width="1.1"/>
<path d="M92.0,475.0 Q116.1,472.1 137.7,468.8" stroke="#ffd900" stroke-width="1.1"/>
<path d="M92.0,477.4 Q117.6,474.1 139.5,470.0" stroke="#ffd500" stroke-width="1.1"/>
<path d="M92.0,479.9 Q119.2,476.1 141.3,471.2" stroke="#ffd100" stroke-width="1.1"/>
<path d="M92.0,482.3 Q120.8,478.2 143.2,472.5" stroke="#ffcd00" stroke-width="1.1"/>
<path d="M92.0,484.8 Q122.5,480.3 145.0,473.7" stroke="#ffc800" stroke-width="1.1"/>
<path d="M92.0,487.2 Q124.2,482.4 146.9,474.9" stroke="#ffc300" stroke-width="1.1"/>
<path d="M92.0,490.1 Q126.1,484.9 148.7,476.1" stroke="#ffb700" stroke-width="1.1"/>
<path d="M92.0,492.7 Q127.9,487.2 150.5,477.3" stroke="#ffad04" stroke-width="1.1"/>
<path d="M92.0,495.4 Q129.9,489.7 152.4,478.5" stroke="#ffa30a" stroke-width="1.1"/>
<path d="M92.0,498.4 Q131.9,492.4 154.2,479.7" stroke="#ff990f" stroke-width="1.1"/>
<path d="M92.0,501.3 Q134.0,495.2 156.1,480.9" stroke="#ff890b" stroke-width="1.1"/>
<path d="M92.0,504.5 Q136.3,498.2 157.9,482.2" stroke="#ff7905" stroke-width="1.1"/>
<path d="M92.0,507.8 Q138.6,501.4 159.7,483.4" stroke="#ff5900" stroke-width="1.1"/>
<path d="M92.0,513.7 Q141.9,507.2 161.6,484.6" stroke="#ff0000" stroke-width="1.1"/>
<path d="M92.0,517.6 Q144.6,511.2 163.4,485.8" stroke="#ff0000" stroke-width="1.1"/>
<path d="M134.7,465.3 L164.2,484.7" stroke="#000" stroke-width="2"/>
<path d="M134,466.4 L163.2,485.7" stroke="#fff4e8" stroke-opacity="0.9" stroke-width="0.9"/>
<path d="M138.6,466.2 L158.8,479.4" stroke="#20ff30" stroke-width="1.1"/>
<path d="M158.8,479.4 L152.5,475 Q148.2,470.5 147.7,462.5 Q148,455.5 153,453.9 L167.8,456.3 L164.6,465.5 L161,473.5" stroke="#ff1010" stroke-width="1.1"/>
<path d="M158,454.7 L163,455.5" stroke="#60e020" stroke-width="1.1"/>
<path d="M161,473.5 L160.8,478.5 L162.6,474.5 L162.8,481 L164.3,476" stroke="#70ff20" stroke-width="1"/>
<path d="M164.4,474.8 L171,482.6 Q171.5,485.5 168.5,486.4 L164,486.2" stroke="#ff1010" stroke-width="1.1"/>
<path d="M232.2,429.2 L253.4,458.2" stroke="#000" stroke-width="3"/>
<path d="M230.8,429.5 L251.9,458.9" stroke="#f0e4e4" stroke-opacity="0.9" stroke-width="0.9"/>
<path d="M232.8,428.3 L243,441.2" stroke="#30e0ff" stroke-width="1"/>
<path d="M243,441.2 L250,449.8" stroke="#30a8ff" stroke-width="1"/>
<path d="M250,449.8 L254.6,455" stroke="#1030ff" stroke-width="1.5"/>
<path d="M253.2,457.2 L258.8,458.2 L255.6,461 Z" fill="#1020ff" stroke="none"/>
</g>
<g id="pf" fill="none" stroke-linecap="butt" stroke-linejoin="round">
<path d="M275.0,491.2 L277.4,491.2 L279.7,491.3 L282.1,491.3 L284.5,491.3 L286.8,491.4 L289.2,491.4 L291.5,491.4 L293.9,491.5 L296.3,491.5 L298.6,491.5 L301.0,491.5 L303.4,491.5 L305.7,491.5 L308.1,491.5 L310.5,491.4 L312.8,491.1 L315.1,490.8 L317.5,490.3 L319.8,489.8 L322.1,489.3 L324.4,488.7 L326.7,488.2 L329.0,487.6 L331.2,487.0 L333.5,486.3 L335.8,485.5 L338.0,484.7 L340.2,484.0 L342.5,483.3 L344.8,482.8 L347.1,482.4 L349.5,482.2 L351.8,482.0 L354.2,481.7 L356.5,481.4 L358.9,481.1 L361.2,480.8 L363.6,480.5 L365.9,480.2 L368.2,479.8 L370.6,479.3 L372.9,478.8 L375.1,478.2 L377.4,477.6 L379.7,476.9 L382.0,476.2 L384.2,475.5 L386.5,474.8 L388.7,474.0 L390.9,473.1 L393.1,472.2 L395.2,471.3 L397.4,470.3 L399.5,469.2 L401.6,468.2 L403.7,467.1 L405.9,466.1 L407.9,465.0 L410.0,463.8" stroke="#00ffce" stroke-width="1.9"/>
<path d="M275.0,492.3 L277.4,492.3 L279.7,492.4 L282.1,492.4 L284.5,492.5 L286.9,492.5 L289.2,492.5 L291.6,492.6 L294.0,492.6 L296.4,492.6 L298.7,492.7 L301.1,492.7 L303.5,492.7 L305.8,492.7 L308.2,492.7 L310.6,492.6 L312.9,492.3 L315.3,491.9 L317.6,491.4 L319.9,490.9 L322.2,490.4 L324.5,489.8 L326.8,489.2 L329.1,488.6 L331.4,488.0 L333.7,487.3 L336.0,486.6 L338.2,485.8 L340.5,485.1 L342.7,484.4 L345.1,483.9 L347.4,483.5 L349.7,483.2 L352.1,483.0 L354.4,482.7 L356.8,482.3 L359.1,481.9 L361.5,481.6 L363.8,481.2 L366.1,480.8 L368.5,480.3 L370.8,479.8 L373.1,479.3 L375.4,478.6 L377.6,478.0 L379.9,477.3 L382.2,476.6 L384.4,475.8 L386.7,475.1 L388.9,474.2 L391.1,473.4 L393.3,472.5 L395.5,471.5 L397.6,470.5 L399.7,469.4 L401.8,468.3 L403.9,467.2 L406.0,466.1 L408.1,465.0 L410.1,463.8" stroke="#00ffc7" stroke-width="1.9"/>
<path d="M275.0,493.3 L277.4,493.4 L279.8,493.5 L282.1,493.5 L284.5,493.6 L286.9,493.6 L289.3,493.7 L291.7,493.7 L294.1,493.8 L296.4,493.8 L298.8,493.8 L301.2,493.8 L303.6,493.9 L306.0,493.9 L308.3,493.9 L310.7,493.7 L313.1,493.5 L315.4,493.1 L317.8,492.6 L320.1,492.0 L322.4,491.4 L324.7,490.8 L327.0,490.2 L329.3,489.6 L331.6,489.0 L333.9,488.3 L336.1,487.6 L338.4,486.9 L340.7,486.2 L343.0,485.6 L345.3,485.0 L347.7,484.6 L350.0,484.3 L352.4,484.0 L354.7,483.6 L357.1,483.2 L359.4,482.8 L361.7,482.3 L364.0,481.9 L366.4,481.4 L368.7,480.9 L371.0,480.4 L373.3,479.7 L375.6,479.1 L377.9,478.4 L380.1,477.7 L382.4,476.9 L384.6,476.2 L386.9,475.3 L389.1,474.5 L391.3,473.6 L393.5,472.7 L395.7,471.7 L397.8,470.6 L399.9,469.6 L402.0,468.5 L404.1,467.3 L406.2,466.2 L408.3,465.0 L410.2,463.7" stroke="#00ffbf" stroke-width="1.9"/>
<path d="M275.0,494.4 L277.4,494.5 L279.8,494.6 L282.2,494.6 L284.6,494.7 L287.0,494.7 L289.3,494.8 L291.7,494.9 L294.1,494.9 L296.5,495.0 L298.9,495.0 L301.3,495.0 L303.7,495.1 L306.1,495.1 L308.5,495.1 L310.9,494.9 L313.2,494.6 L315.6,494.2 L317.9,493.7 L320.2,493.1 L322.5,492.5 L324.9,491.9 L327.2,491.3 L329.5,490.6 L331.8,490.0 L334.1,489.3 L336.3,488.6 L338.6,487.9 L340.9,487.3 L343.2,486.7 L345.6,486.2 L347.9,485.8 L350.3,485.4 L352.6,485.0 L355.0,484.6 L357.3,484.1 L359.6,483.6 L362.0,483.1 L364.3,482.6 L366.6,482.1 L368.9,481.5 L371.2,480.9 L373.5,480.2 L375.8,479.5 L378.1,478.8 L380.3,478.1 L382.6,477.3 L384.8,476.5 L387.1,475.6 L389.3,474.8 L391.5,473.8 L393.7,472.9 L395.9,471.9 L398.0,470.8 L400.1,469.7 L402.2,468.6 L404.3,467.4 L406.4,466.3 L408.4,465.0 L410.4,463.6" stroke="#00ffb8" stroke-width="1.9"/>
<path d="M275.0,495.5 L277.4,495.6 L279.8,495.6 L282.2,495.7 L284.6,495.8 L287.0,495.9 L289.4,495.9 L291.8,496.0 L294.2,496.1 L296.6,496.1 L299.0,496.1 L301.4,496.2 L303.8,496.2 L306.2,496.3 L308.6,496.3 L311.0,496.1 L313.4,495.8 L315.7,495.3 L318.1,494.8 L320.4,494.2 L322.7,493.6 L325.0,492.9 L327.3,492.3 L329.6,491.6 L331.9,491.0 L334.2,490.3 L336.5,489.6 L338.8,489.0 L341.2,488.4 L343.5,487.8 L345.8,487.3 L348.2,486.9 L350.6,486.5 L352.9,486.0 L355.2,485.5 L357.6,485.0 L359.9,484.4 L362.2,483.9 L364.5,483.3 L366.8,482.7 L369.1,482.1 L371.4,481.4 L373.7,480.7 L376.0,480.0 L378.3,479.2 L380.6,478.4 L382.8,477.6 L385.1,476.8 L387.3,475.9 L389.5,475.0 L391.7,474.1 L393.9,473.1 L396.1,472.1 L398.2,471.0 L400.3,469.9 L402.5,468.7 L404.5,467.5 L406.6,466.3 L408.6,465.0 L410.5,463.6" stroke="#00ffb1" stroke-width="1.9"/>
<path d="M275.0,496.6 L277.4,496.7 L279.8,496.7 L282.2,496.8 L284.6,496.9 L287.0,497.0 L289.4,497.1 L291.9,497.1 L294.3,497.2 L296.7,497.3 L299.1,497.3 L301.5,497.3 L303.9,497.4 L306.3,497.5 L308.7,497.5 L311.1,497.3 L313.5,497.0 L315.9,496.5 L318.2,495.9 L320.5,495.3 L322.9,494.7 L325.2,494.0 L327.5,493.3 L329.8,492.6 L332.1,492.0 L334.4,491.3 L336.7,490.7 L339.1,490.0 L341.4,489.5 L343.7,488.9 L346.1,488.4 L348.5,488.0 L350.8,487.5 L353.2,487.0 L355.5,486.5 L357.8,485.9 L360.1,485.3 L362.5,484.6 L364.8,484.0 L367.1,483.3 L369.4,482.6 L371.7,481.9 L373.9,481.2 L376.2,480.4 L378.5,479.6 L380.8,478.8 L383.0,478.0 L385.3,477.1 L387.5,476.2 L389.7,475.3 L391.9,474.3 L394.1,473.3 L396.3,472.2 L398.4,471.2 L400.6,470.0 L402.7,468.9 L404.7,467.7 L406.8,466.4 L408.8,465.1 L410.6,463.6" stroke="#00ffaa" stroke-width="1.9"/>
<path d="M275.0,497.7 L277.4,497.7 L279.8,497.8 L282.3,497.9 L284.7,498.0 L287.1,498.1 L289.5,498.2 L291.9,498.3 L294.3,498.3 L296.8,498.4 L299.2,498.5 L301.6,498.5 L304.0,498.6 L306.4,498.7 L308.8,498.7 L311.2,498.5 L313.6,498.1 L316.0,497.6 L318.4,497.0 L320.7,496.4 L323.0,495.7 L325.3,495.0 L327.6,494.3 L330.0,493.6 L332.3,493.0 L334.6,492.3 L336.9,491.7 L339.3,491.1 L341.6,490.6 L344.0,490.0 L346.4,489.6 L348.7,489.1 L351.1,488.6 L353.4,488.0 L355.8,487.4 L358.1,486.8 L360.4,486.1 L362.7,485.4 L365.0,484.7 L367.3,483.9 L369.6,483.2 L371.9,482.4 L374.2,481.7 L376.4,480.9 L378.7,480.0 L381.0,479.2 L383.2,478.3 L385.5,477.4 L387.7,476.5 L389.9,475.5 L392.1,474.5 L394.3,473.5 L396.5,472.4 L398.6,471.3 L400.8,470.2 L402.9,469.0 L404.9,467.8 L407.0,466.4 L409.0,465.1 L410.8,463.5" stroke="#00ff9f" stroke-width="1.9"/>
<path d="M275.0,498.7 L277.4,498.8 L279.9,498.9 L282.3,499.0 L284.7,499.1 L287.1,499.2 L289.6,499.3 L292.0,499.4 L294.4,499.5 L296.8,499.6 L299.3,499.6 L301.7,499.7 L304.1,499.8 L306.5,499.9 L309.0,499.9 L311.4,499.7 L313.8,499.3 L316.2,498.8 L318.5,498.2 L320.8,497.5 L323.2,496.8 L325.5,496.1 L327.8,495.4 L330.1,494.7 L332.4,494.0 L334.8,493.3 L337.1,492.7 L339.5,492.2 L341.9,491.7 L344.2,491.2 L346.6,490.7 L349.0,490.2 L351.4,489.7 L353.7,489.0 L356.0,488.4 L358.4,487.7 L360.7,486.9 L363.0,486.2 L365.2,485.4 L367.5,484.6 L369.8,483.8 L372.1,483.0 L374.4,482.1 L376.7,481.3 L378.9,480.4 L381.2,479.6 L383.4,478.7 L385.7,477.7 L387.9,476.8 L390.1,475.8 L392.3,474.8 L394.5,473.7 L396.7,472.6 L398.8,471.5 L401.0,470.4 L403.1,469.1 L405.1,467.9 L407.2,466.5 L409.1,465.1 L410.9,463.4" stroke="#00ff94" stroke-width="1.9"/>
<path d="M275.0,499.8 L277.4,499.9 L279.9,500.0 L282.3,500.1 L284.7,500.2 L287.2,500.3 L289.6,500.4 L292.0,500.5 L294.5,500.6 L296.9,500.7 L299.3,500.8 L301.8,500.9 L304.2,501.0 L306.7,501.1 L309.1,501.1 L311.5,500.8 L313.9,500.5 L316.3,499.9 L318.6,499.3 L321.0,498.6 L323.3,497.9 L325.6,497.1 L328.0,496.4 L330.3,495.7 L332.6,495.0 L335.0,494.3 L337.3,493.7 L339.7,493.2 L342.1,492.8 L344.5,492.3 L346.9,491.8 L349.3,491.3 L351.6,490.7 L354.0,490.1 L356.3,489.3 L358.6,488.6 L360.9,487.8 L363.2,486.9 L365.5,486.1 L367.8,485.2 L370.0,484.3 L372.3,483.5 L374.6,482.6 L376.9,481.7 L379.1,480.8 L381.4,479.9 L383.7,479.0 L385.9,478.1 L388.1,477.1 L390.3,476.1 L392.5,475.0 L394.7,473.9 L396.9,472.8 L399.1,471.7 L401.2,470.5 L403.3,469.3 L405.3,468.0 L407.3,466.6 L409.3,465.1 L411.0,463.4" stroke="#05ff00" stroke-width="1.9"/>
<path d="M275.0,471.1 L276.5,471.1 L278.0,471.1 L279.4,471.1 L280.9,471.1 L282.4,471.1 L283.9,471.1 L285.4,471.1 L286.8,471.1 L288.3,471.1 L289.8,471.0 L291.3,471.0 L292.8,470.9 L294.2,470.8 L295.7,470.7 L297.2,470.4 L298.6,470.2 L300.1,469.9 L301.5,469.5 L302.9,469.0 L304.3,468.4 L305.6,467.7 L306.9,467.0 L308.2,466.3 L309.5,465.5 L310.7,464.7 L311.9,463.9 L313.1,463.0 L314.3,462.1 L315.4,461.2 L316.6,460.3 L317.8,459.3 L318.9,458.4 L320.1,457.5 L321.2,456.6 L322.4,455.7 L323.6,454.8 L324.8,453.9 L326.0,453.0 L327.2,452.1 L328.4,451.3 L329.6,450.5 L331.0,449.9 L332.4,449.7 L333.7,450.4 L335.0,450.9 L336.5,451.0 L338.0,451.0 L339.5,451.0 L341.0,451.0 L342.4,450.9 L343.9,450.8 L345.4,450.8 L346.9,450.7 L348.4,450.6 L349.8,450.6 L351.3,450.5 L352.8,450.4 L354.3,450.3 L355.7,450.2 L357.2,450.1 L358.7,449.9 L360.2,449.8 L361.7,449.7 L363.1,449.6 L364.6,449.4 L366.1,449.3 L367.6,449.2 L369.0,449.0 L370.5,448.9" stroke="#ffeb00" stroke-width="1.3"/>
<path d="M275.0,472.1 L276.5,472.1 L278.0,472.1 L279.5,472.1 L280.9,472.1 L282.4,472.1 L283.9,472.1 L285.4,472.1 L286.9,472.1 L288.4,472.1 L289.9,472.1 L291.3,472.0 L292.8,471.9 L294.3,471.8 L295.8,471.7 L297.2,471.5 L298.7,471.2 L300.2,470.9 L301.6,470.6 L303.0,470.1 L304.4,469.5 L305.7,468.9 L307.0,468.3 L308.3,467.6 L309.6,466.8 L310.9,466.1 L312.1,465.2 L313.3,464.4 L314.5,463.5 L315.7,462.6 L316.9,461.8 L318.1,460.9 L319.2,460.0 L320.4,459.1 L321.6,458.2 L322.8,457.3 L324.0,456.5 L325.2,455.6 L326.4,454.7 L327.6,453.9 L328.8,453.0 L330.1,452.2 L331.4,451.6 L332.9,451.4 L334.1,452.0 L335.5,452.5 L337.0,452.5 L338.4,452.5 L339.9,452.4 L341.4,452.3 L342.8,452.2 L344.3,452.0 L345.7,451.9 L347.2,451.8 L348.7,451.6 L350.1,451.5 L351.6,451.4 L353.0,451.2 L354.4,451.0 L355.9,450.8 L357.3,450.7 L358.8,450.5 L360.2,450.3 L361.7,450.1 L363.1,449.9 L364.5,449.7 L366.0,449.5 L367.4,449.3 L368.8,449.1 L370.3,448.9" stroke="#ffe500" stroke-width="1.2"/>
<path d="M275.0,473.1 L276.5,473.1 L278.0,473.1 L279.5,473.1 L281.0,473.1 L282.4,473.1 L283.9,473.1 L285.4,473.1 L286.9,473.1 L288.4,473.1 L289.9,473.1 L291.4,473.0 L292.9,473.0 L294.4,472.9 L295.8,472.7 L297.3,472.5 L298.8,472.3 L300.2,472.0 L301.7,471.7 L303.1,471.2 L304.5,470.7 L305.8,470.1 L307.2,469.5 L308.5,468.8 L309.8,468.1 L311.1,467.4 L312.3,466.6 L313.5,465.8 L314.8,465.0 L316.0,464.1 L317.2,463.2 L318.4,462.4 L319.5,461.5 L320.7,460.6 L322.0,459.8 L323.2,458.9 L324.4,458.1 L325.6,457.3 L326.8,456.4 L328.0,455.6 L329.3,454.7 L330.6,454.0 L331.9,453.3 L333.3,453.0 L334.6,453.6 L336.0,454.0 L337.4,454.0 L338.9,453.9 L340.3,453.7 L341.8,453.6 L343.2,453.4 L344.7,453.2 L346.1,453.0 L347.5,452.9 L348.9,452.7 L350.4,452.5 L351.8,452.2 L353.2,452.0 L354.6,451.8 L356.0,451.5 L357.4,451.3 L358.9,451.0 L360.3,450.8 L361.7,450.5 L363.1,450.2 L364.4,450.0 L365.8,449.7 L367.2,449.4 L368.6,449.1 L370.0,448.9" stroke="#ffe000" stroke-width="1.2"/>
<path d="M275.0,474.1 L276.5,474.1 L278.0,474.1 L279.5,474.1 L281.0,474.1 L282.5,474.1 L284.0,474.1 L285.5,474.1 L286.9,474.1 L288.4,474.1 L289.9,474.1 L291.4,474.0 L292.9,474.0 L294.4,473.9 L295.9,473.8 L297.4,473.6 L298.9,473.4 L300.3,473.1 L301.8,472.8 L303.2,472.3 L304.6,471.9 L306.0,471.3 L307.3,470.7 L308.6,470.1 L310.0,469.4 L311.2,468.7 L312.5,468.0 L313.8,467.2 L315.0,466.4 L316.2,465.6 L317.4,464.7 L318.7,463.9 L319.9,463.1 L321.1,462.2 L322.3,461.4 L323.5,460.6 L324.8,459.8 L326.0,458.9 L327.2,458.1 L328.5,457.3 L329.7,456.5 L331.0,455.7 L332.3,455.0 L333.8,454.7 L335.0,455.2 L336.4,455.5 L337.9,455.4 L339.3,455.3 L340.7,455.1 L342.2,454.9 L343.6,454.7 L345.0,454.4 L346.4,454.2 L347.8,453.9 L349.2,453.7 L350.6,453.4 L352.0,453.1 L353.4,452.8 L354.8,452.5 L356.2,452.2 L357.6,451.9 L358.9,451.6 L360.3,451.3 L361.7,450.9 L363.0,450.6 L364.4,450.2 L365.7,449.9 L367.1,449.5 L368.4,449.2 L369.8,448.8" stroke="#ffdb00" stroke-width="1.2"/>
<path d="M275.0,475.1 L276.5,475.1 L278.0,475.1 L279.5,475.1 L281.0,475.1 L282.5,475.1 L284.0,475.1 L285.5,475.1 L287.0,475.1 L288.5,475.1 L290.0,475.1 L291.5,475.1 L293.0,475.0 L294.5,474.9 L296.0,474.8 L297.4,474.6 L298.9,474.4 L300.4,474.2 L301.8,473.9 L303.3,473.5 L304.7,473.0 L306.1,472.5 L307.4,472.0 L308.8,471.4 L310.1,470.7 L311.4,470.1 L312.7,469.3 L314.0,468.6 L315.2,467.8 L316.5,467.0 L317.7,466.2 L319.0,465.4 L320.2,464.6 L321.4,463.8 L322.7,463.0 L323.9,462.2 L325.2,461.4 L326.4,460.6 L327.7,459.8 L328.9,459.0 L330.2,458.2 L331.5,457.4 L332.8,456.8 L334.2,456.4 L335.5,456.8 L336.9,457.0 L338.3,456.9 L339.7,456.7 L341.2,456.5 L342.6,456.2 L344.0,455.9 L345.4,455.6 L346.8,455.3 L348.2,455.0 L349.5,454.7 L350.9,454.3 L352.3,454.0 L353.6,453.6 L355.0,453.3 L356.3,452.9 L357.7,452.5 L359.0,452.1 L360.3,451.7 L361.7,451.3 L363.0,450.9 L364.3,450.5 L365.6,450.1 L366.9,449.7 L368.2,449.2 L369.5,448.8" stroke="#ffd800" stroke-width="1.2"/>
<path d="M275.0,476.1 L276.5,476.1 L278.0,476.1 L279.5,476.1 L281.0,476.1 L282.5,476.1 L284.0,476.1 L285.5,476.1 L287.0,476.1 L288.5,476.1 L290.0,476.1 L291.5,476.1 L293.0,476.0 L294.5,475.9 L296.0,475.8 L297.5,475.7 L299.0,475.5 L300.5,475.2 L301.9,475.0 L303.4,474.6 L304.8,474.2 L306.2,473.7 L307.6,473.2 L308.9,472.6 L310.3,472.0 L311.6,471.4 L312.9,470.7 L314.2,470.0 L315.5,469.2 L316.7,468.5 L318.0,467.7 L319.2,467.0 L320.5,466.2 L321.8,465.4 L323.0,464.6 L324.3,463.8 L325.6,463.1 L326.8,462.3 L328.1,461.5 L329.4,460.7 L330.6,459.9 L331.9,459.1 L333.3,458.5 L334.7,458.1 L336.0,458.4 L337.3,458.6 L338.8,458.4 L340.2,458.1 L341.6,457.8 L343.0,457.5 L344.4,457.2 L345.8,456.8 L347.1,456.5 L348.5,456.1 L349.8,455.7 L351.2,455.3 L352.5,454.9 L353.8,454.5 L355.2,454.0 L356.5,453.6 L357.8,453.1 L359.1,452.7 L360.4,452.2 L361.7,451.7 L362.9,451.2 L364.2,450.8 L365.5,450.3 L366.7,449.8 L368.0,449.3 L369.3,448.8" stroke="#ffd300" stroke-width="1.2"/>
<path d="M275.0,477.1 L276.5,477.1 L278.0,477.1 L279.5,477.1 L281.0,477.1 L282.5,477.1 L284.0,477.1 L285.5,477.1 L287.1,477.1 L288.6,477.1 L290.1,477.1 L291.6,477.1 L293.1,477.0 L294.6,477.0 L296.1,476.9 L297.6,476.7 L299.1,476.5 L300.5,476.3 L302.0,476.1 L303.5,475.7 L304.9,475.4 L306.3,474.9 L307.7,474.4 L309.1,473.9 L310.4,473.3 L311.8,472.7 L313.1,472.1 L314.4,471.4 L315.7,470.7 L317.0,470.0 L318.3,469.2 L319.5,468.5 L320.8,467.7 L322.1,467.0 L323.4,466.2 L324.7,465.5 L326.0,464.7 L327.2,464.0 L328.5,463.2 L329.8,462.4 L331.1,461.6 L332.4,460.9 L333.7,460.2 L335.1,459.8 L336.4,460.0 L337.8,460.1 L339.2,459.9 L340.6,459.5 L342.0,459.2 L343.4,458.8 L344.8,458.4 L346.1,458.0 L347.5,457.6 L348.8,457.1 L350.1,456.7 L351.4,456.2 L352.8,455.8 L354.0,455.3 L355.3,454.8 L356.6,454.3 L357.9,453.7 L359.2,453.2 L360.4,452.7 L361.7,452.1 L362.9,451.6 L364.1,451.0 L365.4,450.5 L366.6,449.9 L367.8,449.3 L369.0,448.8" stroke="#ffc800" stroke-width="1.2"/>
<path d="M275.0,478.1 L276.5,478.1 L278.0,478.1 L279.5,478.1 L281.0,478.1 L282.6,478.1 L284.1,478.1 L285.6,478.2 L287.1,478.1 L288.6,478.1 L290.1,478.1 L291.6,478.1 L293.1,478.0 L294.6,478.0 L296.1,477.9 L297.6,477.8 L299.1,477.6 L300.6,477.4 L302.1,477.2 L303.6,476.9 L305.0,476.5 L306.4,476.1 L307.8,475.7 L309.2,475.2 L310.6,474.6 L312.0,474.1 L313.3,473.4 L314.6,472.8 L315.9,472.1 L317.3,471.4 L318.6,470.7 L319.8,470.0 L321.1,469.3 L322.4,468.6 L323.7,467.8 L325.0,467.1 L326.3,466.4 L327.6,465.6 L328.9,464.9 L330.2,464.1 L331.5,463.3 L332.8,462.6 L334.2,461.9 L335.6,461.5 L336.9,461.6 L338.2,461.6 L339.6,461.3 L341.0,461.0 L342.4,460.6 L343.8,460.1 L345.1,459.7 L346.5,459.2 L347.8,458.7 L349.1,458.2 L350.4,457.7 L351.7,457.2 L353.0,456.6 L354.3,456.1 L355.5,455.5 L356.8,454.9 L358.0,454.4 L359.2,453.8 L360.5,453.2 L361.7,452.5 L362.9,451.9 L364.1,451.3 L365.2,450.7 L366.4,450.0 L367.6,449.4 L368.8,448.7" stroke="#ffb900" stroke-width="1.2"/>
<path d="M275.0,479.1 L276.5,479.1 L278.0,479.1 L279.5,479.1 L281.1,479.1 L282.6,479.1 L284.1,479.2 L285.6,479.2 L287.1,479.2 L288.6,479.1 L290.1,479.1 L291.7,479.1 L293.2,479.1 L294.7,479.0 L296.2,478.9 L297.7,478.8 L299.2,478.7 L300.7,478.5 L302.2,478.3 L303.7,478.0 L305.1,477.7 L306.5,477.3 L308.0,476.9 L309.4,476.4 L310.8,475.9 L312.1,475.4 L313.5,474.8 L314.8,474.2 L316.2,473.5 L317.5,472.9 L318.8,472.2 L320.1,471.5 L321.5,470.8 L322.8,470.1 L324.1,469.4 L325.4,468.7 L326.7,468.0 L328.0,467.3 L329.4,466.6 L330.7,465.8 L332.0,465.1 L333.3,464.3 L334.6,463.7 L336.0,463.2 L337.3,463.2 L338.7,463.1 L340.1,462.8 L341.5,462.4 L342.8,461.9 L344.2,461.5 L345.5,460.9 L346.9,460.4 L348.2,459.9 L349.4,459.3 L350.7,458.7 L352.0,458.1 L353.2,457.5 L354.5,456.9 L355.7,456.3 L356.9,455.6 L358.1,455.0 L359.3,454.3 L360.5,453.6 L361.7,452.9 L362.8,452.3 L364.0,451.6 L365.1,450.8 L366.3,450.1 L367.4,449.4 L368.5,448.7" stroke="#ffb300" stroke-width="1.2"/>
<path d="M275.0,480.1 L276.5,480.1 L278.0,480.1 L279.6,480.1 L281.1,480.1 L282.6,480.1 L284.1,480.2 L285.6,480.2 L287.2,480.2 L288.7,480.2 L290.2,480.1 L291.7,480.1 L293.2,480.1 L294.7,480.0 L296.3,480.0 L297.8,479.9 L299.3,479.7 L300.8,479.6 L302.3,479.4 L303.8,479.1 L305.2,478.8 L306.7,478.5 L308.1,478.1 L309.5,477.7 L310.9,477.2 L312.3,476.7 L313.7,476.2 L315.1,475.6 L316.4,475.0 L317.8,474.3 L319.1,473.7 L320.4,473.0 L321.8,472.4 L323.1,471.7 L324.4,471.0 L325.8,470.4 L327.1,469.7 L328.5,469.0 L329.8,468.3 L331.1,467.5 L332.4,466.8 L333.7,466.1 L335.1,465.4 L336.5,464.9 L337.8,464.9 L339.2,464.7 L340.5,464.3 L341.9,463.8 L343.3,463.3 L344.6,462.8 L345.9,462.2 L347.2,461.6 L348.5,461.0 L349.8,460.4 L351.0,459.7 L352.3,459.1 L353.5,458.4 L354.7,457.7 L355.9,457.0 L357.1,456.3 L358.2,455.6 L359.4,454.8 L360.5,454.1 L361.7,453.4 L362.8,452.6 L363.9,451.8 L365.0,451.0 L366.1,450.3 L367.2,449.5 L368.3,448.7" stroke="#ffae03" stroke-width="1.2"/>
<path d="M275.0,481.1 L276.5,481.1 L278.0,481.1 L279.6,481.1 L281.1,481.1 L282.6,481.1 L284.1,481.2 L285.7,481.2 L287.2,481.2 L288.7,481.2 L290.2,481.2 L291.8,481.1 L293.3,481.1 L294.8,481.1 L296.3,481.0 L297.8,480.9 L299.3,480.8 L300.9,480.6 L302.4,480.5 L303.8,480.3 L305.3,480.0 L306.8,479.7 L308.2,479.4 L309.7,479.0 L311.1,478.5 L312.5,478.1 L313.9,477.5 L315.3,477.0 L316.7,476.4 L318.0,475.8 L319.4,475.2 L320.7,474.6 L322.1,473.9 L323.4,473.3 L324.8,472.6 L326.2,472.0 L327.5,471.3 L328.9,470.7 L330.2,470.0 L331.5,469.2 L332.9,468.5 L334.2,467.8 L335.6,467.1 L337.0,466.6 L338.3,466.5 L339.6,466.2 L341.0,465.7 L342.3,465.2 L343.7,464.7 L345.0,464.1 L346.3,463.4 L347.6,462.8 L348.8,462.1 L350.1,461.4 L351.3,460.7 L352.5,460.0 L353.7,459.3 L354.9,458.5 L356.1,457.8 L357.2,457.0 L358.3,456.2 L359.5,455.4 L360.6,454.6 L361.7,453.8 L362.8,452.9 L363.8,452.1 L364.9,451.2 L365.9,450.4 L367.0,449.5 L368.0,448.7" stroke="#ffa906" stroke-width="1.2"/>
<path d="M275.0,482.1 L276.5,482.1 L278.1,482.1 L279.6,482.1 L281.1,482.1 L282.6,482.2 L284.2,482.2 L285.7,482.2 L287.2,482.2 L288.7,482.2 L290.3,482.2 L291.8,482.1 L293.3,482.1 L294.9,482.1 L296.4,482.0 L297.9,481.9 L299.4,481.8 L300.9,481.7 L302.4,481.6 L303.9,481.4 L305.4,481.2 L306.9,480.9 L308.4,480.6 L309.8,480.2 L311.3,479.8 L312.7,479.4 L314.1,478.9 L315.5,478.4 L316.9,477.8 L318.3,477.3 L319.7,476.7 L321.0,476.1 L322.4,475.5 L323.8,474.9 L325.2,474.3 L326.5,473.6 L327.9,473.0 L329.3,472.3 L330.6,471.6 L332.0,470.9 L333.3,470.2 L334.7,469.5 L336.0,468.8 L337.4,468.3 L338.7,468.1 L340.1,467.7 L341.4,467.2 L342.8,466.6 L344.1,466.0 L345.4,465.4 L346.7,464.7 L348.0,464.0 L349.2,463.3 L350.4,462.5 L351.6,461.8 L352.8,461.0 L354.0,460.2 L355.1,459.3 L356.2,458.5 L357.3,457.7 L358.5,456.8 L359.5,455.9 L360.6,455.1 L361.7,454.2 L362.7,453.3 L363.8,452.3 L364.8,451.4 L365.8,450.5 L366.8,449.6 L367.8,448.6" stroke="#ffa409" stroke-width="1.2"/>
<path d="M275.0,483.1 L276.5,483.1 L278.1,483.1 L279.6,483.1 L281.1,483.1 L282.7,483.2 L284.2,483.2 L285.7,483.2 L287.3,483.2 L288.8,483.2 L290.3,483.2 L291.8,483.2 L293.4,483.1 L294.9,483.1 L296.4,483.1 L298.0,483.0 L299.5,482.9 L301.0,482.8 L302.5,482.7 L304.0,482.5 L305.5,482.3 L307.0,482.1 L308.5,481.8 L310.0,481.5 L311.4,481.1 L312.9,480.7 L314.3,480.3 L315.7,479.8 L317.1,479.3 L318.5,478.7 L319.9,478.2 L321.3,477.6 L322.7,477.0 L324.1,476.5 L325.5,475.9 L326.9,475.3 L328.3,474.6 L329.7,474.0 L331.0,473.3 L332.4,472.7 L333.8,472.0 L335.1,471.2 L336.5,470.6 L337.9,470.0 L339.2,469.7 L340.5,469.2 L341.9,468.7 L343.2,468.1 L344.5,467.4 L345.8,466.7 L347.1,466.0 L348.3,465.2 L349.5,464.4 L350.7,463.6 L351.9,462.8 L353.1,461.9 L354.2,461.0 L355.3,460.2 L356.4,459.3 L357.5,458.3 L358.6,457.4 L359.6,456.5 L360.7,455.5 L361.7,454.6 L362.7,453.6 L363.7,452.6 L364.6,451.6 L365.6,450.6 L366.6,449.6 L367.5,448.6" stroke="#ff9f0c" stroke-width="1.2"/>
<path d="M275.0,484.1 L276.5,484.1 L278.1,484.1 L279.6,484.1 L281.1,484.1 L282.7,484.2 L284.2,484.2 L285.8,484.2 L287.3,484.2 L288.8,484.2 L290.4,484.2 L291.9,484.2 L293.4,484.2 L295.0,484.1 L296.5,484.1 L298.0,484.0 L299.6,484.0 L301.1,483.9 L302.6,483.8 L304.1,483.6 L305.6,483.5 L307.1,483.3 L308.6,483.1 L310.1,482.8 L311.6,482.4 L313.0,482.1 L314.5,481.6 L315.9,481.2 L317.4,480.7 L318.8,480.2 L320.2,479.7 L321.6,479.1 L323.1,478.6 L324.5,478.0 L325.9,477.5 L327.3,476.9 L328.7,476.3 L330.1,475.7 L331.5,475.0 L332.8,474.4 L334.2,473.7 L335.6,473.0 L336.9,472.3 L338.3,471.7 L339.6,471.3 L341.0,470.8 L342.3,470.1 L343.7,469.5 L345.0,468.8 L346.2,468.0 L347.5,467.2 L348.7,466.4 L349.9,465.5 L351.1,464.7 L352.2,463.8 L353.3,462.9 L354.4,461.9 L355.5,461.0 L356.6,460.0 L357.6,459.0 L358.7,458.0 L359.7,457.0 L360.7,456.0 L361.7,455.0 L362.7,453.9 L363.6,452.9 L364.5,451.8 L365.4,450.7 L366.4,449.7 L367.3,448.6" stroke="#ff9b0f" stroke-width="1.2"/>
<path d="M275.0,485.1 L276.5,485.1 L278.1,485.1 L279.6,485.1 L281.2,485.1 L282.7,485.2 L284.2,485.2 L285.8,485.2 L287.3,485.2 L288.9,485.2 L290.4,485.2 L291.9,485.2 L293.5,485.2 L295.0,485.2 L296.6,485.1 L298.1,485.1 L299.6,485.0 L301.2,484.9 L302.7,484.9 L304.2,484.8 L305.7,484.6 L307.3,484.5 L308.8,484.3 L310.3,484.0 L311.8,483.7 L313.2,483.4 L314.7,483.0 L316.2,482.6 L317.6,482.1 L319.1,481.7 L320.5,481.2 L321.9,480.7 L323.4,480.2 L324.8,479.6 L326.2,479.1 L327.7,478.5 L329.1,477.9 L330.5,477.3 L331.9,476.7 L333.3,476.1 L334.6,475.4 L336.0,474.7 L337.4,474.0 L338.8,473.4 L340.1,472.9 L341.4,472.3 L342.8,471.6 L344.1,470.9 L345.4,470.1 L346.6,469.3 L347.9,468.5 L349.1,467.6 L350.2,466.7 L351.4,465.7 L352.5,464.8 L353.6,463.8 L354.7,462.8 L355.7,461.8 L356.8,460.7 L357.8,459.7 L358.8,458.6 L359.8,457.6 L360.8,456.5 L361.7,455.4 L362.6,454.3 L363.5,453.1 L364.4,452.0 L365.3,450.9 L366.2,449.7 L367.0,448.6" stroke="#ff940f" stroke-width="1.2"/>
<path d="M275.0,486.1 L276.5,486.1 L278.1,486.1 L279.6,486.1 L281.2,486.1 L282.7,486.2 L284.3,486.2 L285.8,486.2 L287.4,486.2 L288.9,486.2 L290.4,486.2 L292.0,486.2 L293.5,486.2 L295.1,486.2 L296.6,486.2 L298.2,486.1 L299.7,486.1 L301.2,486.0 L302.8,486.0 L304.3,485.9 L305.8,485.8 L307.4,485.7 L308.9,485.5 L310.4,485.3 L311.9,485.0 L313.4,484.7 L314.9,484.4 L316.4,484.0 L317.9,483.6 L319.3,483.1 L320.8,482.7 L322.2,482.2 L323.7,481.7 L325.1,481.2 L326.6,480.7 L328.0,480.2 L329.5,479.6 L330.9,479.0 L332.3,478.4 L333.7,477.8 L335.1,477.1 L336.5,476.4 L337.9,475.7 L339.2,475.1 L340.6,474.5 L341.9,473.8 L343.2,473.1 L344.5,472.3 L345.8,471.5 L347.0,470.6 L348.2,469.7 L349.4,468.8 L350.6,467.8 L351.7,466.8 L352.8,465.8 L353.9,464.8 L354.9,463.7 L355.9,462.6 L356.9,461.5 L357.9,460.4 L358.9,459.3 L359.9,458.1 L360.8,457.0 L361.7,455.8 L362.6,454.6 L363.4,453.4 L364.3,452.2 L365.1,451.0 L366.0,449.8 L366.8,448.5" stroke="#ff8c0c" stroke-width="1.2"/>
<path d="M275.0,487.1 L276.5,487.1 L278.1,487.1 L279.6,487.1 L281.2,487.2 L282.7,487.2 L284.3,487.2 L285.8,487.2 L287.4,487.2 L288.9,487.2 L290.5,487.2 L292.0,487.2 L293.6,487.2 L295.1,487.2 L296.7,487.2 L298.2,487.2 L299.8,487.1 L301.3,487.1 L302.9,487.1 L304.4,487.0 L305.9,487.0 L307.5,486.9 L309.0,486.8 L310.6,486.6 L312.1,486.3 L313.6,486.1 L315.1,485.7 L316.6,485.4 L318.1,485.0 L319.6,484.6 L321.1,484.2 L322.5,483.7 L324.0,483.3 L325.5,482.8 L326.9,482.3 L328.4,481.8 L329.8,481.3 L331.3,480.7 L332.7,480.1 L334.1,479.5 L335.5,478.8 L336.9,478.2 L338.3,477.5 L339.7,476.7 L341.0,476.1 L342.4,475.3 L343.7,474.6 L345.0,473.7 L346.2,472.9 L347.4,471.9 L348.6,471.0 L349.8,470.0 L350.9,468.9 L352.0,467.9 L353.1,466.8 L354.1,465.7 L355.2,464.6 L356.1,463.4 L357.1,462.2 L358.1,461.1 L359.0,459.9 L359.9,458.7 L360.8,457.4 L361.7,456.2 L362.5,454.9 L363.4,453.7 L364.2,452.4 L365.0,451.1 L365.8,449.8 L366.5,448.5" stroke="#ff8008" stroke-width="1.2"/>
<path d="M275.0,488.1 L276.6,488.1 L278.1,488.1 L279.7,488.1 L281.2,488.2 L282.8,488.2 L284.3,488.2 L285.9,488.2 L287.4,488.2 L289.0,488.2 L290.5,488.2 L292.1,488.2 L293.6,488.2 L295.2,488.2 L296.7,488.2 L298.3,488.2 L299.8,488.2 L301.4,488.2 L302.9,488.2 L304.5,488.2 L306.1,488.1 L307.6,488.1 L309.2,488.0 L310.7,487.8 L312.2,487.6 L313.8,487.4 L315.3,487.1 L316.8,486.8 L318.3,486.4 L319.8,486.0 L321.3,485.6 L322.8,485.2 L324.3,484.8 L325.8,484.4 L327.3,483.9 L328.8,483.4 L330.2,482.9 L331.7,482.4 L333.1,481.8 L334.6,481.2 L336.0,480.6 L337.4,479.9 L338.8,479.2 L340.1,478.4 L341.5,477.7 L342.8,476.9 L344.1,476.0 L345.4,475.1 L346.6,474.2 L347.9,473.2 L349.0,472.2 L350.2,471.2 L351.3,470.1 L352.3,469.0 L353.4,467.8 L354.4,466.6 L355.4,465.4 L356.4,464.2 L357.3,463.0 L358.2,461.7 L359.1,460.5 L360.0,459.2 L360.9,457.9 L361.7,456.6 L362.5,455.3 L363.3,453.9 L364.1,452.6 L364.8,451.2 L365.5,449.9 L366.3,448.5" stroke="#ff7303" stroke-width="1.2"/>
<path d="M275.0,488.1 L277.2,488.1 L279.4,488.1 L281.6,488.2 L283.7,488.2 L285.9,488.2 L288.1,488.2 L290.3,488.2 L292.5,488.2 L294.7,488.2 L296.9,488.2 L299.1,488.2 L301.2,488.2 L303.4,488.2 L305.6,488.1 L307.8,488.1 L310.0,487.9 L312.1,487.7 L314.3,487.3 L316.4,486.8 L318.6,486.4 L320.7,485.8 L322.8,485.2 L324.9,484.6 L327.0,484.0 L329.1,483.3 L331.1,482.6 L333.2,481.8 L335.2,480.9 L337.2,480.0 L339.1,479.0 L341.0,477.9 L342.9,476.8 L344.7,475.6 L346.5,474.3 L348.2,473.0 L349.8,471.5 L351.4,470.0 L352.9,468.4 L354.3,466.7 L355.7,465.1 L357.1,463.3 L358.4,461.6 L359.6,459.8 L360.8,458.0 L362.0,456.1 L363.1,454.2 L364.2,452.3 L365.2,450.4 L366.3,448.5 L370.8,446.8 L369.8,448.9 L368.8,451.0 L367.6,453.0 L366.4,455.0 L365.2,457.0 L363.9,459.0 L362.7,460.9 L361.3,462.8 L359.9,464.7 L358.5,466.5 L357.1,468.4 L355.6,470.2 L354.0,471.9 L352.4,473.6 L350.7,475.2 L349.0,476.8 L347.2,478.2 L345.3,479.5 L343.3,480.7 L341.2,481.9 L339.1,482.9 L337.0,483.8 L334.8,484.7 L332.6,485.5 L330.4,486.2 L328.2,486.9 L325.9,487.5 L323.7,488.1 L321.4,488.6 L319.2,489.2 L316.9,489.6 L314.6,490.0 L312.3,490.4 L310.0,490.7 L307.6,490.8 L305.3,490.9 L303.0,490.9 L300.6,490.9 L298.3,490.9 L296.0,490.9 L293.6,490.9 L291.3,490.9 L289.0,490.9 L286.7,490.8 L284.3,490.8 L282.0,490.8 L279.7,490.8 L277.3,490.7 L275.0,490.7Z" fill="#ff0800" stroke="#ff0800" stroke-width="0.5"/>
<path d="M275.0,472.6 L276.5,472.6 L278.0,472.6 L279.5,472.6 L280.9,472.6 L282.4,472.7 L283.9,472.7 L285.4,472.7 L286.9,472.6 L288.4,472.6 L289.9,472.6 L291.4,472.5 L292.8,472.5 L294.3,472.4 L295.8,472.2 L297.3,472.0 L298.7,471.8 L300.2,471.5 L301.6,471.1 L303.0,470.7 L304.4,470.2 L305.8,469.6 L307.1,468.9 L308.4,468.3 L309.7,467.5 L311.0,466.8 L312.2,466.0 L313.4,465.1 L314.6,464.3 L315.8,463.4 L317.0,462.5 L318.2,461.7 L319.4,460.8 L320.6,459.9 L321.8,459.0 L323.0,458.2 L324.2,457.3 L325.4,456.5 L326.6,455.6 L327.8,454.8 L329.1,453.9 L330.3,453.2 L331.7,452.5 L333.1,452.3 L334.4,452.9 L335.7,453.3 L337.2,453.3 L338.7,453.2 L340.1,453.1 L341.6,453.0 L343.0,452.8 L344.5,452.7 L345.9,452.5 L347.4,452.3 L348.8,452.2 L350.2,452.0 L351.7,451.8 L353.1,451.6 L354.5,451.4 L356.0,451.2 L357.4,451.0 L358.8,450.8 L360.2,450.6 L361.7,450.3 L363.1,450.1 L364.5,449.8 L365.9,449.6 L367.3,449.4 L368.7,449.1 L370.1,448.9" stroke="#140a00" stroke-opacity="0.8" stroke-width="0.7" stroke-dasharray="4,2" stroke-dashoffset="0"/>
<path d="M275.0,474.3 L276.5,474.3 L278.0,474.3 L279.5,474.3 L281.0,474.4 L282.5,474.4 L284.0,474.4 L285.5,474.4 L287.0,474.4 L288.5,474.3 L289.9,474.3 L291.4,474.3 L292.9,474.2 L294.4,474.1 L295.9,474.0 L297.4,473.8 L298.9,473.6 L300.3,473.3 L301.8,473.0 L303.2,472.6 L304.6,472.1 L306.0,471.6 L307.3,471.0 L308.7,470.4 L310.0,469.7 L311.3,469.0 L312.6,468.3 L313.8,467.5 L315.0,466.7 L316.3,465.9 L317.5,465.1 L318.7,464.3 L319.9,463.4 L321.2,462.6 L322.4,461.8 L323.6,461.0 L324.9,460.1 L326.1,459.3 L327.3,458.5 L328.6,457.7 L329.8,456.9 L331.1,456.1 L332.5,455.4 L333.9,455.1 L335.1,455.6 L336.5,455.9 L338.0,455.8 L339.4,455.6 L340.8,455.4 L342.3,455.2 L343.7,455.0 L345.1,454.7 L346.5,454.4 L347.9,454.2 L349.3,453.9 L350.7,453.6 L352.1,453.3 L353.5,453.0 L354.8,452.7 L356.2,452.4 L357.6,452.0 L358.9,451.7 L360.3,451.4 L361.7,451.0 L363.0,450.7 L364.4,450.3 L365.7,449.9 L367.0,449.6 L368.4,449.2 L369.7,448.8" stroke="#140a00" stroke-opacity="0.8" stroke-width="0.7" stroke-dasharray="5,3" stroke-dashoffset="2"/>
<path d="M275.0,476.0 L276.5,476.0 L278.0,476.0 L279.5,476.0 L281.0,476.1 L282.5,476.1 L284.0,476.1 L285.5,476.1 L287.0,476.1 L288.5,476.1 L290.0,476.0 L291.5,476.0 L293.0,475.9 L294.5,475.9 L296.0,475.7 L297.5,475.6 L299.0,475.4 L300.5,475.2 L301.9,474.9 L303.4,474.5 L304.8,474.1 L306.2,473.6 L307.6,473.1 L308.9,472.6 L310.3,472.0 L311.6,471.3 L312.9,470.6 L314.2,469.9 L315.5,469.1 L316.7,468.4 L318.0,467.6 L319.2,466.8 L320.5,466.1 L321.7,465.3 L323.0,464.5 L324.3,463.7 L325.5,463.0 L326.8,462.2 L328.1,461.4 L329.3,460.6 L330.6,459.8 L331.9,459.0 L333.2,458.4 L334.6,458.0 L335.9,458.3 L337.3,458.5 L338.7,458.3 L340.1,458.0 L341.6,457.7 L343.0,457.4 L344.3,457.1 L345.7,456.7 L347.1,456.4 L348.5,456.0 L349.8,455.6 L351.2,455.2 L352.5,454.8 L353.8,454.4 L355.1,454.0 L356.5,453.5 L357.8,453.1 L359.1,452.6 L360.4,452.2 L361.7,451.7 L362.9,451.2 L364.2,450.7 L365.5,450.3 L366.8,449.8 L368.0,449.3 L369.3,448.8" stroke="#140a00" stroke-opacity="0.8" stroke-width="0.7" stroke-dasharray="6,2" stroke-dashoffset="4"/>
<path d="M275.0,477.9 L276.5,477.9 L278.0,477.9 L279.5,477.9 L281.0,477.9 L282.5,477.9 L284.1,477.9 L285.6,477.9 L287.1,477.9 L288.6,477.9 L290.1,477.9 L291.6,477.9 L293.1,477.8 L294.6,477.8 L296.1,477.7 L297.6,477.5 L299.1,477.4 L300.6,477.2 L302.1,476.9 L303.5,476.6 L305.0,476.3 L306.4,475.9 L307.8,475.4 L309.2,474.9 L310.6,474.4 L311.9,473.8 L313.3,473.2 L314.6,472.5 L315.9,471.8 L317.2,471.1 L318.5,470.4 L319.8,469.7 L321.1,469.0 L322.4,468.2 L323.7,467.5 L325.0,466.8 L326.3,466.0 L327.6,465.3 L328.8,464.5 L330.1,463.8 L331.4,463.0 L332.7,462.3 L334.1,461.6 L335.5,461.2 L336.8,461.3 L338.1,461.3 L339.6,461.0 L341.0,460.7 L342.3,460.3 L343.7,459.9 L345.1,459.4 L346.4,459.0 L347.7,458.5 L349.1,458.0 L350.4,457.5 L351.7,457.0 L352.9,456.5 L354.2,455.9 L355.5,455.4 L356.7,454.8 L358.0,454.2 L359.2,453.6 L360.5,453.1 L361.7,452.5 L362.9,451.9 L364.1,451.2 L365.3,450.6 L366.5,450.0 L367.6,449.4 L368.8,448.7" stroke="#140a00" stroke-opacity="0.8" stroke-width="0.7" stroke-dasharray="4,3" stroke-dashoffset="6"/>
<path d="M275.0,479.9 L276.5,479.9 L278.0,480.0 L279.6,480.0 L281.1,480.0 L282.6,480.0 L284.1,480.0 L285.6,480.0 L287.1,480.0 L288.7,480.0 L290.2,480.0 L291.7,480.0 L293.2,479.9 L294.7,479.9 L296.2,479.8 L297.8,479.7 L299.3,479.5 L300.8,479.4 L302.3,479.2 L303.7,478.9 L305.2,478.7 L306.6,478.3 L308.1,477.9 L309.5,477.5 L310.9,477.0 L312.3,476.5 L313.7,475.9 L315.0,475.4 L316.4,474.7 L317.7,474.1 L319.1,473.5 L320.4,472.8 L321.7,472.1 L323.1,471.5 L324.4,470.8 L325.7,470.1 L327.1,469.4 L328.4,468.7 L329.7,468.0 L331.0,467.3 L332.3,466.5 L333.7,465.8 L335.0,465.1 L336.4,464.6 L337.7,464.6 L339.1,464.4 L340.5,464.0 L341.8,463.6 L343.2,463.1 L344.5,462.6 L345.9,462.0 L347.2,461.4 L348.4,460.8 L349.7,460.2 L351.0,459.6 L352.2,458.9 L353.4,458.3 L354.6,457.6 L355.8,456.9 L357.0,456.2 L358.2,455.5 L359.4,454.8 L360.5,454.0 L361.7,453.3 L362.8,452.5 L363.9,451.8 L365.0,451.0 L366.1,450.2 L367.2,449.5 L368.3,448.7" stroke="#140a00" stroke-opacity="0.8" stroke-width="0.7" stroke-dasharray="5,2" stroke-dashoffset="8"/>
<path d="M275.0,482.0 L276.5,482.0 L278.1,482.0 L279.6,482.0 L281.1,482.0 L282.6,482.0 L284.2,482.0 L285.7,482.0 L287.2,482.0 L288.7,482.0 L290.3,482.0 L291.8,482.0 L293.3,482.0 L294.8,482.0 L296.4,481.9 L297.9,481.8 L299.4,481.7 L300.9,481.6 L302.4,481.4 L303.9,481.2 L305.4,481.0 L306.9,480.8 L308.3,480.5 L309.8,480.1 L311.2,479.7 L312.7,479.2 L314.1,478.7 L315.5,478.2 L316.9,477.7 L318.3,477.1 L319.6,476.5 L321.0,475.9 L322.4,475.3 L323.7,474.7 L325.1,474.1 L326.5,473.4 L327.9,472.8 L329.2,472.1 L330.6,471.4 L331.9,470.7 L333.3,470.0 L334.6,469.3 L336.0,468.6 L337.4,468.1 L338.7,467.9 L340.0,467.5 L341.4,467.0 L342.7,466.5 L344.1,465.9 L345.4,465.2 L346.7,464.6 L347.9,463.9 L349.2,463.1 L350.4,462.4 L351.6,461.6 L352.8,460.9 L353.9,460.1 L355.1,459.2 L356.2,458.4 L357.3,457.6 L358.4,456.7 L359.5,455.9 L360.6,455.0 L361.7,454.1 L362.7,453.2 L363.8,452.3 L364.8,451.4 L365.8,450.5 L366.8,449.6 L367.8,448.6" stroke="#140a00" stroke-opacity="0.8" stroke-width="0.7" stroke-dasharray="6,3" stroke-dashoffset="10"/>
<path d="M275.0,484.0 L276.5,484.0 L278.1,484.0 L279.6,484.1 L281.1,484.1 L282.7,484.1 L284.2,484.1 L285.7,484.1 L287.3,484.1 L288.8,484.1 L290.4,484.1 L291.9,484.1 L293.4,484.1 L295.0,484.1 L296.5,484.0 L298.0,484.0 L299.6,483.9 L301.1,483.8 L302.6,483.7 L304.1,483.5 L305.6,483.4 L307.1,483.2 L308.6,483.0 L310.1,482.7 L311.6,482.3 L313.0,481.9 L314.5,481.5 L315.9,481.1 L317.4,480.6 L318.8,480.1 L320.2,479.6 L321.6,479.0 L323.0,478.5 L324.4,477.9 L325.8,477.3 L327.2,476.8 L328.6,476.2 L330.0,475.5 L331.4,474.9 L332.8,474.2 L334.2,473.5 L335.5,472.8 L336.9,472.1 L338.3,471.5 L339.6,471.1 L340.9,470.6 L342.3,470.0 L343.6,469.4 L344.9,468.6 L346.2,467.9 L347.4,467.1 L348.7,466.3 L349.9,465.4 L351.0,464.6 L352.2,463.7 L353.3,462.8 L354.4,461.9 L355.5,460.9 L356.6,459.9 L357.6,459.0 L358.7,458.0 L359.7,457.0 L360.7,456.0 L361.7,454.9 L362.7,453.9 L363.6,452.9 L364.5,451.8 L365.5,450.7 L366.4,449.7 L367.3,448.6" stroke="#140a00" stroke-opacity="0.8" stroke-width="0.7" stroke-dasharray="4,2" stroke-dashoffset="12"/>
<path d="M275.0,486.1 L276.5,486.1 L278.1,486.1 L279.6,486.1 L281.2,486.1 L282.7,486.1 L284.3,486.1 L285.8,486.1 L287.4,486.2 L288.9,486.2 L290.4,486.2 L292.0,486.2 L293.5,486.2 L295.1,486.1 L296.6,486.1 L298.2,486.1 L299.7,486.0 L301.2,486.0 L302.8,485.9 L304.3,485.9 L305.8,485.8 L307.4,485.6 L308.9,485.5 L310.4,485.3 L311.9,485.0 L313.4,484.7 L314.9,484.3 L316.4,483.9 L317.8,483.5 L319.3,483.1 L320.8,482.6 L322.2,482.1 L323.7,481.6 L325.1,481.1 L326.6,480.6 L328.0,480.1 L329.4,479.5 L330.9,479.0 L332.3,478.4 L333.7,477.7 L335.1,477.0 L336.5,476.4 L337.8,475.7 L339.2,475.0 L340.5,474.4 L341.9,473.7 L343.2,473.0 L344.5,472.3 L345.8,471.4 L347.0,470.6 L348.2,469.7 L349.4,468.7 L350.6,467.8 L351.7,466.8 L352.8,465.8 L353.9,464.7 L354.9,463.6 L355.9,462.6 L356.9,461.5 L357.9,460.4 L358.9,459.2 L359.9,458.1 L360.8,456.9 L361.7,455.8 L362.6,454.6 L363.4,453.4 L364.3,452.2 L365.1,451.0 L366.0,449.8 L366.8,448.5" stroke="#140a00" stroke-opacity="0.8" stroke-width="0.7" stroke-dasharray="5,3" stroke-dashoffset="14"/>
<path d="M275,481.3 Q282,480.2 289,480.5 Q299,482.3 309.5,488 L275,488.2 Z" fill="#ff9400"/>
<path d="M275,479.6 Q282,478.4 289.5,478.8 Q300,480.6 311,486.5" stroke="#1a0c00" stroke-opacity="0.7" stroke-width="0.8"/>
<path d="M372.2,447.7 L371.9,448.7 L371.6,449.7 L371.3,450.7 L370.9,451.7 L370.5,452.7 L370.0,453.6 L369.5,454.5 L369.0,455.4 L368.4,456.4 L367.9,457.3 L367.4,458.2 L366.8,459.1 L366.2,460.0 L365.7,460.9 L365.1,461.8 L364.5,462.7 L363.8,463.5 L363.2,464.4 L362.6,465.3 L361.9,466.2 L361.2,467.1 L360.6,468.0 L359.9,468.9 L359.2,469.7 L358.5,470.6 L357.7,471.6 L357.0,472.5 L356.3,473.4 L355.5,474.3 L354.8,475.2 L354.0,476.1 L353.3,477.0 L352.5,477.9 L351.7,478.8 L350.9,479.6 L350.1,480.5 L349.3,481.4 L348.5,482.2 L347.7,483.1 L346.9,483.9 L346.1,484.8 L345.2,485.6 L344.4,486.5 L343.6,487.3 L342.8,488.1 L342.0,489.0 L341.1,489.8 L340.3,490.6 L339.5,491.4" stroke="#00ffdd" stroke-width="1.0"/>
<path d="M372.9,447.9 L372.6,448.8 L372.4,449.7 L372.1,450.6 L371.8,451.5 L371.4,452.4 L371.0,453.2 L370.6,454.1 L370.2,454.9 L369.8,455.8 L369.3,456.6 L368.9,457.4 L368.4,458.3 L367.9,459.1 L367.4,459.9 L366.9,460.8 L366.4,461.6 L365.9,462.4 L365.3,463.2 L364.8,464.1 L364.2,464.9 L363.6,465.7 L363.1,466.6 L362.5,467.5 L361.9,468.3 L361.2,469.2 L360.6,470.1 L360.0,471.0 L359.4,472.0 L358.7,472.9 L358.1,473.9 L357.5,474.8 L356.8,475.7 L356.2,476.7 L355.5,477.6 L354.8,478.5 L354.2,479.4 L353.5,480.3 L352.8,481.2 L352.2,482.2 L351.5,483.1 L350.8,484.0 L350.2,484.9 L349.5,485.8 L348.8,486.7 L348.1,487.6 L347.5,488.5 L346.8,489.4 L346.1,490.3 L345.4,491.1" stroke="#00ffd8" stroke-width="1.0"/>
<path d="M373.6,448.1 L373.4,448.9 L373.1,449.8 L372.9,450.6 L372.6,451.4 L372.3,452.2 L372.0,453.0 L371.7,453.8 L371.3,454.6 L371.0,455.4 L370.6,456.2 L370.3,457.0 L369.9,457.8 L369.5,458.5 L369.1,459.3 L368.7,460.1 L368.3,460.9 L367.8,461.7 L367.4,462.5 L366.9,463.3 L366.5,464.1 L366.0,464.9 L365.5,465.7 L365.1,466.5 L364.6,467.4 L364.1,468.2 L363.6,469.1 L363.1,470.0 L362.6,470.9 L362.1,471.8 L361.6,472.8 L361.1,473.7 L360.6,474.6 L360.1,475.5 L359.6,476.5 L359.0,477.4 L358.5,478.3 L358.0,479.2 L357.5,480.1 L357.0,481.1 L356.5,482.0 L356.0,482.9 L355.4,483.8 L354.9,484.7 L354.4,485.7 L353.9,486.6 L353.4,487.5 L352.9,488.4 L352.3,489.3 L351.8,490.1" stroke="#00ffd3" stroke-width="1.0"/>
<path d="M374.3,448.3 L374.1,449.1 L373.9,449.9 L373.7,450.6 L373.4,451.4 L373.2,452.2 L372.9,453.0 L372.7,453.7 L372.4,454.5 L372.1,455.3 L371.9,456.0 L371.6,456.8 L371.3,457.5 L371.0,458.3 L370.7,459.1 L370.3,459.8 L370.0,460.6 L369.7,461.3 L369.4,462.1 L369.0,462.9 L368.7,463.7 L368.3,464.4 L368.0,465.2 L367.7,466.0 L367.3,466.8 L367.0,467.6 L366.6,468.5 L366.3,469.3 L365.9,470.2 L365.6,471.1 L365.2,471.9 L364.9,472.8 L364.6,473.7 L364.2,474.5 L363.9,475.4 L363.5,476.3 L363.2,477.2 L362.8,478.0 L362.5,478.9 L362.1,479.8 L361.8,480.6 L361.4,481.5 L361.1,482.4 L360.7,483.3 L360.4,484.1 L360.1,485.0 L359.7,485.9 L359.4,486.7 L359.0,487.6 L358.7,488.4" stroke="#00ffce" stroke-width="1.0"/>
<path d="M375.0,448.5 L374.8,449.3 L374.6,450.0 L374.4,450.8 L374.2,451.5 L374.0,452.3 L373.8,453.1 L373.6,453.8 L373.4,454.6 L373.2,455.3 L373.0,456.1 L372.8,456.9 L372.5,457.6 L372.3,458.4 L372.1,459.1 L371.9,459.9 L371.7,460.7 L371.5,461.4 L371.3,462.2 L371.0,462.9 L370.8,463.7 L370.6,464.4 L370.4,465.2 L370.3,466.0 L370.1,466.7 L369.9,467.5 L369.7,468.3 L369.6,469.0 L369.4,469.8 L369.2,470.6 L369.1,471.4 L368.9,472.1 L368.7,472.9 L368.6,473.7 L368.4,474.4 L368.2,475.2 L368.1,476.0 L367.9,476.7 L367.7,477.5 L367.6,478.3 L367.4,479.1 L367.2,479.8 L367.1,480.6 L366.9,481.4 L366.8,482.1 L366.6,482.9 L366.5,483.7 L366.3,484.5 L366.2,485.2 L366.0,486.0" stroke="#00ffc8" stroke-width="1.0"/>
<path d="M375.7,448.7 L375.5,449.5 L375.3,450.2 L375.1,451.0 L374.9,451.8 L374.7,452.6 L374.6,453.3 L374.4,454.1 L374.3,454.9 L374.1,455.7 L374.0,456.5 L373.9,457.2 L373.7,458.0 L373.6,458.8 L373.5,459.6 L373.3,460.3 L373.2,461.1 L373.1,461.9 L373.1,462.7 L373.0,463.4 L372.9,464.2 L372.9,464.9 L372.9,465.7 L372.9,466.4 L372.9,467.1 L372.9,467.8 L372.9,468.5 L373.0,469.2 L373.0,469.8 L373.0,470.4 L373.1,471.1 L373.1,471.7 L373.1,472.3 L373.2,472.9 L373.2,473.5 L373.2,474.1 L373.3,474.8 L373.3,475.4 L373.3,476.0 L373.3,476.6 L373.4,477.2 L373.4,477.8 L373.4,478.4 L373.5,479.1 L373.5,479.7 L373.6,480.3 L373.6,480.9 L373.7,481.6 L373.7,482.2 L373.8,482.9" stroke="#00ffc3" stroke-width="1.0"/>
<path d="M376.4,448.9 L376.2,449.7 L376.0,450.5 L375.8,451.3 L375.6,452.1 L375.5,452.9 L375.3,453.8 L375.2,454.6 L375.1,455.4 L375.0,456.2 L374.9,457.0 L374.9,457.9 L374.8,458.7 L374.7,459.5 L374.7,460.3 L374.7,461.2 L374.7,462.0 L374.7,462.8 L374.8,463.6 L374.9,464.3 L375.0,465.1 L375.1,465.8 L375.3,466.6 L375.5,467.3 L375.7,467.9 L376.0,468.6 L376.2,469.1 L376.5,469.6 L376.7,470.1 L377.0,470.6 L377.2,471.0 L377.5,471.4 L377.7,471.9 L378.0,472.3 L378.2,472.7 L378.5,473.1 L378.7,473.5 L379.0,473.9 L379.2,474.3 L379.4,474.7 L379.7,475.1 L379.9,475.5 L380.2,475.9 L380.4,476.3 L380.7,476.7 L380.9,477.2 L381.2,477.6 L381.5,478.1 L381.7,478.5 L382.0,479.0" stroke="#00ffbe" stroke-width="1.0"/>
<path d="M377.1,449.1 L376.9,450.0 L376.7,450.8 L376.5,451.7 L376.3,452.6 L376.1,453.4 L376.0,454.3 L375.9,455.2 L375.8,456.1 L375.8,457.0 L375.8,457.9 L375.7,458.8 L375.8,459.7 L375.8,460.6 L375.8,461.5 L375.9,462.3 L376.0,463.2 L376.2,464.0 L376.4,464.9 L376.7,465.7 L377.0,466.4 L377.3,467.2 L377.7,467.9 L378.1,468.6 L378.6,469.2 L379.1,469.7 L379.6,470.2 L380.1,470.5 L380.6,470.8 L381.1,471.0 L381.6,471.2 L382.1,471.4 L382.5,471.6 L383.0,471.7 L383.5,471.9 L384.0,472.1 L384.5,472.3 L384.9,472.4 L385.4,472.6 L385.9,472.7 L386.3,472.8 L386.8,472.9 L387.2,473.1 L387.7,473.2 L388.2,473.3 L388.7,473.5 L389.2,473.7 L389.7,473.9 L390.2,474.2 L390.7,474.5" stroke="#00ffb9" stroke-width="1.0"/>
<path d="M377.8,449.3 L377.6,450.3 L377.3,451.2 L377.1,452.2 L376.9,453.1 L376.7,454.1 L376.6,455.1 L376.5,456.1 L376.4,457.0 L376.5,458.0 L376.5,459.0 L376.5,460.0 L376.6,461.0 L376.7,461.9 L376.9,462.9 L377.0,463.9 L377.3,464.8 L377.6,465.7 L378.0,466.6 L378.5,467.4 L379.0,468.2 L379.5,469.0 L380.1,469.7 L380.8,470.3 L381.5,470.9 L382.2,471.3 L383.0,471.6 L383.8,471.8 L384.6,471.8 L385.3,471.8 L386.1,471.7 L386.8,471.6 L387.6,471.5 L388.3,471.3 L389.0,471.2 L389.7,471.1 L390.5,471.0 L391.2,470.8 L391.9,470.6 L392.6,470.4 L393.3,470.3 L394.0,470.1 L394.7,469.9 L395.4,469.7 L396.1,469.5 L396.8,469.3 L397.5,469.2 L398.3,469.2 L399.1,469.2 L399.9,469.2" stroke="#00ffb4" stroke-width="1.0"/>
<path d="M378.5,449.5 L378.3,450.6 L378.0,451.6 L377.7,452.7 L377.5,453.8 L377.3,454.9 L377.1,456.0 L377.0,457.1 L377.0,458.2 L377.1,459.3 L377.1,460.4 L377.2,461.5 L377.4,462.6 L377.6,463.6 L377.8,464.7 L378.1,465.8 L378.4,466.8 L378.9,467.8 L379.5,468.8 L380.1,469.7 L380.9,470.5 L381.6,471.3 L382.5,472.0 L383.4,472.6 L384.4,473.1 L385.4,473.4 L386.5,473.5 L387.6,473.4 L388.7,473.2 L389.8,472.9 L390.8,472.5 L391.8,472.0 L392.8,471.5 L393.8,471.1 L394.8,470.6 L395.8,470.1 L396.8,469.6 L397.7,469.1 L398.7,468.6 L399.7,468.0 L400.6,467.4 L401.5,466.9 L402.5,466.3 L403.4,465.7 L404.4,465.1 L405.3,464.6 L406.3,464.2 L407.4,463.8 L408.4,463.5 L409.5,463.2" stroke="#00ffaf" stroke-width="1.0"/>
<path d="M383.0,451.5 C382.8,452.9 381.4,457.3 381.5,460.0 C381.6,462.7 382.3,465.9 383.5,467.5 C384.7,469.1 386.4,470.0 388.5,469.8 C390.6,469.6 393.6,467.9 396.0,466.5 C398.4,465.1 401.8,462.3 403.0,461.5" stroke="#00ffd0" stroke-width="1"/>
<path d="M388.0,454.0 C387.8,455.0 386.5,458.2 386.5,460.0 C386.5,461.8 387.1,463.9 388.0,464.8 C388.9,465.7 390.3,465.8 392.0,465.2 C393.7,464.6 397.0,462.1 398.0,461.5" stroke="#00ffc0" stroke-width="1"/>
<path d="M335.2,450.2 L370.6,447.8" stroke="#000" stroke-width="3.2"/>
<path d="M334.4,448.5 L355.6,447" stroke="#ffe400" stroke-width="1.1"/>
<path d="M355.6,447 L370,445.5" stroke="#b8e800" stroke-width="1.1"/>
<path d="M338.8,452.6 L370,449.9" stroke="#fff0e8" stroke-opacity="0.8" stroke-width="0.8" stroke-dasharray="2.5,1.2"/>
<path d="M379,447.2 L409.6,465.3" stroke="#000" stroke-width="3.2"/>
<path d="M378.4,446.1 L385,449.7" stroke="#30e8ff" stroke-width="1.1"/>
<path d="M385,449.7 L408.5,460.6 Q412.3,462.2 411,464.3 L409.6,466.6" stroke="#20f820" stroke-width="1.1"/>
<path d="M379.4,448.5 L409.2,466.2" stroke="#f4ecec" stroke-opacity="0.85" stroke-width="0.9"/>
<path d="M401.5,458.2 L409.6,462.2" stroke="#1020ff" stroke-width="1.6"/>
<path d="M364.7,445 Q369,442.5 372,444.2 L376,446.5" stroke="#00e8f0" stroke-width="1.1"/>
<path d="M349.0,447.6 C349.1,446.6 348.6,443.7 349.4,441.8 C350.2,439.9 351.6,437.9 353.8,436.4 C356.0,434.9 361.3,433.4 362.8,432.8" stroke="#00f860" stroke-width="1.2"/>
<path d="M362.8,432.8 L368,432.1" stroke="#00f0b0" stroke-width="1.2"/>
<path d="M368,432.1 L375.2,432.3 L379.5,434.6" stroke="#90f800" stroke-width="1.2"/>
<path d="M379.5,434.6 L389.8,436.4 L388.3,442.5 L386,448.8" stroke="#20f830" stroke-width="1.2"/>
</g>
</svg></body></html>
